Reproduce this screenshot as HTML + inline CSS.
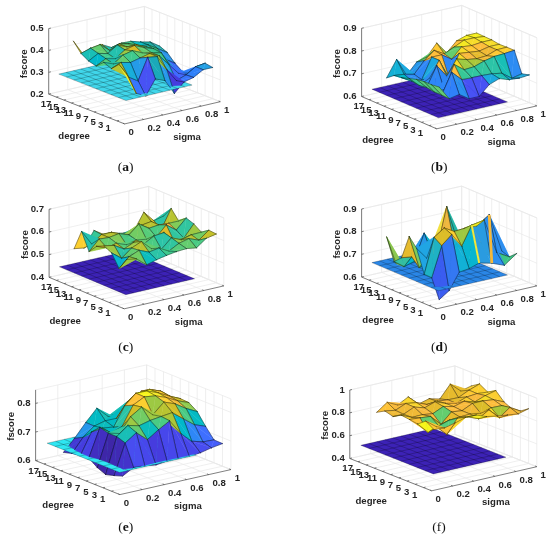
<!DOCTYPE html>
<html><head><meta charset="utf-8"><title>fscore surfaces</title>
<style>html,body{margin:0;padding:0;background:#fff}svg{display:block}</style></head>
<body><svg width="550" height="538" viewBox="0 0 550 538" shape-rendering="geometricPrecision"><rect width="550" height="538" fill="#fff"/>
<g><path d="M124.6 123.9L48.7 94.1 M48.7 94.1L48.7 28.6 M143.7 119.5L67.8 89.7 M67.8 89.7L67.8 24.2 M162.9 115.0L87.0 85.2 M87.0 85.2L87.0 19.7 M182.0 110.6L106.1 80.8 M106.1 80.8L106.1 15.3 M201.2 106.1L125.3 76.3 M125.3 76.3L125.3 10.8 M220.3 101.7L144.4 71.9 M144.4 71.9L144.4 6.4 M117.0 120.9L212.7 98.7 M212.7 98.7L212.7 33.2 M109.4 117.9L205.1 95.7 M205.1 95.7L205.1 30.2 M101.8 115.0L197.5 92.8 M197.5 92.8L197.5 27.3 M94.2 112.0L189.9 89.8 M189.9 89.8L189.9 24.3 M86.7 109.0L182.4 86.8 M182.4 86.8L182.4 21.3 M79.1 106.0L174.8 83.8 M174.8 83.8L174.8 18.3 M71.5 103.0L167.2 80.8 M167.2 80.8L167.2 15.3 M63.9 100.1L159.6 77.9 M159.6 77.9L159.6 12.4 M56.3 97.1L152.0 74.9 M152.0 74.9L152.0 9.4 M48.7 94.1L144.4 71.9 M144.4 71.9L220.3 101.7 M48.7 72.3L144.4 50.1 M144.4 50.1L220.3 79.9 M48.7 50.4L144.4 28.2 M144.4 28.2L220.3 58.0 M48.7 28.6L144.4 6.4 M144.4 6.4L220.3 36.2 M48.7 28.6L144.4 6.4 M144.4 6.4L220.3 36.2 M220.3 101.7L220.3 36.2 M144.4 71.9L144.4 6.4 M48.7 94.1L144.4 71.9 M144.4 71.9L220.3 101.7" stroke="#e8e8e8" stroke-width="0.7" fill="none"/>
<polygon points="174.8,63.1 174.8,63.1 174.8,63.1" fill="#2a94e8" stroke="#2a94e8" stroke-width="0.4"/><polygon points="174.8,63.1 174.8,63.1 174.8,63.1" fill="#2a94e8" stroke="#2a94e8" stroke-width="0.4"/><path d="M174.8 63.1L174.8 63.1 M174.8 63.1L174.8 63.1" stroke="#000" stroke-opacity="0.75" stroke-width="0.5" fill="none" stroke-linecap="round"/>
<polygon points="173.8,68.0 182.4,71.5 174.3,65.7" fill="#3568f5" stroke="#3568f5" stroke-width="0.4"/><polygon points="182.4,71.5 174.8,63.1 174.8,63.1 174.3,65.7" fill="#3568f5" stroke="#3568f5" stroke-width="0.4"/><path d="M173.8 68.0L182.4 71.5 M182.4 71.5L174.8 63.1 M174.8 63.1L174.8 63.1" stroke="#000" stroke-opacity="0.75" stroke-width="0.5" fill="none" stroke-linecap="round"/>
<polygon points="180.4,73.0 189.9,76.9 174.1,68.3 174.9,69.1" fill="#4432cc" stroke="#4432cc" stroke-width="0.4"/><polygon points="189.9,76.9 182.4,71.5 173.8,68.0 174.1,68.3" fill="#4432cc" stroke="#4432cc" stroke-width="0.4"/><path d="M180.4 73.0L189.9 76.9 M189.9 76.9L182.4 71.5 M182.4 71.5L173.8 68.0 M174.9 69.1L180.4 73.0" stroke="#000" stroke-opacity="0.75" stroke-width="0.5" fill="none" stroke-linecap="round"/>
<polygon points="194.3,70.7 189.9,76.9 188.2,73.6" fill="#4269fe" stroke="#4269fe" stroke-width="0.4"/><polygon points="188.2,73.6 189.9,76.9 180.4,73.0 185.0,73.1" fill="#4269fe" stroke="#4269fe" stroke-width="0.4"/><path d="M194.3 70.7L189.9 76.9 M189.9 76.9L180.4 73.0 M180.4 73.0L185.0 73.1" stroke="#000" stroke-opacity="0.75" stroke-width="0.5" fill="none" stroke-linecap="round"/>
<polygon points="178.6,71.7 180.4,73.0 178.2,71.2" fill="#2b91ef" stroke="#2b91ef" stroke-width="0.4"/><polygon points="180.4,73.0 174.9,69.1 178.2,71.2" fill="#2b91ef" stroke="#2b91ef" stroke-width="0.4"/><path d="M178.6 71.7L180.4 73.0 M180.4 73.0L174.9 69.1" stroke="#000" stroke-opacity="0.75" stroke-width="0.5" fill="none" stroke-linecap="round"/>
<polygon points="185.0,73.1 180.4,73.0 178.6,71.7" fill="#327cfc" stroke="#327cfc" stroke-width="0.4"/><path d="M185.0 73.1L180.4 73.0 M180.4 73.0L178.6 71.7" stroke="#000" stroke-opacity="0.75" stroke-width="0.5" fill="none" stroke-linecap="round"/>
<polygon points="174.4,93.4 181.3,85.3 172.0,85.9" fill="#463cde" stroke="#463cde" stroke-width="0.4"/><path d="M174.4 93.4L181.3 85.3 M172.0 85.9L174.4 93.4" stroke="#000" stroke-opacity="0.75" stroke-width="0.5" fill="none" stroke-linecap="round"/>
<polygon points="170.3,87.8 174.4,93.4 171.3,86.7" fill="#2797eb" stroke="#2797eb" stroke-width="0.4"/><polygon points="174.4,93.4 172.0,85.9 171.3,86.7" fill="#2797eb" stroke="#2797eb" stroke-width="0.4"/><path d="M170.3 87.8L174.4 93.4 M174.4 93.4L172.0 85.9" stroke="#000" stroke-opacity="0.75" stroke-width="0.5" fill="none" stroke-linecap="round"/>
<polygon points="145.7,95.9 147.3,93.2 145.9,93.1" fill="#4852f4" stroke="#4852f4" stroke-width="0.4"/><polygon points="145.7,95.9 145.9,93.1 144.2,92.9" fill="#4852f4" stroke="#4852f4" stroke-width="0.4"/><path d="M145.7 95.9L147.3 93.2 M144.2 92.9L145.7 95.9" stroke="#000" stroke-opacity="0.75" stroke-width="0.5" fill="none" stroke-linecap="round"/>
<polygon points="140.9,94.6 145.7,95.9 143.4,93.4" fill="#3875fe" stroke="#3875fe" stroke-width="0.4"/><polygon points="145.7,95.9 144.2,92.9 143.4,93.4" fill="#3875fe" stroke="#3875fe" stroke-width="0.4"/><path d="M140.9 94.6L145.7 95.9 M145.7 95.9L144.2 92.9" stroke="#000" stroke-opacity="0.75" stroke-width="0.5" fill="none" stroke-linecap="round"/>
<polygon points="126.0,100.5 192.1,85.1 124.9,58.8 58.8,74.1" fill="#40d6ea"/><path d="M126.0 100.5L58.8 74.1 M133.3 98.8L66.1 72.4 M140.7 97.1L73.5 70.7 M148.0 95.4L80.8 69.0 M155.4 93.7L88.2 67.3 M162.7 91.9L95.5 65.6 M170.1 90.2L102.9 63.9 M177.4 88.5L110.2 62.2 M184.8 86.8L117.6 60.5 M192.1 85.1L124.9 58.8 M126.0 100.5L192.1 85.1 M118.5 97.5L184.6 82.2 M111.0 94.6L177.2 79.3 M103.6 91.7L169.7 76.3 M96.1 88.7L162.2 73.4 M88.7 85.8L154.8 70.5 M81.2 82.9L147.3 67.5 M73.7 80.0L139.9 64.6 M66.3 77.0L132.4 61.7 M58.8 74.1L124.9 58.8" stroke="#000" stroke-opacity="0.45" stroke-width="0.5" fill="none"/>
<polygon points="157.6,48.6 167.2,52.5 150.0,41.9" fill="#20b0b0" stroke="#20b0b0" stroke-width="0.4"/><polygon points="167.2,52.5 159.6,46.0 150.0,41.9" fill="#20b0b0" stroke="#20b0b0" stroke-width="0.4"/><path d="M157.6 48.6L167.2 52.5 M167.2 52.5L159.6 46.0 M159.6 46.0L150.0 41.9 M150.0 41.9L157.6 48.6" stroke="#000" stroke-opacity="0.75" stroke-width="0.5" fill="none" stroke-linecap="round"/>
<polygon points="165.2,59.2 174.8,63.1 157.6,48.6" fill="#2a94e8" stroke="#2a94e8" stroke-width="0.4"/><polygon points="174.8,63.1 167.2,52.5 157.6,48.6" fill="#2a94e8" stroke="#2a94e8" stroke-width="0.4"/><path d="M165.2 59.2L174.8 63.1 M174.8 63.1L167.2 52.5 M167.2 52.5L157.6 48.6 M157.6 48.6L165.2 59.2" stroke="#000" stroke-opacity="0.75" stroke-width="0.5" fill="none" stroke-linecap="round"/>
<polygon points="172.8,67.6 173.8,68.0 174.3,65.7 165.2,59.2" fill="#3568f5" stroke="#3568f5" stroke-width="0.4"/><polygon points="174.8,63.1 174.8,63.1 165.2,59.2 174.3,65.7" fill="#3568f5" stroke="#3568f5" stroke-width="0.4"/><path d="M172.8 67.6L173.8 68.0 M174.8 63.1L174.8 63.1 M174.8 63.1L165.2 59.2 M165.2 59.2L172.8 67.6" stroke="#000" stroke-opacity="0.75" stroke-width="0.5" fill="none" stroke-linecap="round"/>
<polygon points="148.0,44.9 157.6,48.6 140.4,41.9" fill="#20b0a8" stroke="#20b0a8" stroke-width="0.4"/><polygon points="157.6,48.6 150.0,41.9 140.4,41.9" fill="#20b0a8" stroke="#20b0a8" stroke-width="0.4"/><path d="M148.0 44.9L157.6 48.6 M157.6 48.6L150.0 41.9 M150.0 41.9L140.4 41.9 M140.4 41.9L148.0 44.9" stroke="#000" stroke-opacity="0.75" stroke-width="0.5" fill="none" stroke-linecap="round"/>
<polygon points="174.1,68.3 172.8,67.6 174.9,69.1" fill="#4432cc" stroke="#4432cc" stroke-width="0.4"/><polygon points="173.8,68.0 172.8,67.6 174.1,68.3" fill="#4432cc" stroke="#4432cc" stroke-width="0.4"/><path d="M173.8 68.0L172.8 67.6 M172.8 67.6L174.9 69.1" stroke="#000" stroke-opacity="0.75" stroke-width="0.5" fill="none" stroke-linecap="round"/>
<polygon points="155.6,51.1 165.2,59.2 148.0,44.9" fill="#3cc080" stroke="#3cc080" stroke-width="0.4"/><polygon points="165.2,59.2 157.6,48.6 148.0,44.9" fill="#3cc080" stroke="#3cc080" stroke-width="0.4"/><path d="M155.6 51.1L165.2 59.2 M165.2 59.2L157.6 48.6 M157.6 48.6L148.0 44.9 M148.0 44.9L155.6 51.1" stroke="#000" stroke-opacity="0.75" stroke-width="0.5" fill="none" stroke-linecap="round"/>
<polygon points="138.5,46.0 148.0,44.9 130.9,41.3" fill="#02bac3" stroke="#02bac3" stroke-width="0.4"/><polygon points="148.0,44.9 140.4,41.9 130.9,41.3" fill="#02bac3" stroke="#02bac3" stroke-width="0.4"/><path d="M138.5 46.0L148.0 44.9 M148.0 44.9L140.4 41.9 M140.4 41.9L130.9 41.3 M130.9 41.3L138.5 46.0" stroke="#000" stroke-opacity="0.75" stroke-width="0.5" fill="none" stroke-linecap="round"/>
<polygon points="163.2,58.5 172.8,67.6 155.6,51.1" fill="#20a5e3" stroke="#20a5e3" stroke-width="0.4"/><polygon points="172.8,67.6 165.2,59.2 155.6,51.1" fill="#20a5e3" stroke="#20a5e3" stroke-width="0.4"/><path d="M163.2 58.5L172.8 67.6 M172.8 67.6L165.2 59.2 M165.2 59.2L155.6 51.1 M155.6 51.1L163.2 58.5" stroke="#000" stroke-opacity="0.75" stroke-width="0.5" fill="none" stroke-linecap="round"/>
<polygon points="188.0,73.1 197.5,66.1 194.3,70.7 188.2,73.6" fill="#4269fe" stroke="#4269fe" stroke-width="0.4"/><polygon points="188.0,73.1 188.2,73.6 185.0,73.1" fill="#4269fe" stroke="#4269fe" stroke-width="0.4"/><path d="M188.0 73.1L197.5 66.1 M197.5 66.1L194.3 70.7 M185.0 73.1L188.0 73.1" stroke="#000" stroke-opacity="0.75" stroke-width="0.5" fill="none" stroke-linecap="round"/>
<polygon points="170.8,65.8 178.6,71.7 178.2,71.2 163.2,58.5" fill="#2b91ef" stroke="#2b91ef" stroke-width="0.4"/><polygon points="174.9,69.1 172.8,67.6 163.2,58.5 178.2,71.2" fill="#2b91ef" stroke="#2b91ef" stroke-width="0.4"/><path d="M170.8 65.8L178.6 71.7 M174.9 69.1L172.8 67.6 M172.8 67.6L163.2 58.5 M163.2 58.5L170.8 65.8" stroke="#000" stroke-opacity="0.75" stroke-width="0.5" fill="none" stroke-linecap="round"/>
<polygon points="146.1,46.8 155.6,51.1 138.5,46.0" fill="#24c1ae" stroke="#24c1ae" stroke-width="0.4"/><polygon points="155.6,51.1 148.0,44.9 138.5,46.0" fill="#24c1ae" stroke="#24c1ae" stroke-width="0.4"/><path d="M146.1 46.8L155.6 51.1 M155.6 51.1L148.0 44.9 M148.0 44.9L138.5 46.0 M138.5 46.0L146.1 46.8" stroke="#000" stroke-opacity="0.75" stroke-width="0.5" fill="none" stroke-linecap="round"/>
<polygon points="128.9,43.9 138.5,46.0 130.9,41.3" fill="#3fca8e" stroke="#3fca8e" stroke-width="0.4"/><polygon points="128.9,43.9 130.9,41.3 121.3,43.1" fill="#3fca8e" stroke="#3fca8e" stroke-width="0.4"/><path d="M128.9 43.9L138.5 46.0 M138.5 46.0L130.9 41.3 M130.9 41.3L121.3 43.1 M121.3 43.1L128.9 43.9" stroke="#000" stroke-opacity="0.75" stroke-width="0.5" fill="none" stroke-linecap="round"/>
<polygon points="178.4,73.2 188.0,73.1 170.8,65.8" fill="#327cfc" stroke="#327cfc" stroke-width="0.4"/><polygon points="188.0,73.1 185.0,73.1 178.6,71.7 170.8,65.8" fill="#327cfc" stroke="#327cfc" stroke-width="0.4"/><path d="M178.4 73.2L188.0 73.1 M188.0 73.1L185.0 73.1 M178.6 71.7L170.8 65.8 M170.8 65.8L178.4 73.2" stroke="#000" stroke-opacity="0.75" stroke-width="0.5" fill="none" stroke-linecap="round"/>
<polygon points="153.6,48.7 163.2,58.5 146.1,46.8" fill="#31c69f" stroke="#31c69f" stroke-width="0.4"/><polygon points="163.2,58.5 155.6,51.1 146.1,46.8" fill="#31c69f" stroke="#31c69f" stroke-width="0.4"/><path d="M153.6 48.7L163.2 58.5 M163.2 58.5L155.6 51.1 M155.6 51.1L146.1 46.8 M146.1 46.8L153.6 48.7" stroke="#000" stroke-opacity="0.75" stroke-width="0.5" fill="none" stroke-linecap="round"/>
<polygon points="119.3,43.9 128.9,43.9 111.7,47.5" fill="#64cd6f" stroke="#64cd6f" stroke-width="0.4"/><polygon points="128.9,43.9 121.3,43.1 111.7,47.5" fill="#64cd6f" stroke="#64cd6f" stroke-width="0.4"/><path d="M119.3 43.9L128.9 43.9 M128.9 43.9L121.3 43.1 M121.3 43.1L111.7 47.5 M111.7 47.5L119.3 43.9" stroke="#000" stroke-opacity="0.75" stroke-width="0.5" fill="none" stroke-linecap="round"/>
<polygon points="136.5,44.7 146.1,46.8 138.5,46.0" fill="#64cd6f" stroke="#64cd6f" stroke-width="0.4"/><polygon points="136.5,44.7 138.5,46.0 128.9,43.9" fill="#64cd6f" stroke="#64cd6f" stroke-width="0.4"/><path d="M136.5 44.7L146.1 46.8 M146.1 46.8L138.5 46.0 M138.5 46.0L128.9 43.9 M128.9 43.9L136.5 44.7" stroke="#000" stroke-opacity="0.75" stroke-width="0.5" fill="none" stroke-linecap="round"/>
<polygon points="195.6,66.7 205.1,63.2 188.0,73.1" fill="#23a0e5" stroke="#23a0e5" stroke-width="0.4"/><polygon points="205.1,63.2 197.5,66.1 188.0,73.1" fill="#23a0e5" stroke="#23a0e5" stroke-width="0.4"/><path d="M195.6 66.7L205.1 63.2 M205.1 63.2L197.5 66.1 M197.5 66.1L188.0 73.1 M188.0 73.1L195.6 66.7" stroke="#000" stroke-opacity="0.75" stroke-width="0.5" fill="none" stroke-linecap="round"/>
<polygon points="109.8,50.5 119.3,43.9 111.7,47.5" fill="#24c1ae" stroke="#24c1ae" stroke-width="0.4"/><polygon points="109.8,50.5 111.7,47.5 102.2,44.7" fill="#24c1ae" stroke="#24c1ae" stroke-width="0.4"/><path d="M109.8 50.5L119.3 43.9 M119.3 43.9L111.7 47.5 M111.7 47.5L102.2 44.7 M102.2 44.7L109.8 50.5" stroke="#000" stroke-opacity="0.75" stroke-width="0.5" fill="none" stroke-linecap="round"/>
<polygon points="161.2,52.8 170.8,65.8 153.6,48.7" fill="#24c1ae" stroke="#24c1ae" stroke-width="0.4"/><polygon points="170.8,65.8 163.2,58.5 153.6,48.7" fill="#24c1ae" stroke="#24c1ae" stroke-width="0.4"/><path d="M161.2 52.8L170.8 65.8 M170.8 65.8L163.2 58.5 M163.2 58.5L153.6 48.7 M153.6 48.7L161.2 52.8" stroke="#000" stroke-opacity="0.75" stroke-width="0.5" fill="none" stroke-linecap="round"/>
<polygon points="186.0,74.9 195.6,66.7 178.4,73.2" fill="#2f81fa" stroke="#2f81fa" stroke-width="0.4"/><polygon points="195.6,66.7 188.0,73.1 178.4,73.2" fill="#2f81fa" stroke="#2f81fa" stroke-width="0.4"/><path d="M186.0 74.9L195.6 66.7 M195.6 66.7L188.0 73.1 M188.0 73.1L178.4 73.2 M178.4 73.2L186.0 74.9" stroke="#000" stroke-opacity="0.75" stroke-width="0.5" fill="none" stroke-linecap="round"/>
<polygon points="126.9,46.9 136.5,44.7 128.9,43.9" fill="#64cd6f" stroke="#64cd6f" stroke-width="0.4"/><polygon points="126.9,46.9 128.9,43.9 119.3,43.9" fill="#64cd6f" stroke="#64cd6f" stroke-width="0.4"/><path d="M126.9 46.9L136.5 44.7 M136.5 44.7L128.9 43.9 M128.9 43.9L119.3 43.9 M119.3 43.9L126.9 46.9" stroke="#000" stroke-opacity="0.75" stroke-width="0.5" fill="none" stroke-linecap="round"/>
<polygon points="144.1,47.6 153.6,48.7 146.1,46.8" fill="#64cd6f" stroke="#64cd6f" stroke-width="0.4"/><polygon points="144.1,47.6 146.1,46.8 136.5,44.7" fill="#64cd6f" stroke="#64cd6f" stroke-width="0.4"/><path d="M144.1 47.6L153.6 48.7 M153.6 48.7L146.1 46.8 M146.1 46.8L136.5 44.7 M136.5 44.7L144.1 47.6" stroke="#000" stroke-opacity="0.75" stroke-width="0.5" fill="none" stroke-linecap="round"/>
<polygon points="168.8,64.5 178.4,73.2 161.2,52.8" fill="#1ca9df" stroke="#1ca9df" stroke-width="0.4"/><polygon points="178.4,73.2 170.8,65.8 161.2,52.8" fill="#1ca9df" stroke="#1ca9df" stroke-width="0.4"/><path d="M168.8 64.5L178.4 73.2 M178.4 73.2L170.8 65.8 M170.8 65.8L161.2 52.8 M161.2 52.8L168.8 64.5" stroke="#000" stroke-opacity="0.75" stroke-width="0.5" fill="none" stroke-linecap="round"/>
<polygon points="100.2,44.6 109.8,50.5 102.2,44.7" fill="#c5c22a" stroke="#c5c22a" stroke-width="0.4"/><polygon points="100.2,44.6 102.2,44.7 92.6,49.7" fill="#c5c22a" stroke="#c5c22a" stroke-width="0.4"/><path d="M100.2 44.6L109.8 50.5 M109.8 50.5L102.2 44.7 M102.2 44.7L92.6 49.7 M92.6 49.7L100.2 44.6" stroke="#000" stroke-opacity="0.75" stroke-width="0.5" fill="none" stroke-linecap="round"/>
<polygon points="203.1,69.7 212.7,67.5 205.1,63.2" fill="#23a0e5" stroke="#23a0e5" stroke-width="0.4"/><polygon points="203.1,69.7 205.1,63.2 195.6,66.7" fill="#23a0e5" stroke="#23a0e5" stroke-width="0.4"/><path d="M203.1 69.7L212.7 67.5 M212.7 67.5L205.1 63.2 M205.1 63.2L195.6 66.7 M195.6 66.7L203.1 69.7" stroke="#000" stroke-opacity="0.75" stroke-width="0.5" fill="none" stroke-linecap="round"/>
<polygon points="176.4,80.6 186.0,74.9 168.8,64.5" fill="#4269fe" stroke="#4269fe" stroke-width="0.4"/><polygon points="186.0,74.9 178.4,73.2 168.8,64.5" fill="#4269fe" stroke="#4269fe" stroke-width="0.4"/><path d="M176.4 80.6L186.0 74.9 M186.0 74.9L178.4 73.2 M178.4 73.2L168.8 64.5 M168.8 64.5L176.4 80.6" stroke="#000" stroke-opacity="0.75" stroke-width="0.5" fill="none" stroke-linecap="round"/>
<polygon points="117.3,45.0 126.9,46.9 109.8,50.5" fill="#d1bf27" stroke="#d1bf27" stroke-width="0.4"/><polygon points="126.9,46.9 119.3,43.9 109.8,50.5" fill="#d1bf27" stroke="#d1bf27" stroke-width="0.4"/><path d="M117.3 45.0L126.9 46.9 M126.9 46.9L119.3 43.9 M119.3 43.9L109.8 50.5 M109.8 50.5L117.3 45.0" stroke="#000" stroke-opacity="0.75" stroke-width="0.5" fill="none" stroke-linecap="round"/>
<polygon points="193.6,77.4 203.1,69.7 186.0,74.9" fill="#2f81fa" stroke="#2f81fa" stroke-width="0.4"/><polygon points="203.1,69.7 195.6,66.7 186.0,74.9" fill="#2f81fa" stroke="#2f81fa" stroke-width="0.4"/><path d="M193.6 77.4L203.1 69.7 M203.1 69.7L195.6 66.7 M195.6 66.7L186.0 74.9 M186.0 74.9L193.6 77.4" stroke="#000" stroke-opacity="0.75" stroke-width="0.5" fill="none" stroke-linecap="round"/>
<polygon points="151.7,52.8 161.2,52.8 144.1,47.6" fill="#3fca8e" stroke="#3fca8e" stroke-width="0.4"/><polygon points="161.2,52.8 153.6,48.7 144.1,47.6" fill="#3fca8e" stroke="#3fca8e" stroke-width="0.4"/><path d="M151.7 52.8L161.2 52.8 M161.2 52.8L153.6 48.7 M153.6 48.7L144.1 47.6 M144.1 47.6L151.7 52.8" stroke="#000" stroke-opacity="0.75" stroke-width="0.5" fill="none" stroke-linecap="round"/>
<polygon points="134.5,45.5 144.1,47.6 136.5,44.7" fill="#dcbd29" stroke="#dcbd29" stroke-width="0.4"/><polygon points="134.5,45.5 136.5,44.7 126.9,46.9" fill="#dcbd29" stroke="#dcbd29" stroke-width="0.4"/><path d="M134.5 45.5L144.1 47.6 M144.1 47.6L136.5 44.7 M136.5 44.7L126.9 46.9 M126.9 46.9L134.5 45.5" stroke="#000" stroke-opacity="0.75" stroke-width="0.5" fill="none" stroke-linecap="round"/>
<polygon points="90.6,48.2 100.2,44.6 83.0,54.1" fill="#abc739" stroke="#abc739" stroke-width="0.4"/><polygon points="100.2,44.6 92.6,49.7 83.0,54.1" fill="#abc739" stroke="#abc739" stroke-width="0.4"/><path d="M90.6 48.2L100.2 44.6 M100.2 44.6L92.6 49.7 M92.6 49.7L83.0 54.1 M83.0 54.1L90.6 48.2" stroke="#000" stroke-opacity="0.75" stroke-width="0.5" fill="none" stroke-linecap="round"/>
<polygon points="184.0,82.0 193.6,77.4 176.4,80.6" fill="#3875fe" stroke="#3875fe" stroke-width="0.4"/><polygon points="193.6,77.4 186.0,74.9 176.4,80.6" fill="#3875fe" stroke="#3875fe" stroke-width="0.4"/><path d="M184.0 82.0L193.6 77.4 M193.6 77.4L186.0 74.9 M186.0 74.9L176.4 80.6 M176.4 80.6L184.0 82.0" stroke="#000" stroke-opacity="0.75" stroke-width="0.5" fill="none" stroke-linecap="round"/>
<polygon points="107.8,53.5 117.3,45.0 109.8,50.5" fill="#3fca8e" stroke="#3fca8e" stroke-width="0.4"/><polygon points="107.8,53.5 109.8,50.5 100.2,44.6" fill="#3fca8e" stroke="#3fca8e" stroke-width="0.4"/><path d="M107.8 53.5L117.3 45.0 M117.3 45.0L109.8 50.5 M109.8 50.5L100.2 44.6 M100.2 44.6L107.8 53.5" stroke="#000" stroke-opacity="0.75" stroke-width="0.5" fill="none" stroke-linecap="round"/>
<polygon points="159.2,55.8 168.8,64.5 151.7,52.8" fill="#3fca8e" stroke="#3fca8e" stroke-width="0.4"/><polygon points="168.8,64.5 161.2,52.8 151.7,52.8" fill="#3fca8e" stroke="#3fca8e" stroke-width="0.4"/><path d="M159.2 55.8L168.8 64.5 M168.8 64.5L161.2 52.8 M161.2 52.8L151.7 52.8 M151.7 52.8L159.2 55.8" stroke="#000" stroke-opacity="0.75" stroke-width="0.5" fill="none" stroke-linecap="round"/>
<polygon points="166.8,69.7 176.4,80.6 159.2,55.8" fill="#1ca9df" stroke="#1ca9df" stroke-width="0.4"/><polygon points="176.4,80.6 168.8,64.5 159.2,55.8" fill="#1ca9df" stroke="#1ca9df" stroke-width="0.4"/><path d="M166.8 69.7L176.4 80.6 M176.4 80.6L168.8 64.5 M168.8 64.5L159.2 55.8 M159.2 55.8L166.8 69.7" stroke="#000" stroke-opacity="0.75" stroke-width="0.5" fill="none" stroke-linecap="round"/>
<polygon points="124.9,49.9 134.5,45.5 126.9,46.9" fill="#9dc943" stroke="#9dc943" stroke-width="0.4"/><polygon points="124.9,49.9 126.9,46.9 117.3,45.0" fill="#9dc943" stroke="#9dc943" stroke-width="0.4"/><path d="M124.9 49.9L134.5 45.5 M134.5 45.5L126.9 46.9 M126.9 46.9L117.3 45.0 M117.3 45.0L124.9 49.9" stroke="#000" stroke-opacity="0.75" stroke-width="0.5" fill="none" stroke-linecap="round"/>
<polygon points="181.3,85.3 184.0,82.0 166.8,69.7 172.0,85.9" fill="#463cde" stroke="#463cde" stroke-width="0.4"/><polygon points="184.0,82.0 176.4,80.6 166.8,69.7" fill="#463cde" stroke="#463cde" stroke-width="0.4"/><path d="M181.3 85.3L184.0 82.0 M184.0 82.0L176.4 80.6 M176.4 80.6L166.8 69.7 M166.8 69.7L172.0 85.9" stroke="#000" stroke-opacity="0.75" stroke-width="0.5" fill="none" stroke-linecap="round"/>
<polygon points="142.1,52.8 151.7,52.8 134.5,45.5" fill="#64cd6f" stroke="#64cd6f" stroke-width="0.4"/><polygon points="151.7,52.8 144.1,47.6 134.5,45.5" fill="#64cd6f" stroke="#64cd6f" stroke-width="0.4"/><path d="M142.1 52.8L151.7 52.8 M151.7 52.8L144.1 47.6 M144.1 47.6L134.5 45.5 M134.5 45.5L142.1 52.8" stroke="#000" stroke-opacity="0.75" stroke-width="0.5" fill="none" stroke-linecap="round"/>
<polygon points="81.0,53.4 90.6,48.2 83.0,54.1" fill="#d8d038" stroke="#d8d038" stroke-width="0.4"/><polygon points="81.0,53.4 83.0,54.1 73.4,41.1" fill="#d8d038" stroke="#d8d038" stroke-width="0.4"/><path d="M81.0 53.4L90.6 48.2 M90.6 48.2L83.0 54.1 M83.0 54.1L73.4 41.1 M73.4 41.1L81.0 53.4" stroke="#000" stroke-opacity="0.75" stroke-width="0.5" fill="none" stroke-linecap="round"/>
<polygon points="98.2,53.5 107.8,53.5 90.6,48.2" fill="#64cd6f" stroke="#64cd6f" stroke-width="0.4"/><polygon points="107.8,53.5 100.2,44.6 90.6,48.2" fill="#64cd6f" stroke="#64cd6f" stroke-width="0.4"/><path d="M98.2 53.5L107.8 53.5 M107.8 53.5L100.2 44.6 M100.2 44.6L90.6 48.2 M90.6 48.2L98.2 53.5" stroke="#000" stroke-opacity="0.75" stroke-width="0.5" fill="none" stroke-linecap="round"/>
<polygon points="115.4,58.7 124.9,49.9 117.3,45.0" fill="#24c1ae" stroke="#24c1ae" stroke-width="0.4"/><polygon points="115.4,58.7 117.3,45.0 107.8,53.5" fill="#24c1ae" stroke="#24c1ae" stroke-width="0.4"/><path d="M115.4 58.7L124.9 49.9 M124.9 49.9L117.3 45.0 M117.3 45.0L107.8 53.5 M107.8 53.5L115.4 58.7" stroke="#000" stroke-opacity="0.75" stroke-width="0.5" fill="none" stroke-linecap="round"/>
<polygon points="149.7,53.6 159.2,55.8 151.7,52.8" fill="#9dc943" stroke="#9dc943" stroke-width="0.4"/><polygon points="149.7,53.6 151.7,52.8 142.1,52.8" fill="#9dc943" stroke="#9dc943" stroke-width="0.4"/><path d="M149.7 53.6L159.2 55.8 M159.2 55.8L151.7 52.8 M151.7 52.8L142.1 52.8 M142.1 52.8L149.7 53.6" stroke="#000" stroke-opacity="0.75" stroke-width="0.5" fill="none" stroke-linecap="round"/>
<polygon points="88.6,61.0 98.2,53.5 90.6,48.2" fill="#19bfb6" stroke="#19bfb6" stroke-width="0.4"/><polygon points="88.6,61.0 90.6,48.2 81.0,53.4" fill="#19bfb6" stroke="#19bfb6" stroke-width="0.4"/><path d="M88.6 61.0L98.2 53.5 M98.2 53.5L90.6 48.2 M90.6 48.2L81.0 53.4 M81.0 53.4L88.6 61.0" stroke="#000" stroke-opacity="0.75" stroke-width="0.5" fill="none" stroke-linecap="round"/>
<polygon points="132.5,50.7 142.1,52.8 124.9,49.9" fill="#dcbd29" stroke="#dcbd29" stroke-width="0.4"/><polygon points="142.1,52.8 134.5,45.5 124.9,49.9" fill="#dcbd29" stroke="#dcbd29" stroke-width="0.4"/><path d="M132.5 50.7L142.1 52.8 M142.1 52.8L134.5 45.5 M134.5 45.5L124.9 49.9 M124.9 49.9L132.5 50.7" stroke="#000" stroke-opacity="0.75" stroke-width="0.5" fill="none" stroke-linecap="round"/>
<polygon points="105.8,58.7 115.4,58.7 98.2,53.5" fill="#3fca8e" stroke="#3fca8e" stroke-width="0.4"/><polygon points="115.4,58.7 107.8,53.5 98.2,53.5" fill="#3fca8e" stroke="#3fca8e" stroke-width="0.4"/><path d="M105.8 58.7L115.4 58.7 M115.4 58.7L107.8 53.5 M107.8 53.5L98.2 53.5 M98.2 53.5L105.8 58.7" stroke="#000" stroke-opacity="0.75" stroke-width="0.5" fill="none" stroke-linecap="round"/>
<polygon points="164.9,80.6 170.3,87.8 171.3,86.7 157.3,56.6" fill="#2797eb" stroke="#2797eb" stroke-width="0.4"/><polygon points="172.0,85.9 166.8,69.7 157.3,56.6 171.3,86.7" fill="#2797eb" stroke="#2797eb" stroke-width="0.4"/><path d="M164.9 80.6L170.3 87.8 M172.0 85.9L166.8 69.7 M166.8 69.7L157.3 56.6 M157.3 56.6L164.9 80.6" stroke="#000" stroke-opacity="0.75" stroke-width="0.5" fill="none" stroke-linecap="round"/>
<polygon points="123.0,55.1 132.5,50.7 115.4,58.7" fill="#9dc943" stroke="#9dc943" stroke-width="0.4"/><polygon points="132.5,50.7 124.9,49.9 115.4,58.7" fill="#9dc943" stroke="#9dc943" stroke-width="0.4"/><path d="M123.0 55.1L132.5 50.7 M132.5 50.7L124.9 49.9 M124.9 49.9L115.4 58.7 M115.4 58.7L123.0 55.1" stroke="#000" stroke-opacity="0.75" stroke-width="0.5" fill="none" stroke-linecap="round"/>
<polygon points="157.3,56.6 166.8,69.7 149.7,53.6" fill="#9dc943" stroke="#9dc943" stroke-width="0.4"/><polygon points="166.8,69.7 159.2,55.8 149.7,53.6" fill="#9dc943" stroke="#9dc943" stroke-width="0.4"/><path d="M157.3 56.6L166.8 69.7 M166.8 69.7L159.2 55.8 M159.2 55.8L149.7 53.6 M149.7 53.6L157.3 56.6" stroke="#000" stroke-opacity="0.75" stroke-width="0.5" fill="none" stroke-linecap="round"/>
<polygon points="96.2,66.0 105.8,58.7 98.2,53.5" fill="#01b8ca" stroke="#01b8ca" stroke-width="0.4"/><polygon points="96.2,66.0 98.2,53.5 88.6,61.0" fill="#01b8ca" stroke="#01b8ca" stroke-width="0.4"/><path d="M96.2 66.0L105.8 58.7 M105.8 58.7L98.2 53.5 M98.2 53.5L88.6 61.0 M88.6 61.0L96.2 66.0" stroke="#000" stroke-opacity="0.75" stroke-width="0.5" fill="none" stroke-linecap="round"/>
<polygon points="140.1,58.0 149.7,53.6 132.5,50.7" fill="#64cd6f" stroke="#64cd6f" stroke-width="0.4"/><polygon points="149.7,53.6 142.1,52.8 132.5,50.7" fill="#64cd6f" stroke="#64cd6f" stroke-width="0.4"/><path d="M140.1 58.0L149.7 53.6 M149.7 53.6L142.1 52.8 M142.1 52.8L132.5 50.7 M132.5 50.7L140.1 58.0" stroke="#000" stroke-opacity="0.75" stroke-width="0.5" fill="none" stroke-linecap="round"/>
<polygon points="113.4,63.9 123.0,55.1 105.8,58.7" fill="#24c1ae" stroke="#24c1ae" stroke-width="0.4"/><polygon points="123.0,55.1 115.4,58.7 105.8,58.7" fill="#24c1ae" stroke="#24c1ae" stroke-width="0.4"/><path d="M113.4 63.9L123.0 55.1 M123.0 55.1L115.4 58.7 M115.4 58.7L105.8 58.7 M105.8 58.7L113.4 63.9" stroke="#000" stroke-opacity="0.75" stroke-width="0.5" fill="none" stroke-linecap="round"/>
<polygon points="130.5,62.5 140.1,58.0 132.5,50.7" fill="#3fca8e" stroke="#3fca8e" stroke-width="0.4"/><polygon points="130.5,62.5 132.5,50.7 123.0,55.1" fill="#3fca8e" stroke="#3fca8e" stroke-width="0.4"/><path d="M130.5 62.5L140.1 58.0 M140.1 58.0L132.5 50.7 M132.5 50.7L123.0 55.1 M123.0 55.1L130.5 62.5" stroke="#000" stroke-opacity="0.75" stroke-width="0.5" fill="none" stroke-linecap="round"/>
<polygon points="103.8,62.4 113.4,63.9 96.2,66.0" fill="#57cc7a" stroke="#57cc7a" stroke-width="0.4"/><polygon points="113.4,63.9 105.8,58.7 96.2,66.0" fill="#57cc7a" stroke="#57cc7a" stroke-width="0.4"/><path d="M103.8 62.4L113.4 63.9 M113.4 63.9L105.8 58.7 M105.8 58.7L96.2 66.0 M96.2 66.0L103.8 62.4" stroke="#000" stroke-opacity="0.75" stroke-width="0.5" fill="none" stroke-linecap="round"/>
<polygon points="147.7,57.3 157.3,56.6 140.1,58.0" fill="#c5c22a" stroke="#c5c22a" stroke-width="0.4"/><polygon points="157.3,56.6 149.7,53.6 140.1,58.0" fill="#c5c22a" stroke="#c5c22a" stroke-width="0.4"/><path d="M147.7 57.3L157.3 56.6 M157.3 56.6L149.7 53.6 M149.7 53.6L140.1 58.0 M140.1 58.0L147.7 57.3" stroke="#000" stroke-opacity="0.75" stroke-width="0.5" fill="none" stroke-linecap="round"/>
<polygon points="155.3,78.9 164.9,80.6 147.7,57.3" fill="#1aa9b9" stroke="#1aa9b9" stroke-width="0.4"/><polygon points="164.9,80.6 157.3,56.6 147.7,57.3" fill="#1aa9b9" stroke="#1aa9b9" stroke-width="0.4"/><path d="M155.3 78.9L164.9 80.6 M164.9 80.6L157.3 56.6 M157.3 56.6L147.7 57.3 M147.7 57.3L155.3 78.9" stroke="#000" stroke-opacity="0.75" stroke-width="0.5" fill="none" stroke-linecap="round"/>
<polygon points="138.1,80.9 147.7,57.3 140.1,58.0" fill="#259be8" stroke="#259be8" stroke-width="0.4"/><polygon points="138.1,80.9 140.1,58.0 130.5,62.5" fill="#259be8" stroke="#259be8" stroke-width="0.4"/><path d="M138.1 80.9L147.7 57.3 M147.7 57.3L140.1 58.0 M140.1 58.0L130.5 62.5 M130.5 62.5L138.1 80.9" stroke="#000" stroke-opacity="0.75" stroke-width="0.5" fill="none" stroke-linecap="round"/>
<polygon points="121.0,62.5 130.5,62.5 123.0,55.1" fill="#64cd6f" stroke="#64cd6f" stroke-width="0.4"/><polygon points="121.0,62.5 123.0,55.1 113.4,63.9" fill="#64cd6f" stroke="#64cd6f" stroke-width="0.4"/><path d="M121.0 62.5L130.5 62.5 M130.5 62.5L123.0 55.1 M123.0 55.1L113.4 63.9 M113.4 63.9L121.0 62.5" stroke="#000" stroke-opacity="0.75" stroke-width="0.5" fill="none" stroke-linecap="round"/>
<polygon points="147.3,93.2 155.3,78.9 147.7,57.3 145.9,93.1" fill="#4852f4" stroke="#4852f4" stroke-width="0.4"/><polygon points="145.9,93.1 147.7,57.3 138.1,80.9 144.2,92.9" fill="#4852f4" stroke="#4852f4" stroke-width="0.4"/><path d="M147.3 93.2L155.3 78.9 M155.3 78.9L147.7 57.3 M147.7 57.3L138.1 80.9 M138.1 80.9L144.2 92.9" stroke="#000" stroke-opacity="0.75" stroke-width="0.5" fill="none" stroke-linecap="round"/>
<polygon points="136.2,93.3 140.9,94.6 143.4,93.4 128.6,77.0" fill="#3875fe" stroke="#3875fe" stroke-width="0.4"/><polygon points="144.2,92.9 138.1,80.9 128.6,77.0 143.4,93.4" fill="#3875fe" stroke="#3875fe" stroke-width="0.4"/><path d="M136.2 93.3L140.9 94.6 M144.2 92.9L138.1 80.9 M138.1 80.9L128.6 77.0 M128.6 77.0L136.2 93.3" stroke="#000" stroke-opacity="0.75" stroke-width="0.5" fill="none" stroke-linecap="round"/>
<polygon points="128.6,77.0 138.1,80.9 121.0,62.5" fill="#18addb" stroke="#18addb" stroke-width="0.4"/><polygon points="138.1,80.9 130.5,62.5 121.0,62.5" fill="#18addb" stroke="#18addb" stroke-width="0.4"/><path d="M128.6 77.0L138.1 80.9 M138.1 80.9L130.5 62.5 M130.5 62.5L121.0 62.5 M121.0 62.5L128.6 77.0" stroke="#000" stroke-opacity="0.75" stroke-width="0.5" fill="none" stroke-linecap="round"/>
<polygon points="111.4,68.6 121.0,62.5 103.8,62.4" fill="#2cc4a7" stroke="#2cc4a7" stroke-width="0.4"/><polygon points="121.0,62.5 113.4,63.9 103.8,62.4" fill="#2cc4a7" stroke="#2cc4a7" stroke-width="0.4"/><path d="M111.4 68.6L121.0 62.5 M121.0 62.5L113.4 63.9 M113.4 63.9L103.8 62.4 M103.8 62.4L111.4 68.6" stroke="#000" stroke-opacity="0.75" stroke-width="0.5" fill="none" stroke-linecap="round"/>
<polygon points="119.0,64.4 128.6,77.0 111.4,68.6" fill="#b9c431" stroke="#b9c431" stroke-width="0.4"/><polygon points="128.6,77.0 121.0,62.5 111.4,68.6" fill="#b9c431" stroke="#b9c431" stroke-width="0.4"/><path d="M119.0 64.4L128.6 77.0 M128.6 77.0L121.0 62.5 M121.0 62.5L111.4 68.6 M111.4 68.6L119.0 64.4" stroke="#000" stroke-opacity="0.75" stroke-width="0.5" fill="none" stroke-linecap="round"/>
<polygon points="126.6,73.5 136.2,93.3 119.0,64.4" fill="#f2ee2e" stroke="#f2ee2e" stroke-width="0.4"/><polygon points="136.2,93.3 128.6,77.0 119.0,64.4" fill="#f2ee2e" stroke="#f2ee2e" stroke-width="0.4"/><path d="M126.6 73.5L136.2 93.3 M136.2 93.3L128.6 77.0 M128.6 77.0L119.0 64.4 M119.0 64.4L126.6 73.5" stroke="#000" stroke-opacity="0.75" stroke-width="0.5" fill="none" stroke-linecap="round"/>
<path d="M48.7 94.1L48.7 28.6 M48.7 94.1L124.6 123.9 M124.6 123.9L220.3 101.7 M48.7 94.1L50.9 93.6 M48.7 72.3L50.9 71.8 M48.7 50.4L50.9 49.9 M48.7 28.6L50.9 28.1 M117.0 120.9L119.0 120.4 M109.4 117.9L111.4 117.4 M101.8 115.0L103.8 114.5 M94.2 112.0L96.2 111.5 M86.7 109.0L88.7 108.5 M79.1 106.0L81.1 105.5 M71.5 103.0L73.5 102.5 M63.9 100.1L65.9 99.6 M56.3 97.1L58.3 96.6 M124.6 123.9L123.0 123.2 M143.7 119.5L142.1 118.8 M162.9 115.0L161.3 114.3 M182.0 110.6L180.4 109.9 M201.2 106.1L199.6 105.4 M220.3 101.7L218.7 101.0" stroke="#4a4a4a" stroke-width="0.7" fill="none"/>
<g font-family="Liberation Sans, Arial, sans-serif" font-weight="bold" font-size="9.6" fill="#262626"><text x="43.7" y="96.6" text-anchor="end">0.2</text><text x="43.7" y="74.7" text-anchor="end">0.3</text><text x="43.7" y="52.9" text-anchor="end">0.4</text><text x="43.7" y="31.1" text-anchor="end">0.5</text><text x="110.8" y="131.4" text-anchor="end">1</text><text x="103.4" y="128.3" text-anchor="end">3</text><text x="95.9" y="125.2" text-anchor="end">5</text><text x="88.5" y="122.1" text-anchor="end">7</text><text x="81.0" y="119.0" text-anchor="end">9</text><text x="73.6" y="115.9" text-anchor="end">11</text><text x="66.2" y="112.7" text-anchor="end">13</text><text x="58.7" y="109.6" text-anchor="end">15</text><text x="51.3" y="106.5" text-anchor="end">17</text><text x="128.4" y="135.1" text-anchor="start">0</text><text x="147.5" y="130.6" text-anchor="start">0.2</text><text x="166.7" y="126.2" text-anchor="start">0.4</text><text x="185.8" y="121.7" text-anchor="start">0.6</text><text x="205.0" y="117.3" text-anchor="start">0.8</text><text x="224.1" y="112.9" text-anchor="start">1</text><text x="74.1" y="138.5" text-anchor="middle">degree</text><text x="187.1" y="140.1" text-anchor="middle">sigma</text><text x="0.0" y="0.0" text-anchor="middle" transform="translate(27.3 63.8) rotate(-90)">fscore</text></g>
<text x="125.7" y="170.7" text-anchor="middle" font-family="Liberation Serif, serif" font-size="13.5" fill="#111">(<tspan font-weight="bold">a</tspan>)</text></g>
<g><path d="M436.7 128.8L361.6 96.5 M361.6 96.5L361.6 28.3 M456.7 124.2L381.6 91.9 M381.6 91.9L381.6 23.7 M476.7 119.6L401.6 87.3 M401.6 87.3L401.6 19.1 M496.8 115.1L421.7 82.8 M421.7 82.8L421.7 14.6 M516.8 110.5L441.7 78.2 M441.7 78.2L441.7 10.0 M536.8 105.9L461.7 73.6 M461.7 73.6L461.7 5.4 M429.2 125.6L529.3 102.7 M529.3 102.7L529.3 34.5 M421.7 122.3L521.8 99.4 M521.8 99.4L521.8 31.2 M414.2 119.1L514.3 96.2 M514.3 96.2L514.3 28.0 M406.7 115.9L506.8 93.0 M506.8 93.0L506.8 24.8 M399.1 112.7L499.2 89.8 M499.2 89.8L499.2 21.5 M391.6 109.4L491.7 86.5 M491.7 86.5L491.7 18.3 M384.1 106.2L484.2 83.3 M484.2 83.3L484.2 15.1 M376.6 103.0L476.7 80.1 M476.7 80.1L476.7 11.9 M369.1 99.7L469.2 76.8 M469.2 76.8L469.2 8.6 M361.6 96.5L461.7 73.6 M461.7 73.6L536.8 105.9 M361.6 73.8L461.7 50.9 M461.7 50.9L536.8 83.2 M361.6 51.0L461.7 28.1 M461.7 28.1L536.8 60.4 M361.6 28.3L461.7 5.4 M461.7 5.4L536.8 37.7 M361.6 28.3L461.7 5.4 M461.7 5.4L536.8 37.7 M536.8 105.9L536.8 37.7 M461.7 73.6L461.7 5.4 M361.6 96.5L461.7 73.6 M461.7 73.6L536.8 105.9" stroke="#e8e8e8" stroke-width="0.7" fill="none"/>
<polygon points="438.4,117.8 507.5,101.9 441.1,73.4 371.9,89.2" fill="#3c22b6"/><path d="M438.4 117.8L371.9 89.2 M446.0 116.0L379.6 87.4 M453.7 114.2L387.3 85.7 M461.4 112.5L394.9 83.9 M469.1 110.7L402.6 82.1 M476.8 109.0L410.3 80.4 M484.5 107.2L418.0 78.6 M492.1 105.5L425.7 76.9 M499.8 103.7L433.4 75.1 M507.5 101.9L441.1 73.4 M438.4 117.8L507.5 101.9 M431.0 114.6L500.1 98.8 M423.6 111.4L492.7 95.6 M416.2 108.2L485.4 92.4 M408.8 105.1L478.0 89.2 M401.4 101.9L470.6 86.1 M394.0 98.7L463.2 82.9 M386.7 95.5L455.8 79.7 M379.3 92.4L448.4 76.5 M371.9 89.2L441.1 73.4" stroke="#000" stroke-opacity="0.45" stroke-width="0.5" fill="none"/>
<polygon points="474.2,37.8 484.2,36.5 476.7,33.0" fill="#f6ef20" stroke="#f6ef20" stroke-width="0.4"/><polygon points="474.2,37.8 476.7,33.0 466.7,35.3" fill="#f6ef20" stroke="#f6ef20" stroke-width="0.4"/><path d="M474.2 37.8L484.2 36.5 M484.2 36.5L476.7 33.0 M476.7 33.0L466.7 35.3 M466.7 35.3L474.2 37.8" stroke="#000" stroke-opacity="0.75" stroke-width="0.5" fill="none" stroke-linecap="round"/>
<polygon points="464.2,40.1 474.2,37.8 456.7,40.8" fill="#f6ef20" stroke="#f6ef20" stroke-width="0.4"/><polygon points="474.2,37.8 466.7,35.3 456.7,40.8" fill="#f6ef20" stroke="#f6ef20" stroke-width="0.4"/><path d="M464.2 40.1L474.2 37.8 M474.2 37.8L466.7 35.3 M466.7 35.3L456.7 40.8 M456.7 40.8L464.2 40.1" stroke="#000" stroke-opacity="0.75" stroke-width="0.5" fill="none" stroke-linecap="round"/>
<polygon points="481.7,42.2 491.7,39.9 474.2,37.8" fill="#f5e924" stroke="#f5e924" stroke-width="0.4"/><polygon points="491.7,39.9 484.2,36.5 474.2,37.8" fill="#f5e924" stroke="#f5e924" stroke-width="0.4"/><path d="M481.7 42.2L491.7 39.9 M491.7 39.9L484.2 36.5 M484.2 36.5L474.2 37.8 M474.2 37.8L481.7 42.2" stroke="#000" stroke-opacity="0.75" stroke-width="0.5" fill="none" stroke-linecap="round"/>
<polygon points="454.2,47.0 464.2,40.1 446.7,52.8" fill="#febe3c" stroke="#febe3c" stroke-width="0.4"/><polygon points="464.2,40.1 456.7,40.8 446.7,52.8" fill="#febe3c" stroke="#febe3c" stroke-width="0.4"/><path d="M454.2 47.0L464.2 40.1 M464.2 40.1L456.7 40.8 M456.7 40.8L446.7 52.8 M446.7 52.8L454.2 47.0" stroke="#000" stroke-opacity="0.75" stroke-width="0.5" fill="none" stroke-linecap="round"/>
<polygon points="444.2,53.8 454.2,47.0 446.7,52.8" fill="#abc739" stroke="#abc739" stroke-width="0.4"/><polygon points="444.2,53.8 446.7,52.8 436.7,43.1" fill="#abc739" stroke="#abc739" stroke-width="0.4"/><path d="M444.2 53.8L454.2 47.0 M454.2 47.0L446.7 52.8 M446.7 52.8L436.7 43.1 M436.7 43.1L444.2 53.8" stroke="#000" stroke-opacity="0.75" stroke-width="0.5" fill="none" stroke-linecap="round"/>
<polygon points="471.7,45.6 481.7,42.2 474.2,37.8" fill="#f7dc2a" stroke="#f7dc2a" stroke-width="0.4"/><polygon points="471.7,45.6 474.2,37.8 464.2,40.1" fill="#f7dc2a" stroke="#f7dc2a" stroke-width="0.4"/><path d="M471.7 45.6L481.7 42.2 M481.7 42.2L474.2 37.8 M474.2 37.8L464.2 40.1 M464.2 40.1L471.7 45.6" stroke="#000" stroke-opacity="0.75" stroke-width="0.5" fill="none" stroke-linecap="round"/>
<polygon points="489.2,46.6 499.2,44.3 491.7,39.9" fill="#f7dc2a" stroke="#f7dc2a" stroke-width="0.4"/><polygon points="489.2,46.6 491.7,39.9 481.7,42.2" fill="#f7dc2a" stroke="#f7dc2a" stroke-width="0.4"/><path d="M489.2 46.6L499.2 44.3 M499.2 44.3L491.7 39.9 M491.7 39.9L481.7 42.2 M481.7 42.2L489.2 46.6" stroke="#000" stroke-opacity="0.75" stroke-width="0.5" fill="none" stroke-linecap="round"/>
<polygon points="461.7,46.8 471.7,45.6 454.2,47.0" fill="#f5e924" stroke="#f5e924" stroke-width="0.4"/><polygon points="471.7,45.6 464.2,40.1 454.2,47.0" fill="#f5e924" stroke="#f5e924" stroke-width="0.4"/><path d="M461.7 46.8L471.7 45.6 M471.7 45.6L464.2 40.1 M464.2 40.1L454.2 47.0 M454.2 47.0L461.7 46.8" stroke="#000" stroke-opacity="0.75" stroke-width="0.5" fill="none" stroke-linecap="round"/>
<polygon points="434.2,50.4 444.2,53.8 426.7,57.0" fill="#fec934" stroke="#fec934" stroke-width="0.4"/><polygon points="444.2,53.8 436.7,43.1 426.7,57.0" fill="#fec934" stroke="#fec934" stroke-width="0.4"/><path d="M434.2 50.4L444.2 53.8 M444.2 53.8L436.7 43.1 M436.7 43.1L426.7 57.0 M426.7 57.0L434.2 50.4" stroke="#000" stroke-opacity="0.75" stroke-width="0.5" fill="none" stroke-linecap="round"/>
<polygon points="479.2,51.1 489.2,46.6 481.7,42.2" fill="#febe3c" stroke="#febe3c" stroke-width="0.4"/><polygon points="479.2,51.1 481.7,42.2 471.7,45.6" fill="#febe3c" stroke="#febe3c" stroke-width="0.4"/><path d="M479.2 51.1L489.2 46.6 M489.2 46.6L481.7 42.2 M481.7 42.2L471.7 45.6 M471.7 45.6L479.2 51.1" stroke="#000" stroke-opacity="0.75" stroke-width="0.5" fill="none" stroke-linecap="round"/>
<polygon points="451.7,59.3 461.7,46.8 444.2,53.8" fill="#64cd6f" stroke="#64cd6f" stroke-width="0.4"/><polygon points="461.7,46.8 454.2,47.0 444.2,53.8" fill="#64cd6f" stroke="#64cd6f" stroke-width="0.4"/><path d="M451.7 59.3L461.7 46.8 M461.7 46.8L454.2 47.0 M454.2 47.0L444.2 53.8 M444.2 53.8L451.7 59.3" stroke="#000" stroke-opacity="0.75" stroke-width="0.5" fill="none" stroke-linecap="round"/>
<polygon points="496.8,49.8 506.8,47.2 489.2,46.6" fill="#f7dc2a" stroke="#f7dc2a" stroke-width="0.4"/><polygon points="506.8,47.2 499.2,44.3 489.2,46.6" fill="#f7dc2a" stroke="#f7dc2a" stroke-width="0.4"/><path d="M496.8 49.8L506.8 47.2 M506.8 47.2L499.2 44.3 M499.2 44.3L489.2 46.6 M489.2 46.6L496.8 49.8" stroke="#000" stroke-opacity="0.75" stroke-width="0.5" fill="none" stroke-linecap="round"/>
<polygon points="424.2,60.7 434.2,50.4 416.7,62.0" fill="#64cd6f" stroke="#64cd6f" stroke-width="0.4"/><polygon points="434.2,50.4 426.7,57.0 416.7,62.0" fill="#64cd6f" stroke="#64cd6f" stroke-width="0.4"/><path d="M424.2 60.7L434.2 50.4 M434.2 50.4L426.7 57.0 M426.7 57.0L416.7 62.0 M416.7 62.0L424.2 60.7" stroke="#000" stroke-opacity="0.75" stroke-width="0.5" fill="none" stroke-linecap="round"/>
<polygon points="414.2,74.3 424.2,60.7 406.6,75.2" fill="#2797eb" stroke="#2797eb" stroke-width="0.4"/><polygon points="424.2,60.7 416.7,62.0 406.6,75.2" fill="#2797eb" stroke="#2797eb" stroke-width="0.4"/><path d="M414.2 74.3L424.2 60.7 M424.2 60.7L416.7 62.0 M416.7 62.0L406.6 75.2 M406.6 75.2L414.2 74.3" stroke="#000" stroke-opacity="0.75" stroke-width="0.5" fill="none" stroke-linecap="round"/>
<polygon points="469.2,52.3 479.2,51.1 461.7,46.8" fill="#fec934" stroke="#fec934" stroke-width="0.4"/><polygon points="479.2,51.1 471.7,45.6 461.7,46.8" fill="#fec934" stroke="#fec934" stroke-width="0.4"/><path d="M469.2 52.3L479.2 51.1 M479.2 51.1L471.7 45.6 M471.7 45.6L461.7 46.8 M461.7 46.8L469.2 52.3" stroke="#000" stroke-opacity="0.75" stroke-width="0.5" fill="none" stroke-linecap="round"/>
<polygon points="486.7,55.7 496.8,49.8 489.2,46.6" fill="#f0ba36" stroke="#f0ba36" stroke-width="0.4"/><polygon points="486.7,55.7 489.2,46.6 479.2,51.1" fill="#f0ba36" stroke="#f0ba36" stroke-width="0.4"/><path d="M486.7 55.7L496.8 49.8 M496.8 49.8L489.2 46.6 M489.2 46.6L479.2 51.1 M479.2 51.1L486.7 55.7" stroke="#000" stroke-opacity="0.75" stroke-width="0.5" fill="none" stroke-linecap="round"/>
<polygon points="441.7,54.8 451.7,59.3 434.2,50.4" fill="#febe3c" stroke="#febe3c" stroke-width="0.4"/><polygon points="451.7,59.3 444.2,53.8 434.2,50.4" fill="#febe3c" stroke="#febe3c" stroke-width="0.4"/><path d="M441.7 54.8L451.7 59.3 M451.7 59.3L444.2 53.8 M444.2 53.8L434.2 50.4 M434.2 50.4L441.7 54.8" stroke="#000" stroke-opacity="0.75" stroke-width="0.5" fill="none" stroke-linecap="round"/>
<polygon points="404.1,74.3 414.2,74.3 396.6,59.5" fill="#1ca9df" stroke="#1ca9df" stroke-width="0.4"/><polygon points="414.2,74.3 406.6,75.2 396.6,59.5" fill="#1ca9df" stroke="#1ca9df" stroke-width="0.4"/><path d="M404.1 74.3L414.2 74.3 M414.2 74.3L406.6 75.2 M406.6 75.2L396.6 59.5 M396.6 59.5L404.1 74.3" stroke="#000" stroke-opacity="0.75" stroke-width="0.5" fill="none" stroke-linecap="round"/>
<polygon points="504.3,53.6 514.3,50.3 506.8,47.2" fill="#fccf30" stroke="#fccf30" stroke-width="0.4"/><polygon points="504.3,53.6 506.8,47.2 496.8,49.8" fill="#fccf30" stroke="#fccf30" stroke-width="0.4"/><path d="M504.3 53.6L514.3 50.3 M514.3 50.3L506.8 47.2 M506.8 47.2L496.8 49.8 M496.8 49.8L504.3 53.6" stroke="#000" stroke-opacity="0.75" stroke-width="0.5" fill="none" stroke-linecap="round"/>
<polygon points="511.8,78.3 521.8,73.8 514.3,50.3" fill="#2d8cf3" stroke="#2d8cf3" stroke-width="0.4"/><polygon points="511.8,78.3 514.3,50.3 504.3,53.6" fill="#2d8cf3" stroke="#2d8cf3" stroke-width="0.4"/><path d="M511.8 78.3L521.8 73.8 M521.8 73.8L514.3 50.3 M514.3 50.3L504.3 53.6 M504.3 53.6L511.8 78.3" stroke="#000" stroke-opacity="0.75" stroke-width="0.5" fill="none" stroke-linecap="round"/>
<polygon points="459.2,53.4 469.2,52.3 451.7,59.3" fill="#f7dc2a" stroke="#f7dc2a" stroke-width="0.4"/><polygon points="469.2,52.3 461.7,46.8 451.7,59.3" fill="#f7dc2a" stroke="#f7dc2a" stroke-width="0.4"/><path d="M459.2 53.4L469.2 52.3 M469.2 52.3L461.7 46.8 M461.7 46.8L451.7 59.3 M451.7 59.3L459.2 53.4" stroke="#000" stroke-opacity="0.75" stroke-width="0.5" fill="none" stroke-linecap="round"/>
<polygon points="476.7,58.7 486.7,55.7 469.2,52.3" fill="#e6bb2d" stroke="#e6bb2d" stroke-width="0.4"/><polygon points="486.7,55.7 479.2,51.1 469.2,52.3" fill="#e6bb2d" stroke="#e6bb2d" stroke-width="0.4"/><path d="M476.7 58.7L486.7 55.7 M486.7 55.7L479.2 51.1 M479.2 51.1L469.2 52.3 M469.2 52.3L476.7 58.7" stroke="#000" stroke-opacity="0.75" stroke-width="0.5" fill="none" stroke-linecap="round"/>
<polygon points="519.3,78.1 529.3,74.9 511.8,78.3" fill="#1ca9df" stroke="#1ca9df" stroke-width="0.4"/><polygon points="529.3,74.9 521.8,73.8 511.8,78.3" fill="#1ca9df" stroke="#1ca9df" stroke-width="0.4"/><path d="M519.3 78.1L529.3 74.9 M529.3 74.9L521.8 73.8 M521.8 73.8L511.8 78.3 M511.8 78.3L519.3 78.1" stroke="#000" stroke-opacity="0.75" stroke-width="0.5" fill="none" stroke-linecap="round"/>
<polygon points="449.2,78.5 459.2,53.4 451.7,59.3" fill="#2e87f7" stroke="#2e87f7" stroke-width="0.4"/><polygon points="449.2,78.5 451.7,59.3 441.7,54.8" fill="#2e87f7" stroke="#2e87f7" stroke-width="0.4"/><path d="M449.2 78.5L459.2 53.4 M459.2 53.4L451.7 59.3 M451.7 59.3L441.7 54.8 M441.7 54.8L449.2 78.5" stroke="#000" stroke-opacity="0.75" stroke-width="0.5" fill="none" stroke-linecap="round"/>
<polygon points="421.7,79.8 431.7,57.1 414.2,74.3" fill="#2e87f7" stroke="#2e87f7" stroke-width="0.4"/><polygon points="431.7,57.1 424.2,60.7 414.2,74.3" fill="#2e87f7" stroke="#2e87f7" stroke-width="0.4"/><path d="M421.7 79.8L431.7 57.1 M431.7 57.1L424.2 60.7 M424.2 60.7L414.2 74.3 M414.2 74.3L421.7 79.8" stroke="#000" stroke-opacity="0.75" stroke-width="0.5" fill="none" stroke-linecap="round"/>
<polygon points="431.7,57.1 441.7,54.8 424.2,60.7" fill="#febe3c" stroke="#febe3c" stroke-width="0.4"/><polygon points="441.7,54.8 434.2,50.4 424.2,60.7" fill="#febe3c" stroke="#febe3c" stroke-width="0.4"/><path d="M431.7 57.1L441.7 54.8 M441.7 54.8L434.2 50.4 M434.2 50.4L424.2 60.7 M424.2 60.7L431.7 57.1" stroke="#000" stroke-opacity="0.75" stroke-width="0.5" fill="none" stroke-linecap="round"/>
<polygon points="411.7,81.0 421.7,79.8 404.1,74.3" fill="#2d8cf3" stroke="#2d8cf3" stroke-width="0.4"/><polygon points="421.7,79.8 414.2,74.3 404.1,74.3" fill="#2d8cf3" stroke="#2d8cf3" stroke-width="0.4"/><path d="M411.7 81.0L421.7 79.8 M421.7 79.8L414.2 74.3 M414.2 74.3L404.1 74.3 M404.1 74.3L411.7 81.0" stroke="#000" stroke-opacity="0.75" stroke-width="0.5" fill="none" stroke-linecap="round"/>
<polygon points="494.2,56.5 504.3,53.6 486.7,55.7" fill="#fec934" stroke="#fec934" stroke-width="0.4"/><polygon points="504.3,53.6 496.8,49.8 486.7,55.7" fill="#fec934" stroke="#fec934" stroke-width="0.4"/><path d="M494.2 56.5L504.3 53.6 M504.3 53.6L496.8 49.8 M496.8 49.8L486.7 55.7 M486.7 55.7L494.2 56.5" stroke="#000" stroke-opacity="0.75" stroke-width="0.5" fill="none" stroke-linecap="round"/>
<polygon points="394.1,75.5 404.1,74.3 396.6,59.5" fill="#12b1d6" stroke="#12b1d6" stroke-width="0.4"/><polygon points="394.1,75.5 396.6,59.5 386.6,77.9" fill="#12b1d6" stroke="#12b1d6" stroke-width="0.4"/><path d="M394.1 75.5L404.1 74.3 M404.1 74.3L396.6 59.5 M396.6 59.5L386.6 77.9 M386.6 77.9L394.1 75.5" stroke="#000" stroke-opacity="0.75" stroke-width="0.5" fill="none" stroke-linecap="round"/>
<polygon points="501.8,73.2 511.8,78.3 494.2,56.5" fill="#19bfb6" stroke="#19bfb6" stroke-width="0.4"/><polygon points="511.8,78.3 504.3,53.6 494.2,56.5" fill="#19bfb6" stroke="#19bfb6" stroke-width="0.4"/><path d="M501.8 73.2L511.8 78.3 M511.8 78.3L504.3 53.6 M504.3 53.6L494.2 56.5 M494.2 56.5L501.8 73.2" stroke="#000" stroke-opacity="0.75" stroke-width="0.5" fill="none" stroke-linecap="round"/>
<polygon points="466.7,59.6 476.7,58.7 459.2,53.4" fill="#f8ba3d" stroke="#f8ba3d" stroke-width="0.4"/><polygon points="476.7,58.7 469.2,52.3 459.2,53.4" fill="#f8ba3d" stroke="#f8ba3d" stroke-width="0.4"/><path d="M466.7 59.6L476.7 58.7 M476.7 58.7L469.2 52.3 M469.2 52.3L459.2 53.4 M459.2 53.4L466.7 59.6" stroke="#000" stroke-opacity="0.75" stroke-width="0.5" fill="none" stroke-linecap="round"/>
<polygon points="509.3,79.7 519.3,78.1 511.8,78.3" fill="#18addb" stroke="#18addb" stroke-width="0.4"/><polygon points="509.3,79.7 511.8,78.3 501.8,73.2" fill="#18addb" stroke="#18addb" stroke-width="0.4"/><path d="M509.3 79.7L519.3 78.1 M519.3 78.1L511.8 78.3 M511.8 78.3L501.8 73.2 M501.8 73.2L509.3 79.7" stroke="#000" stroke-opacity="0.75" stroke-width="0.5" fill="none" stroke-linecap="round"/>
<polygon points="439.2,60.3 449.2,78.5 431.7,57.1" fill="#febe3c" stroke="#febe3c" stroke-width="0.4"/><polygon points="449.2,78.5 441.7,54.8 431.7,57.1" fill="#febe3c" stroke="#febe3c" stroke-width="0.4"/><path d="M439.2 60.3L449.2 78.5 M449.2 78.5L441.7 54.8 M441.7 54.8L431.7 57.1 M431.7 57.1L439.2 60.3" stroke="#000" stroke-opacity="0.75" stroke-width="0.5" fill="none" stroke-linecap="round"/>
<polygon points="484.2,61.0 494.2,56.5 476.7,58.7" fill="#f0ba36" stroke="#f0ba36" stroke-width="0.4"/><polygon points="494.2,56.5 486.7,55.7 476.7,58.7" fill="#f0ba36" stroke="#f0ba36" stroke-width="0.4"/><path d="M484.2 61.0L494.2 56.5 M494.2 56.5L486.7 55.7 M486.7 55.7L476.7 58.7 M476.7 58.7L484.2 61.0" stroke="#000" stroke-opacity="0.75" stroke-width="0.5" fill="none" stroke-linecap="round"/>
<polygon points="456.7,59.0 466.7,59.6 449.2,78.5" fill="#f7dc2a" stroke="#f7dc2a" stroke-width="0.4"/><polygon points="466.7,59.6 459.2,53.4 449.2,78.5" fill="#f7dc2a" stroke="#f7dc2a" stroke-width="0.4"/><path d="M456.7 59.0L466.7 59.6 M466.7 59.6L459.2 53.4 M459.2 53.4L449.2 78.5 M449.2 78.5L456.7 59.0" stroke="#000" stroke-opacity="0.75" stroke-width="0.5" fill="none" stroke-linecap="round"/>
<polygon points="419.2,85.3 429.2,78.5 411.7,81.0" fill="#2e87f7" stroke="#2e87f7" stroke-width="0.4"/><polygon points="429.2,78.5 421.7,79.8 411.7,81.0" fill="#2e87f7" stroke="#2e87f7" stroke-width="0.4"/><path d="M419.2 85.3L429.2 78.5 M429.2 78.5L421.7 79.8 M421.7 79.8L411.7 81.0 M411.7 81.0L419.2 85.3" stroke="#000" stroke-opacity="0.75" stroke-width="0.5" fill="none" stroke-linecap="round"/>
<polygon points="401.6,77.6 411.7,81.0 394.1,75.5" fill="#01b8ca" stroke="#01b8ca" stroke-width="0.4"/><polygon points="411.7,81.0 404.1,74.3 394.1,75.5" fill="#01b8ca" stroke="#01b8ca" stroke-width="0.4"/><path d="M401.6 77.6L411.7 81.0 M411.7 81.0L404.1 74.3 M404.1 74.3L394.1 75.5 M394.1 75.5L401.6 77.6" stroke="#000" stroke-opacity="0.75" stroke-width="0.5" fill="none" stroke-linecap="round"/>
<polygon points="429.2,78.5 439.2,60.3 421.7,79.8" fill="#1ca9df" stroke="#1ca9df" stroke-width="0.4"/><polygon points="439.2,60.3 431.7,57.1 421.7,79.8" fill="#1ca9df" stroke="#1ca9df" stroke-width="0.4"/><path d="M429.2 78.5L439.2 60.3 M439.2 60.3L431.7 57.1 M431.7 57.1L421.7 79.8 M421.7 79.8L429.2 78.5" stroke="#000" stroke-opacity="0.75" stroke-width="0.5" fill="none" stroke-linecap="round"/>
<polygon points="491.8,73.8 501.8,73.2 494.2,56.5" fill="#2cc4a7" stroke="#2cc4a7" stroke-width="0.4"/><polygon points="491.8,73.8 494.2,56.5 484.2,61.0" fill="#2cc4a7" stroke="#2cc4a7" stroke-width="0.4"/><path d="M491.8 73.8L501.8 73.2 M501.8 73.2L494.2 56.5 M494.2 56.5L484.2 61.0 M484.2 61.0L491.8 73.8" stroke="#000" stroke-opacity="0.75" stroke-width="0.5" fill="none" stroke-linecap="round"/>
<polygon points="474.2,66.7 484.2,61.0 476.7,58.7" fill="#abc739" stroke="#abc739" stroke-width="0.4"/><polygon points="474.2,66.7 476.7,58.7 466.7,59.6" fill="#abc739" stroke="#abc739" stroke-width="0.4"/><path d="M474.2 66.7L484.2 61.0 M484.2 61.0L476.7 58.7 M476.7 58.7L466.7 59.6 M466.7 59.6L474.2 66.7" stroke="#000" stroke-opacity="0.75" stroke-width="0.5" fill="none" stroke-linecap="round"/>
<polygon points="446.7,76.0 456.7,59.0 449.2,78.5" fill="#0bbdbd" stroke="#0bbdbd" stroke-width="0.4"/><polygon points="446.7,76.0 449.2,78.5 439.2,60.3" fill="#0bbdbd" stroke="#0bbdbd" stroke-width="0.4"/><path d="M446.7 76.0L456.7 59.0 M456.7 59.0L449.2 78.5 M449.2 78.5L439.2 60.3 M439.2 60.3L446.7 76.0" stroke="#000" stroke-opacity="0.75" stroke-width="0.5" fill="none" stroke-linecap="round"/>
<polygon points="499.3,78.6 509.3,79.7 491.8,73.8" fill="#19bfb6" stroke="#19bfb6" stroke-width="0.4"/><polygon points="509.3,79.7 501.8,73.2 491.8,73.8" fill="#19bfb6" stroke="#19bfb6" stroke-width="0.4"/><path d="M499.3 78.6L509.3 79.7 M509.3 79.7L501.8 73.2 M501.8 73.2L491.8 73.8 M491.8 73.8L499.3 78.6" stroke="#000" stroke-opacity="0.75" stroke-width="0.5" fill="none" stroke-linecap="round"/>
<polygon points="481.7,75.6 491.8,73.8 484.2,61.0" fill="#31c69f" stroke="#31c69f" stroke-width="0.4"/><polygon points="481.7,75.6 484.2,61.0 474.2,66.7" fill="#31c69f" stroke="#31c69f" stroke-width="0.4"/><path d="M481.7 75.6L491.8 73.8 M491.8 73.8L484.2 61.0 M484.2 61.0L474.2 66.7 M474.2 66.7L481.7 75.6" stroke="#000" stroke-opacity="0.75" stroke-width="0.5" fill="none" stroke-linecap="round"/>
<polygon points="409.2,78.5 419.2,85.3 411.7,81.0" fill="#24c1ae" stroke="#24c1ae" stroke-width="0.4"/><polygon points="409.2,78.5 411.7,81.0 401.6,77.6" fill="#24c1ae" stroke="#24c1ae" stroke-width="0.4"/><path d="M409.2 78.5L419.2 85.3 M419.2 85.3L411.7 81.0 M411.7 81.0L401.6 77.6 M401.6 77.6L409.2 78.5" stroke="#000" stroke-opacity="0.75" stroke-width="0.5" fill="none" stroke-linecap="round"/>
<polygon points="464.2,69.7 474.2,66.7 456.7,59.0" fill="#9dc943" stroke="#9dc943" stroke-width="0.4"/><polygon points="474.2,66.7 466.7,59.6 456.7,59.0" fill="#9dc943" stroke="#9dc943" stroke-width="0.4"/><path d="M464.2 69.7L474.2 66.7 M474.2 66.7L466.7 59.6 M466.7 59.6L456.7 59.0 M456.7 59.0L464.2 69.7" stroke="#000" stroke-opacity="0.75" stroke-width="0.5" fill="none" stroke-linecap="round"/>
<polygon points="436.7,65.8 446.7,76.0 429.2,78.5" fill="#febe3c" stroke="#febe3c" stroke-width="0.4"/><polygon points="446.7,76.0 439.2,60.3 429.2,78.5" fill="#febe3c" stroke="#febe3c" stroke-width="0.4"/><path d="M436.7 65.8L446.7 76.0 M446.7 76.0L439.2 60.3 M439.2 60.3L429.2 78.5 M429.2 78.5L436.7 65.8" stroke="#000" stroke-opacity="0.75" stroke-width="0.5" fill="none" stroke-linecap="round"/>
<polygon points="426.7,87.4 436.7,65.8 419.2,85.3" fill="#2d8cf3" stroke="#2d8cf3" stroke-width="0.4"/><polygon points="436.7,65.8 429.2,78.5 419.2,85.3" fill="#2d8cf3" stroke="#2d8cf3" stroke-width="0.4"/><path d="M426.7 87.4L436.7 65.8 M436.7 65.8L429.2 78.5 M429.2 78.5L419.2 85.3 M419.2 85.3L426.7 87.4" stroke="#000" stroke-opacity="0.75" stroke-width="0.5" fill="none" stroke-linecap="round"/>
<polygon points="489.2,84.6 499.3,78.6 491.8,73.8" fill="#1ca9df" stroke="#1ca9df" stroke-width="0.4"/><polygon points="489.2,84.6 491.8,73.8 481.7,75.6" fill="#1ca9df" stroke="#1ca9df" stroke-width="0.4"/><path d="M489.2 84.6L499.3 78.6 M499.3 78.6L491.8 73.8 M491.8 73.8L481.7 75.6 M481.7 75.6L489.2 84.6" stroke="#000" stroke-opacity="0.75" stroke-width="0.5" fill="none" stroke-linecap="round"/>
<polygon points="471.7,77.7 481.7,75.6 474.2,66.7" fill="#31c69f" stroke="#31c69f" stroke-width="0.4"/><polygon points="471.7,77.7 474.2,66.7 464.2,69.7" fill="#31c69f" stroke="#31c69f" stroke-width="0.4"/><path d="M471.7 77.7L481.7 75.6 M481.7 75.6L474.2 66.7 M474.2 66.7L464.2 69.7 M464.2 69.7L471.7 77.7" stroke="#000" stroke-opacity="0.75" stroke-width="0.5" fill="none" stroke-linecap="round"/>
<polygon points="454.2,64.5 464.2,69.7 446.7,76.0" fill="#f7dc2a" stroke="#f7dc2a" stroke-width="0.4"/><polygon points="464.2,69.7 456.7,59.0 446.7,76.0" fill="#f7dc2a" stroke="#f7dc2a" stroke-width="0.4"/><path d="M454.2 64.5L464.2 69.7 M464.2 69.7L456.7 59.0 M456.7 59.0L446.7 76.0 M446.7 76.0L454.2 64.5" stroke="#000" stroke-opacity="0.75" stroke-width="0.5" fill="none" stroke-linecap="round"/>
<polygon points="479.2,96.4 489.2,84.6 481.7,75.6" fill="#4852f4" stroke="#4852f4" stroke-width="0.4"/><polygon points="479.2,96.4 481.7,75.6 471.7,77.7" fill="#4852f4" stroke="#4852f4" stroke-width="0.4"/><path d="M479.2 96.4L489.2 84.6 M489.2 84.6L481.7 75.6 M481.7 75.6L471.7 77.7 M471.7 77.7L479.2 96.4" stroke="#000" stroke-opacity="0.75" stroke-width="0.5" fill="none" stroke-linecap="round"/>
<polygon points="416.7,79.5 426.7,87.4 419.2,85.3" fill="#3fca8e" stroke="#3fca8e" stroke-width="0.4"/><polygon points="416.7,79.5 419.2,85.3 409.2,78.5" fill="#3fca8e" stroke="#3fca8e" stroke-width="0.4"/><path d="M416.7 79.5L426.7 87.4 M426.7 87.4L419.2 85.3 M419.2 85.3L409.2 78.5 M409.2 78.5L416.7 79.5" stroke="#000" stroke-opacity="0.75" stroke-width="0.5" fill="none" stroke-linecap="round"/>
<polygon points="444.2,89.5 454.2,64.5 446.7,76.0" fill="#2e87f7" stroke="#2e87f7" stroke-width="0.4"/><polygon points="444.2,89.5 446.7,76.0 436.7,65.8" fill="#2e87f7" stroke="#2e87f7" stroke-width="0.4"/><path d="M444.2 89.5L454.2 64.5 M454.2 64.5L446.7 76.0 M446.7 76.0L436.7 65.8 M436.7 65.8L444.2 89.5" stroke="#000" stroke-opacity="0.75" stroke-width="0.5" fill="none" stroke-linecap="round"/>
<polygon points="434.2,91.8 444.2,89.5 436.7,65.8" fill="#2e87f7" stroke="#2e87f7" stroke-width="0.4"/><polygon points="434.2,91.8 436.7,65.8 426.7,87.4" fill="#2e87f7" stroke="#2e87f7" stroke-width="0.4"/><path d="M434.2 91.8L444.2 89.5 M444.2 89.5L436.7 65.8 M436.7 65.8L426.7 87.4 M426.7 87.4L434.2 91.8" stroke="#000" stroke-opacity="0.75" stroke-width="0.5" fill="none" stroke-linecap="round"/>
<polygon points="469.2,98.7 479.2,96.4 461.7,79.5" fill="#4852f4" stroke="#4852f4" stroke-width="0.4"/><polygon points="479.2,96.4 471.7,77.7 461.7,79.5" fill="#4852f4" stroke="#4852f4" stroke-width="0.4"/><path d="M469.2 98.7L479.2 96.4 M479.2 96.4L471.7 77.7 M471.7 77.7L461.7 79.5 M461.7 79.5L469.2 98.7" stroke="#000" stroke-opacity="0.75" stroke-width="0.5" fill="none" stroke-linecap="round"/>
<polygon points="461.7,79.5 471.7,77.7 454.2,64.5" fill="#37c897" stroke="#37c897" stroke-width="0.4"/><polygon points="471.7,77.7 464.2,69.7 454.2,64.5" fill="#37c897" stroke="#37c897" stroke-width="0.4"/><path d="M461.7 79.5L471.7 77.7 M471.7 77.7L464.2 69.7 M464.2 69.7L454.2 64.5 M454.2 64.5L461.7 79.5" stroke="#000" stroke-opacity="0.75" stroke-width="0.5" fill="none" stroke-linecap="round"/>
<polygon points="424.2,81.6 434.2,91.8 416.7,79.5" fill="#57cc7a" stroke="#57cc7a" stroke-width="0.4"/><polygon points="434.2,91.8 426.7,87.4 416.7,79.5" fill="#57cc7a" stroke="#57cc7a" stroke-width="0.4"/><path d="M424.2 81.6L434.2 91.8 M434.2 91.8L426.7 87.4 M426.7 87.4L416.7 79.5 M416.7 79.5L424.2 81.6" stroke="#000" stroke-opacity="0.75" stroke-width="0.5" fill="none" stroke-linecap="round"/>
<polygon points="451.7,72.3 461.7,79.5 444.2,89.5" fill="#febe3c" stroke="#febe3c" stroke-width="0.4"/><polygon points="461.7,79.5 454.2,64.5 444.2,89.5" fill="#febe3c" stroke="#febe3c" stroke-width="0.4"/><path d="M451.7 72.3L461.7 79.5 M461.7 79.5L454.2 64.5 M454.2 64.5L444.2 89.5 M444.2 89.5L451.7 72.3" stroke="#000" stroke-opacity="0.75" stroke-width="0.5" fill="none" stroke-linecap="round"/>
<polygon points="441.7,95.0 451.7,72.3 434.2,91.8" fill="#2e87f7" stroke="#2e87f7" stroke-width="0.4"/><polygon points="451.7,72.3 444.2,89.5 434.2,91.8" fill="#2e87f7" stroke="#2e87f7" stroke-width="0.4"/><path d="M441.7 95.0L451.7 72.3 M451.7 72.3L444.2 89.5 M444.2 89.5L434.2 91.8 M434.2 91.8L441.7 95.0" stroke="#000" stroke-opacity="0.75" stroke-width="0.5" fill="none" stroke-linecap="round"/>
<polygon points="459.2,94.4 469.2,98.7 451.7,72.3" fill="#2b91ef" stroke="#2b91ef" stroke-width="0.4"/><polygon points="469.2,98.7 461.7,79.5 451.7,72.3" fill="#2b91ef" stroke="#2b91ef" stroke-width="0.4"/><path d="M459.2 94.4L469.2 98.7 M469.2 98.7L461.7 79.5 M461.7 79.5L451.7 72.3 M451.7 72.3L459.2 94.4" stroke="#000" stroke-opacity="0.75" stroke-width="0.5" fill="none" stroke-linecap="round"/>
<polygon points="431.7,84.8 441.7,95.0 424.2,81.6" fill="#57cc7a" stroke="#57cc7a" stroke-width="0.4"/><polygon points="441.7,95.0 434.2,91.8 424.2,81.6" fill="#57cc7a" stroke="#57cc7a" stroke-width="0.4"/><path d="M431.7 84.8L441.7 95.0 M441.7 95.0L434.2 91.8 M434.2 91.8L424.2 81.6 M424.2 81.6L431.7 84.8" stroke="#000" stroke-opacity="0.75" stroke-width="0.5" fill="none" stroke-linecap="round"/>
<polygon points="449.2,98.7 459.2,94.4 451.7,72.3" fill="#2f81fa" stroke="#2f81fa" stroke-width="0.4"/><polygon points="449.2,98.7 451.7,72.3 441.7,95.0" fill="#2f81fa" stroke="#2f81fa" stroke-width="0.4"/><path d="M449.2 98.7L459.2 94.4 M459.2 94.4L451.7 72.3 M451.7 72.3L441.7 95.0 M441.7 95.0L449.2 98.7" stroke="#000" stroke-opacity="0.75" stroke-width="0.5" fill="none" stroke-linecap="round"/>
<polygon points="439.2,87.1 449.2,98.7 441.7,95.0" fill="#64cd6f" stroke="#64cd6f" stroke-width="0.4"/><polygon points="439.2,87.1 441.7,95.0 431.7,84.8" fill="#64cd6f" stroke="#64cd6f" stroke-width="0.4"/><path d="M439.2 87.1L449.2 98.7 M449.2 98.7L441.7 95.0 M441.7 95.0L431.7 84.8 M431.7 84.8L439.2 87.1" stroke="#000" stroke-opacity="0.75" stroke-width="0.5" fill="none" stroke-linecap="round"/>
<path d="M361.6 96.5L361.6 28.3 M361.6 96.5L436.7 128.8 M436.7 128.8L536.8 105.9 M361.6 96.5L363.8 96.0 M361.6 73.8L363.8 73.3 M361.6 51.0L363.8 50.5 M361.6 28.3L363.8 27.8 M429.2 125.6L431.2 125.1 M421.7 122.3L423.7 121.8 M414.2 119.1L416.2 118.6 M406.7 115.9L408.7 115.4 M399.1 112.7L401.1 112.2 M391.6 109.4L393.6 108.9 M384.1 106.2L386.1 105.7 M376.6 103.0L378.6 102.5 M369.1 99.7L371.1 99.2 M436.7 128.8L435.1 128.1 M456.7 124.2L455.1 123.5 M476.7 119.6L475.1 118.9 M496.8 115.1L495.2 114.4 M516.8 110.5L515.2 109.8 M536.8 105.9L535.2 105.2" stroke="#4a4a4a" stroke-width="0.7" fill="none"/>
<g font-family="Liberation Sans, Arial, sans-serif" font-weight="bold" font-size="9.6" fill="#262626"><text x="356.6" y="99.0" text-anchor="end">0.6</text><text x="356.6" y="76.2" text-anchor="end">0.7</text><text x="356.6" y="53.5" text-anchor="end">0.8</text><text x="356.6" y="30.8" text-anchor="end">0.9</text><text x="423.0" y="136.0" text-anchor="end">1</text><text x="415.6" y="132.7" text-anchor="end">3</text><text x="408.3" y="129.3" text-anchor="end">5</text><text x="400.9" y="126.0" text-anchor="end">7</text><text x="393.6" y="122.6" text-anchor="end">9</text><text x="386.2" y="119.3" text-anchor="end">11</text><text x="378.8" y="115.9" text-anchor="end">13</text><text x="371.5" y="112.5" text-anchor="end">15</text><text x="364.1" y="109.2" text-anchor="end">17</text><text x="440.5" y="140.0" text-anchor="start">0</text><text x="460.5" y="135.4" text-anchor="start">0.2</text><text x="480.5" y="130.8" text-anchor="start">0.4</text><text x="500.6" y="126.2" text-anchor="start">0.6</text><text x="520.6" y="121.6" text-anchor="start">0.8</text><text x="540.6" y="117.1" text-anchor="start">1</text><text x="377.9" y="143.1" text-anchor="middle">degree</text><text x="501.4" y="144.6" text-anchor="middle">sigma</text><text x="0.0" y="0.0" text-anchor="middle" transform="translate(340.2 63.6) rotate(-90)">fscore</text></g>
<text x="439.2" y="170.7" text-anchor="middle" font-family="Liberation Serif, serif" font-size="13.5" fill="#111">(<tspan font-weight="bold">b</tspan>)</text></g>
<g><path d="M124.2 308.8L49.1 277.3 M49.1 277.3L49.1 209.3 M144.1 304.2L69.0 272.7 M69.0 272.7L69.0 204.7 M164.0 299.6L88.9 268.1 M88.9 268.1L88.9 200.1 M184.0 295.1L108.9 263.6 M108.9 263.6L108.9 195.6 M203.9 290.5L128.8 259.0 M128.8 259.0L128.8 191.0 M223.8 285.9L148.7 254.4 M148.7 254.4L148.7 186.4 M116.7 305.7L216.3 282.8 M216.3 282.8L216.3 214.8 M109.2 302.5L208.8 279.6 M208.8 279.6L208.8 211.6 M101.7 299.4L201.3 276.4 M201.3 276.4L201.3 208.4 M94.2 296.2L193.8 273.3 M193.8 273.3L193.8 205.3 M86.7 293.1L186.2 270.1 M186.2 270.1L186.2 202.1 M79.1 289.9L178.7 267.0 M178.7 267.0L178.7 199.0 M71.6 286.8L171.2 263.8 M171.2 263.8L171.2 195.8 M64.1 283.6L163.7 260.7 M163.7 260.7L163.7 192.7 M56.6 280.4L156.2 257.5 M156.2 257.5L156.2 189.5 M49.1 277.3L148.7 254.4 M148.7 254.4L223.8 285.9 M49.1 254.6L148.7 231.7 M148.7 231.7L223.8 263.2 M49.1 232.0L148.7 209.1 M148.7 209.1L223.8 240.6 M49.1 209.3L148.7 186.4 M148.7 186.4L223.8 217.9 M49.1 209.3L148.7 186.4 M148.7 186.4L223.8 217.9 M223.8 285.9L223.8 217.9 M148.7 254.4L148.7 186.4 M49.1 277.3L148.7 254.4 M148.7 254.4L223.8 285.9" stroke="#e8e8e8" stroke-width="0.7" fill="none"/>
<polygon points="125.8,294.7 194.6,278.8 128.2,251.0 59.4,266.8" fill="#3c22b6"/><path d="M125.8 294.7L59.4 266.8 M133.5 292.9L67.0 265.0 M141.1 291.1L74.7 263.3 M148.8 289.4L82.3 261.5 M156.4 287.6L89.9 259.7 M164.1 285.9L97.6 258.0 M171.7 284.1L105.2 256.2 M179.4 282.3L112.9 254.5 M187.0 280.6L120.5 252.7 M194.6 278.8L128.2 251.0 M125.8 294.7L194.6 278.8 M118.4 291.6L187.3 275.7 M111.1 288.5L179.9 272.6 M103.7 285.4L172.5 269.5 M96.3 282.3L165.1 266.4 M88.9 279.2L157.7 263.3 M81.5 276.1L150.3 260.2 M74.1 273.0L143.0 257.1 M66.7 269.9L135.6 254.1 M59.4 266.8L128.2 251.0" stroke="#000" stroke-opacity="0.45" stroke-width="0.5" fill="none"/>
<polygon points="161.3,229.4 171.2,208.5 153.8,220.6" fill="#2cc4a7" stroke="#2cc4a7" stroke-width="0.4"/><polygon points="171.2,208.5 163.7,216.0 153.8,220.6" fill="#2cc4a7" stroke="#2cc4a7" stroke-width="0.4"/><path d="M161.3 229.4L171.2 208.5 M171.2 208.5L163.7 216.0 M163.7 216.0L153.8 220.6 M153.8 220.6L161.3 229.4" stroke="#000" stroke-opacity="0.75" stroke-width="0.5" fill="none" stroke-linecap="round"/>
<polygon points="151.3,221.5 161.3,229.4 143.8,212.2" fill="#d1bf27" stroke="#d1bf27" stroke-width="0.4"/><polygon points="161.3,229.4 153.8,220.6 143.8,212.2" fill="#d1bf27" stroke="#d1bf27" stroke-width="0.4"/><path d="M151.3 221.5L161.3 229.4 M161.3 229.4L153.8 220.6 M153.8 220.6L143.8 212.2 M143.8 212.2L151.3 221.5" stroke="#000" stroke-opacity="0.75" stroke-width="0.5" fill="none" stroke-linecap="round"/>
<polygon points="168.8,223.3 178.7,221.0 171.2,208.5" fill="#b9c431" stroke="#b9c431" stroke-width="0.4"/><polygon points="168.8,223.3 171.2,208.5 161.3,229.4" fill="#b9c431" stroke="#b9c431" stroke-width="0.4"/><path d="M168.8 223.3L178.7 221.0 M178.7 221.0L171.2 208.5 M171.2 208.5L161.3 229.4 M161.3 229.4L168.8 223.3" stroke="#000" stroke-opacity="0.75" stroke-width="0.5" fill="none" stroke-linecap="round"/>
<polygon points="141.4,225.2 151.3,221.5 133.8,231.1" fill="#b9c431" stroke="#b9c431" stroke-width="0.4"/><polygon points="151.3,221.5 143.8,212.2 133.8,231.1" fill="#b9c431" stroke="#b9c431" stroke-width="0.4"/><path d="M141.4 225.2L151.3 221.5 M151.3 221.5L143.8 212.2 M143.8 212.2L133.8 231.1 M133.8 231.1L141.4 225.2" stroke="#000" stroke-opacity="0.75" stroke-width="0.5" fill="none" stroke-linecap="round"/>
<polygon points="158.8,224.9 168.8,223.3 161.3,229.4" fill="#c5c22a" stroke="#c5c22a" stroke-width="0.4"/><polygon points="158.8,224.9 161.3,229.4 151.3,221.5" fill="#c5c22a" stroke="#c5c22a" stroke-width="0.4"/><path d="M158.8 224.9L168.8 223.3 M168.8 223.3L161.3 229.4 M161.3 229.4L151.3 221.5 M151.3 221.5L158.8 224.9" stroke="#000" stroke-opacity="0.75" stroke-width="0.5" fill="none" stroke-linecap="round"/>
<polygon points="131.4,236.5 141.4,225.2 123.9,233.1" fill="#2cc4a7" stroke="#2cc4a7" stroke-width="0.4"/><polygon points="141.4,225.2 133.8,231.1 123.9,233.1" fill="#2cc4a7" stroke="#2cc4a7" stroke-width="0.4"/><path d="M131.4 236.5L141.4 225.2 M141.4 225.2L133.8 231.1 M133.8 231.1L123.9 233.1 M123.9 233.1L131.4 236.5" stroke="#000" stroke-opacity="0.75" stroke-width="0.5" fill="none" stroke-linecap="round"/>
<polygon points="176.3,230.1 186.2,218.0 168.8,223.3" fill="#81cc59" stroke="#81cc59" stroke-width="0.4"/><polygon points="186.2,218.0 178.7,221.0 168.8,223.3" fill="#81cc59" stroke="#81cc59" stroke-width="0.4"/><path d="M176.3 230.1L186.2 218.0 M186.2 218.0L178.7 221.0 M178.7 221.0L168.8 223.3 M168.8 223.3L176.3 230.1" stroke="#000" stroke-opacity="0.75" stroke-width="0.5" fill="none" stroke-linecap="round"/>
<polygon points="121.4,236.3 131.4,236.5 113.9,233.2" fill="#3fca8e" stroke="#3fca8e" stroke-width="0.4"/><polygon points="131.4,236.5 123.9,233.1 113.9,233.2" fill="#3fca8e" stroke="#3fca8e" stroke-width="0.4"/><path d="M121.4 236.3L131.4 236.5 M131.4 236.5L123.9 233.1 M123.9 233.1L113.9 233.2 M113.9 233.2L121.4 236.3" stroke="#000" stroke-opacity="0.75" stroke-width="0.5" fill="none" stroke-linecap="round"/>
<polygon points="148.9,228.3 158.8,224.9 151.3,221.5" fill="#b9c431" stroke="#b9c431" stroke-width="0.4"/><polygon points="148.9,228.3 151.3,221.5 141.4,225.2" fill="#b9c431" stroke="#b9c431" stroke-width="0.4"/><path d="M148.9 228.3L158.8 224.9 M158.8 224.9L151.3 221.5 M151.3 221.5L141.4 225.2 M141.4 225.2L148.9 228.3" stroke="#000" stroke-opacity="0.75" stroke-width="0.5" fill="none" stroke-linecap="round"/>
<polygon points="166.3,224.9 176.3,230.1 158.8,224.9" fill="#f8ba3d" stroke="#f8ba3d" stroke-width="0.4"/><polygon points="176.3,230.1 168.8,223.3 158.8,224.9" fill="#f8ba3d" stroke="#f8ba3d" stroke-width="0.4"/><path d="M166.3 224.9L176.3 230.1 M176.3 230.1L168.8 223.3 M168.8 223.3L158.8 224.9 M158.8 224.9L166.3 224.9" stroke="#000" stroke-opacity="0.75" stroke-width="0.5" fill="none" stroke-linecap="round"/>
<polygon points="183.8,238.2 193.8,223.9 186.2,218.0" fill="#31c69f" stroke="#31c69f" stroke-width="0.4"/><polygon points="183.8,238.2 186.2,218.0 176.3,230.1" fill="#31c69f" stroke="#31c69f" stroke-width="0.4"/><path d="M183.8 238.2L193.8 223.9 M193.8 223.9L186.2 218.0 M186.2 218.0L176.3 230.1 M176.3 230.1L183.8 238.2" stroke="#000" stroke-opacity="0.75" stroke-width="0.5" fill="none" stroke-linecap="round"/>
<polygon points="138.9,224.0 148.9,228.3 131.4,236.5" fill="#fec934" stroke="#fec934" stroke-width="0.4"/><polygon points="148.9,228.3 141.4,225.2 131.4,236.5" fill="#fec934" stroke="#fec934" stroke-width="0.4"/><path d="M138.9 224.0L148.9 228.3 M148.9 228.3L141.4 225.2 M141.4 225.2L131.4 236.5 M131.4 236.5L138.9 224.0" stroke="#000" stroke-opacity="0.75" stroke-width="0.5" fill="none" stroke-linecap="round"/>
<polygon points="173.8,240.9 183.8,238.2 166.3,224.9" fill="#31c69f" stroke="#31c69f" stroke-width="0.4"/><polygon points="183.8,238.2 176.3,230.1 166.3,224.9" fill="#31c69f" stroke="#31c69f" stroke-width="0.4"/><path d="M173.8 240.9L183.8 238.2 M183.8 238.2L176.3 230.1 M176.3 230.1L166.3 224.9 M166.3 224.9L173.8 240.9" stroke="#000" stroke-opacity="0.75" stroke-width="0.5" fill="none" stroke-linecap="round"/>
<polygon points="111.5,232.3 121.4,236.3 113.9,233.2" fill="#b9c431" stroke="#b9c431" stroke-width="0.4"/><polygon points="111.5,232.3 113.9,233.2 104.0,234.5" fill="#b9c431" stroke="#b9c431" stroke-width="0.4"/><path d="M111.5 232.3L121.4 236.3 M121.4 236.3L113.9 233.2 M113.9 233.2L104.0 234.5 M104.0 234.5L111.5 232.3" stroke="#000" stroke-opacity="0.75" stroke-width="0.5" fill="none" stroke-linecap="round"/>
<polygon points="156.4,237.1 166.3,224.9 158.8,224.9" fill="#4acb84" stroke="#4acb84" stroke-width="0.4"/><polygon points="156.4,237.1 158.8,224.9 148.9,228.3" fill="#4acb84" stroke="#4acb84" stroke-width="0.4"/><path d="M156.4 237.1L166.3 224.9 M166.3 224.9L158.8 224.9 M158.8 224.9L148.9 228.3 M148.9 228.3L156.4 237.1" stroke="#000" stroke-opacity="0.75" stroke-width="0.5" fill="none" stroke-linecap="round"/>
<polygon points="191.3,234.8 201.3,232.2 183.8,238.2" fill="#9dc943" stroke="#9dc943" stroke-width="0.4"/><polygon points="201.3,232.2 193.8,223.9 183.8,238.2" fill="#9dc943" stroke="#9dc943" stroke-width="0.4"/><path d="M191.3 234.8L201.3 232.2 M201.3 232.2L193.8 223.9 M193.8 223.9L183.8 238.2 M183.8 238.2L191.3 234.8" stroke="#000" stroke-opacity="0.75" stroke-width="0.5" fill="none" stroke-linecap="round"/>
<polygon points="128.9,234.9 138.9,224.0 121.4,236.3" fill="#8fcb4e" stroke="#8fcb4e" stroke-width="0.4"/><polygon points="138.9,224.0 131.4,236.5 121.4,236.3" fill="#8fcb4e" stroke="#8fcb4e" stroke-width="0.4"/><path d="M128.9 234.9L138.9 224.0 M138.9 224.0L131.4 236.5 M131.4 236.5L121.4 236.3 M121.4 236.3L128.9 234.9" stroke="#000" stroke-opacity="0.75" stroke-width="0.5" fill="none" stroke-linecap="round"/>
<polygon points="146.4,239.2 156.4,237.1 138.9,224.0" fill="#57cc7a" stroke="#57cc7a" stroke-width="0.4"/><polygon points="156.4,237.1 148.9,228.3 138.9,224.0" fill="#57cc7a" stroke="#57cc7a" stroke-width="0.4"/><path d="M146.4 239.2L156.4 237.1 M156.4 237.1L148.9 228.3 M148.9 228.3L138.9 224.0 M138.9 224.0L146.4 239.2" stroke="#000" stroke-opacity="0.75" stroke-width="0.5" fill="none" stroke-linecap="round"/>
<polygon points="181.3,239.8 191.3,234.8 173.8,240.9" fill="#64cd6f" stroke="#64cd6f" stroke-width="0.4"/><polygon points="191.3,234.8 183.8,238.2 173.8,240.9" fill="#64cd6f" stroke="#64cd6f" stroke-width="0.4"/><path d="M181.3 239.8L191.3 234.8 M191.3 234.8L183.8 238.2 M183.8 238.2L173.8 240.9 M173.8 240.9L181.3 239.8" stroke="#000" stroke-opacity="0.75" stroke-width="0.5" fill="none" stroke-linecap="round"/>
<polygon points="163.9,232.6 173.8,240.9 156.4,237.1" fill="#dcbd29" stroke="#dcbd29" stroke-width="0.4"/><polygon points="173.8,240.9 166.3,224.9 156.4,237.1" fill="#dcbd29" stroke="#dcbd29" stroke-width="0.4"/><path d="M163.9 232.6L173.8 240.9 M173.8 240.9L166.3 224.9 M166.3 224.9L156.4 237.1 M156.4 237.1L163.9 232.6" stroke="#000" stroke-opacity="0.75" stroke-width="0.5" fill="none" stroke-linecap="round"/>
<polygon points="101.5,234.5 111.5,232.3 104.0,234.5" fill="#b9c431" stroke="#b9c431" stroke-width="0.4"/><polygon points="101.5,234.5 104.0,234.5 94.0,230.5" fill="#b9c431" stroke="#b9c431" stroke-width="0.4"/><path d="M101.5 234.5L111.5 232.3 M111.5 232.3L104.0 234.5 M104.0 234.5L94.0 230.5 M94.0 230.5L101.5 234.5" stroke="#000" stroke-opacity="0.75" stroke-width="0.5" fill="none" stroke-linecap="round"/>
<polygon points="119.0,233.6 128.9,234.9 121.4,236.3" fill="#d1bf27" stroke="#d1bf27" stroke-width="0.4"/><polygon points="119.0,233.6 121.4,236.3 111.5,232.3" fill="#d1bf27" stroke="#d1bf27" stroke-width="0.4"/><path d="M119.0 233.6L128.9 234.9 M128.9 234.9L121.4 236.3 M121.4 236.3L111.5 232.3 M111.5 232.3L119.0 233.6" stroke="#000" stroke-opacity="0.75" stroke-width="0.5" fill="none" stroke-linecap="round"/>
<polygon points="198.8,240.2 208.8,230.2 191.3,234.8" fill="#72cd64" stroke="#72cd64" stroke-width="0.4"/><polygon points="208.8,230.2 201.3,232.2 191.3,234.8" fill="#72cd64" stroke="#72cd64" stroke-width="0.4"/><path d="M198.8 240.2L208.8 230.2 M208.8 230.2L201.3 232.2 M201.3 232.2L191.3 234.8 M191.3 234.8L198.8 240.2" stroke="#000" stroke-opacity="0.75" stroke-width="0.5" fill="none" stroke-linecap="round"/>
<polygon points="91.6,243.9 101.5,234.5 84.0,248.0" fill="#37c897" stroke="#37c897" stroke-width="0.4"/><polygon points="101.5,234.5 94.0,230.5 84.0,248.0" fill="#37c897" stroke="#37c897" stroke-width="0.4"/><path d="M91.6 243.9L101.5 234.5 M101.5 234.5L94.0 230.5 M94.0 230.5L84.0 248.0 M84.0 248.0L91.6 243.9" stroke="#000" stroke-opacity="0.75" stroke-width="0.5" fill="none" stroke-linecap="round"/>
<polygon points="136.4,240.1 146.4,239.2 138.9,224.0" fill="#72cd64" stroke="#72cd64" stroke-width="0.4"/><polygon points="136.4,240.1 138.9,224.0 128.9,234.9" fill="#72cd64" stroke="#72cd64" stroke-width="0.4"/><path d="M136.4 240.1L146.4 239.2 M146.4 239.2L138.9 224.0 M138.9 224.0L128.9 234.9 M128.9 234.9L136.4 240.1" stroke="#000" stroke-opacity="0.75" stroke-width="0.5" fill="none" stroke-linecap="round"/>
<polygon points="153.9,236.0 163.9,232.6 146.4,239.2" fill="#c5c22a" stroke="#c5c22a" stroke-width="0.4"/><polygon points="163.9,232.6 156.4,237.1 146.4,239.2" fill="#c5c22a" stroke="#c5c22a" stroke-width="0.4"/><path d="M153.9 236.0L163.9 232.6 M163.9 232.6L156.4 237.1 M156.4 237.1L146.4 239.2 M146.4 239.2L153.9 236.0" stroke="#000" stroke-opacity="0.75" stroke-width="0.5" fill="none" stroke-linecap="round"/>
<polygon points="171.4,237.8 181.3,239.8 173.8,240.9" fill="#b9c431" stroke="#b9c431" stroke-width="0.4"/><polygon points="171.4,237.8 173.8,240.9 163.9,232.6" fill="#b9c431" stroke="#b9c431" stroke-width="0.4"/><path d="M171.4 237.8L181.3 239.8 M181.3 239.8L173.8 240.9 M173.8 240.9L163.9 232.6 M163.9 232.6L171.4 237.8" stroke="#000" stroke-opacity="0.75" stroke-width="0.5" fill="none" stroke-linecap="round"/>
<polygon points="188.9,238.6 198.8,240.2 191.3,234.8" fill="#b9c431" stroke="#b9c431" stroke-width="0.4"/><polygon points="188.9,238.6 191.3,234.8 181.3,239.8" fill="#b9c431" stroke="#b9c431" stroke-width="0.4"/><path d="M188.9 238.6L198.8 240.2 M198.8 240.2L191.3 234.8 M191.3 234.8L181.3 239.8 M181.3 239.8L188.9 238.6" stroke="#000" stroke-opacity="0.75" stroke-width="0.5" fill="none" stroke-linecap="round"/>
<polygon points="81.6,231.4 91.6,243.9 84.0,248.0" fill="#fccf30" stroke="#fccf30" stroke-width="0.4"/><polygon points="81.6,231.4 84.0,248.0 74.1,248.7" fill="#fccf30" stroke="#fccf30" stroke-width="0.4"/><path d="M81.6 231.4L91.6 243.9 M91.6 243.9L84.0 248.0 M84.0 248.0L74.1 248.7 M74.1 248.7L81.6 231.4" stroke="#000" stroke-opacity="0.75" stroke-width="0.5" fill="none" stroke-linecap="round"/>
<polygon points="126.5,244.7 136.4,240.1 119.0,233.6" fill="#4acb84" stroke="#4acb84" stroke-width="0.4"/><polygon points="136.4,240.1 128.9,234.9 119.0,233.6" fill="#4acb84" stroke="#4acb84" stroke-width="0.4"/><path d="M126.5 244.7L136.4 240.1 M136.4 240.1L128.9 234.9 M128.9 234.9L119.0 233.6 M119.0 233.6L126.5 244.7" stroke="#000" stroke-opacity="0.75" stroke-width="0.5" fill="none" stroke-linecap="round"/>
<polygon points="109.0,237.5 119.0,233.6 101.5,234.5" fill="#b9c431" stroke="#b9c431" stroke-width="0.4"/><polygon points="119.0,233.6 111.5,232.3 101.5,234.5" fill="#b9c431" stroke="#b9c431" stroke-width="0.4"/><path d="M109.0 237.5L119.0 233.6 M119.0 233.6L111.5 232.3 M111.5 232.3L101.5 234.5 M101.5 234.5L109.0 237.5" stroke="#000" stroke-opacity="0.75" stroke-width="0.5" fill="none" stroke-linecap="round"/>
<polygon points="144.0,243.9 153.9,236.0 136.4,240.1" fill="#64cd6f" stroke="#64cd6f" stroke-width="0.4"/><polygon points="153.9,236.0 146.4,239.2 136.4,240.1" fill="#64cd6f" stroke="#64cd6f" stroke-width="0.4"/><path d="M144.0 243.9L153.9 236.0 M153.9 236.0L146.4 239.2 M146.4 239.2L136.4 240.1 M136.4 240.1L144.0 243.9" stroke="#000" stroke-opacity="0.75" stroke-width="0.5" fill="none" stroke-linecap="round"/>
<polygon points="206.3,238.3 216.3,234.0 198.8,240.2" fill="#c5c22a" stroke="#c5c22a" stroke-width="0.4"/><polygon points="216.3,234.0 208.8,230.2 198.8,240.2" fill="#c5c22a" stroke="#c5c22a" stroke-width="0.4"/><path d="M206.3 238.3L216.3 234.0 M216.3 234.0L208.8 230.2 M208.8 230.2L198.8 240.2 M198.8 240.2L206.3 238.3" stroke="#000" stroke-opacity="0.75" stroke-width="0.5" fill="none" stroke-linecap="round"/>
<polygon points="161.4,249.3 171.4,237.8 163.9,232.6" fill="#2cc4a7" stroke="#2cc4a7" stroke-width="0.4"/><polygon points="161.4,249.3 163.9,232.6 153.9,236.0" fill="#2cc4a7" stroke="#2cc4a7" stroke-width="0.4"/><path d="M161.4 249.3L171.4 237.8 M171.4 237.8L163.9 232.6 M163.9 232.6L153.9 236.0 M153.9 236.0L161.4 249.3" stroke="#000" stroke-opacity="0.75" stroke-width="0.5" fill="none" stroke-linecap="round"/>
<polygon points="99.1,239.1 109.0,237.5 91.6,243.9" fill="#c5c22a" stroke="#c5c22a" stroke-width="0.4"/><polygon points="109.0,237.5 101.5,234.5 91.6,243.9" fill="#c5c22a" stroke="#c5c22a" stroke-width="0.4"/><path d="M99.1 239.1L109.0 237.5 M109.0 237.5L101.5 234.5 M101.5 234.5L91.6 243.9 M91.6 243.9L99.1 239.1" stroke="#000" stroke-opacity="0.75" stroke-width="0.5" fill="none" stroke-linecap="round"/>
<polygon points="178.9,243.4 188.9,238.6 181.3,239.8" fill="#8fcb4e" stroke="#8fcb4e" stroke-width="0.4"/><polygon points="178.9,243.4 181.3,239.8 171.4,237.8" fill="#8fcb4e" stroke="#8fcb4e" stroke-width="0.4"/><path d="M178.9 243.4L188.9 238.6 M188.9 238.6L181.3 239.8 M181.3 239.8L171.4 237.8 M171.4 237.8L178.9 243.4" stroke="#000" stroke-opacity="0.75" stroke-width="0.5" fill="none" stroke-linecap="round"/>
<polygon points="116.5,243.3 126.5,244.7 109.0,237.5" fill="#81cc59" stroke="#81cc59" stroke-width="0.4"/><polygon points="126.5,244.7 119.0,233.6 109.0,237.5" fill="#81cc59" stroke="#81cc59" stroke-width="0.4"/><path d="M116.5 243.3L126.5 244.7 M126.5 244.7L119.0 233.6 M119.0 233.6L109.0 237.5 M109.0 237.5L116.5 243.3" stroke="#000" stroke-opacity="0.75" stroke-width="0.5" fill="none" stroke-linecap="round"/>
<polygon points="134.0,242.2 144.0,243.9 136.4,240.1" fill="#abc739" stroke="#abc739" stroke-width="0.4"/><polygon points="134.0,242.2 136.4,240.1 126.5,244.7" fill="#abc739" stroke="#abc739" stroke-width="0.4"/><path d="M134.0 242.2L144.0 243.9 M144.0 243.9L136.4 240.1 M136.4 240.1L126.5 244.7 M126.5 244.7L134.0 242.2" stroke="#000" stroke-opacity="0.75" stroke-width="0.5" fill="none" stroke-linecap="round"/>
<polygon points="196.4,247.9 206.3,238.3 198.8,240.2" fill="#4acb84" stroke="#4acb84" stroke-width="0.4"/><polygon points="196.4,247.9 198.8,240.2 188.9,238.6" fill="#4acb84" stroke="#4acb84" stroke-width="0.4"/><path d="M196.4 247.9L206.3 238.3 M206.3 238.3L198.8 240.2 M198.8 240.2L188.9 238.6 M188.9 238.6L196.4 247.9" stroke="#000" stroke-opacity="0.75" stroke-width="0.5" fill="none" stroke-linecap="round"/>
<polygon points="151.5,248.7 161.4,249.3 153.9,236.0" fill="#4acb84" stroke="#4acb84" stroke-width="0.4"/><polygon points="151.5,248.7 153.9,236.0 144.0,243.9" fill="#4acb84" stroke="#4acb84" stroke-width="0.4"/><path d="M151.5 248.7L161.4 249.3 M161.4 249.3L153.9 236.0 M153.9 236.0L144.0 243.9 M144.0 243.9L151.5 248.7" stroke="#000" stroke-opacity="0.75" stroke-width="0.5" fill="none" stroke-linecap="round"/>
<polygon points="168.9,251.1 178.9,243.4 171.4,237.8" fill="#31c69f" stroke="#31c69f" stroke-width="0.4"/><polygon points="168.9,251.1 171.4,237.8 161.4,249.3" fill="#31c69f" stroke="#31c69f" stroke-width="0.4"/><path d="M168.9 251.1L178.9 243.4 M178.9 243.4L171.4 237.8 M171.4 237.8L161.4 249.3 M161.4 249.3L168.9 251.1" stroke="#000" stroke-opacity="0.75" stroke-width="0.5" fill="none" stroke-linecap="round"/>
<polygon points="89.1,251.6 99.1,239.1 81.6,231.4" fill="#24c1ae" stroke="#24c1ae" stroke-width="0.4"/><polygon points="99.1,239.1 91.6,243.9 81.6,231.4" fill="#24c1ae" stroke="#24c1ae" stroke-width="0.4"/><path d="M89.1 251.6L99.1 239.1 M99.1 239.1L91.6 243.9 M91.6 243.9L81.6 231.4 M81.6 231.4L89.1 251.6" stroke="#000" stroke-opacity="0.75" stroke-width="0.5" fill="none" stroke-linecap="round"/>
<polygon points="106.6,247.7 116.5,243.3 109.0,237.5" fill="#64cd6f" stroke="#64cd6f" stroke-width="0.4"/><polygon points="106.6,247.7 109.0,237.5 99.1,239.1" fill="#64cd6f" stroke="#64cd6f" stroke-width="0.4"/><path d="M106.6 247.7L116.5 243.3 M116.5 243.3L109.0 237.5 M109.0 237.5L99.1 239.1 M99.1 239.1L106.6 247.7" stroke="#000" stroke-opacity="0.75" stroke-width="0.5" fill="none" stroke-linecap="round"/>
<polygon points="186.4,248.6 196.4,247.9 188.9,238.6" fill="#64cd6f" stroke="#64cd6f" stroke-width="0.4"/><polygon points="186.4,248.6 188.9,238.6 178.9,243.4" fill="#64cd6f" stroke="#64cd6f" stroke-width="0.4"/><path d="M186.4 248.6L196.4 247.9 M196.4 247.9L188.9 238.6 M188.9 238.6L178.9 243.4 M178.9 243.4L186.4 248.6" stroke="#000" stroke-opacity="0.75" stroke-width="0.5" fill="none" stroke-linecap="round"/>
<polygon points="124.0,249.0 134.0,242.2 116.5,243.3" fill="#57cc7a" stroke="#57cc7a" stroke-width="0.4"/><polygon points="134.0,242.2 126.5,244.7 116.5,243.3" fill="#57cc7a" stroke="#57cc7a" stroke-width="0.4"/><path d="M124.0 249.0L134.0 242.2 M134.0 242.2L126.5 244.7 M126.5 244.7L116.5 243.3 M116.5 243.3L124.0 249.0" stroke="#000" stroke-opacity="0.75" stroke-width="0.5" fill="none" stroke-linecap="round"/>
<polygon points="159.0,248.0 168.9,251.1 161.4,249.3" fill="#8fcb4e" stroke="#8fcb4e" stroke-width="0.4"/><polygon points="159.0,248.0 161.4,249.3 151.5,248.7" fill="#8fcb4e" stroke="#8fcb4e" stroke-width="0.4"/><path d="M159.0 248.0L168.9 251.1 M168.9 251.1L161.4 249.3 M161.4 249.3L151.5 248.7 M151.5 248.7L159.0 248.0" stroke="#000" stroke-opacity="0.75" stroke-width="0.5" fill="none" stroke-linecap="round"/>
<polygon points="141.5,241.5 151.5,248.7 144.0,243.9" fill="#e6bb2d" stroke="#e6bb2d" stroke-width="0.4"/><polygon points="141.5,241.5 144.0,243.9 134.0,242.2" fill="#e6bb2d" stroke="#e6bb2d" stroke-width="0.4"/><path d="M141.5 241.5L151.5 248.7 M151.5 248.7L144.0 243.9 M144.0 243.9L134.0 242.2 M134.0 242.2L141.5 241.5" stroke="#000" stroke-opacity="0.75" stroke-width="0.5" fill="none" stroke-linecap="round"/>
<polygon points="96.6,246.3 106.6,247.7 89.1,251.6" fill="#9dc943" stroke="#9dc943" stroke-width="0.4"/><polygon points="106.6,247.7 99.1,239.1 89.1,251.6" fill="#9dc943" stroke="#9dc943" stroke-width="0.4"/><path d="M96.6 246.3L106.6 247.7 M106.6 247.7L99.1 239.1 M99.1 239.1L89.1 251.6 M89.1 251.6L96.6 246.3" stroke="#000" stroke-opacity="0.75" stroke-width="0.5" fill="none" stroke-linecap="round"/>
<polygon points="176.5,251.6 186.4,248.6 168.9,251.1" fill="#57cc7a" stroke="#57cc7a" stroke-width="0.4"/><polygon points="186.4,248.6 178.9,243.4 168.9,251.1" fill="#57cc7a" stroke="#57cc7a" stroke-width="0.4"/><path d="M176.5 251.6L186.4 248.6 M186.4 248.6L178.9 243.4 M178.9 243.4L168.9 251.1 M168.9 251.1L176.5 251.6" stroke="#000" stroke-opacity="0.75" stroke-width="0.5" fill="none" stroke-linecap="round"/>
<polygon points="114.1,245.4 124.0,249.0 116.5,243.3" fill="#c5c22a" stroke="#c5c22a" stroke-width="0.4"/><polygon points="114.1,245.4 116.5,243.3 106.6,247.7" fill="#c5c22a" stroke="#c5c22a" stroke-width="0.4"/><path d="M114.1 245.4L124.0 249.0 M124.0 249.0L116.5 243.3 M116.5 243.3L106.6 247.7 M106.6 247.7L114.1 245.4" stroke="#000" stroke-opacity="0.75" stroke-width="0.5" fill="none" stroke-linecap="round"/>
<polygon points="131.6,248.1 141.5,241.5 124.0,249.0" fill="#9dc943" stroke="#9dc943" stroke-width="0.4"/><polygon points="141.5,241.5 134.0,242.2 124.0,249.0" fill="#9dc943" stroke="#9dc943" stroke-width="0.4"/><path d="M131.6 248.1L141.5 241.5 M141.5 241.5L134.0 242.2 M134.0 242.2L124.0 249.0 M124.0 249.0L131.6 248.1" stroke="#000" stroke-opacity="0.75" stroke-width="0.5" fill="none" stroke-linecap="round"/>
<polygon points="166.5,255.4 176.5,251.6 159.0,248.0" fill="#3fca8e" stroke="#3fca8e" stroke-width="0.4"/><polygon points="176.5,251.6 168.9,251.1 159.0,248.0" fill="#3fca8e" stroke="#3fca8e" stroke-width="0.4"/><path d="M166.5 255.4L176.5 251.6 M176.5 251.6L168.9 251.1 M168.9 251.1L159.0 248.0 M159.0 248.0L166.5 255.4" stroke="#000" stroke-opacity="0.75" stroke-width="0.5" fill="none" stroke-linecap="round"/>
<polygon points="149.0,252.1 159.0,248.0 141.5,241.5" fill="#64cd6f" stroke="#64cd6f" stroke-width="0.4"/><polygon points="159.0,248.0 151.5,248.7 141.5,241.5" fill="#64cd6f" stroke="#64cd6f" stroke-width="0.4"/><path d="M149.0 252.1L159.0 248.0 M159.0 248.0L151.5 248.7 M151.5 248.7L141.5 241.5 M141.5 241.5L149.0 252.1" stroke="#000" stroke-opacity="0.75" stroke-width="0.5" fill="none" stroke-linecap="round"/>
<polygon points="121.6,258.3 131.6,248.1 124.0,249.0" fill="#2cc4a7" stroke="#2cc4a7" stroke-width="0.4"/><polygon points="121.6,258.3 124.0,249.0 114.1,245.4" fill="#2cc4a7" stroke="#2cc4a7" stroke-width="0.4"/><path d="M121.6 258.3L131.6 248.1 M131.6 248.1L124.0 249.0 M124.0 249.0L114.1 245.4 M114.1 245.4L121.6 258.3" stroke="#000" stroke-opacity="0.75" stroke-width="0.5" fill="none" stroke-linecap="round"/>
<polygon points="104.1,245.9 114.1,245.4 106.6,247.7" fill="#dcbd29" stroke="#dcbd29" stroke-width="0.4"/><polygon points="104.1,245.9 106.6,247.7 96.6,246.3" fill="#dcbd29" stroke="#dcbd29" stroke-width="0.4"/><path d="M104.1 245.9L114.1 245.4 M114.1 245.4L106.6 247.7 M106.6 247.7L96.6 246.3 M96.6 246.3L104.1 245.9" stroke="#000" stroke-opacity="0.75" stroke-width="0.5" fill="none" stroke-linecap="round"/>
<polygon points="156.5,259.8 166.5,255.4 159.0,248.0" fill="#2cc4a7" stroke="#2cc4a7" stroke-width="0.4"/><polygon points="156.5,259.8 159.0,248.0 149.0,252.1" fill="#2cc4a7" stroke="#2cc4a7" stroke-width="0.4"/><path d="M156.5 259.8L166.5 255.4 M166.5 255.4L159.0 248.0 M159.0 248.0L149.0 252.1 M149.0 252.1L156.5 259.8" stroke="#000" stroke-opacity="0.75" stroke-width="0.5" fill="none" stroke-linecap="round"/>
<polygon points="139.1,250.3 149.0,252.1 141.5,241.5" fill="#b9c431" stroke="#b9c431" stroke-width="0.4"/><polygon points="139.1,250.3 141.5,241.5 131.6,248.1" fill="#b9c431" stroke="#b9c431" stroke-width="0.4"/><path d="M139.1 250.3L149.0 252.1 M149.0 252.1L141.5 241.5 M141.5 241.5L131.6 248.1 M131.6 248.1L139.1 250.3" stroke="#000" stroke-opacity="0.75" stroke-width="0.5" fill="none" stroke-linecap="round"/>
<polygon points="111.6,252.9 121.6,258.3 104.1,245.9" fill="#9dc943" stroke="#9dc943" stroke-width="0.4"/><polygon points="121.6,258.3 114.1,245.4 104.1,245.9" fill="#9dc943" stroke="#9dc943" stroke-width="0.4"/><path d="M111.6 252.9L121.6 258.3 M121.6 258.3L114.1 245.4 M114.1 245.4L104.1 245.9 M104.1 245.9L111.6 252.9" stroke="#000" stroke-opacity="0.75" stroke-width="0.5" fill="none" stroke-linecap="round"/>
<polygon points="129.1,256.7 139.1,250.3 121.6,258.3" fill="#64cd6f" stroke="#64cd6f" stroke-width="0.4"/><polygon points="139.1,250.3 131.6,248.1 121.6,258.3" fill="#64cd6f" stroke="#64cd6f" stroke-width="0.4"/><path d="M129.1 256.7L139.1 250.3 M139.1 250.3L131.6 248.1 M131.6 248.1L121.6 258.3 M121.6 258.3L129.1 256.7" stroke="#000" stroke-opacity="0.75" stroke-width="0.5" fill="none" stroke-linecap="round"/>
<polygon points="146.6,264.8 156.5,259.8 139.1,250.3" fill="#0bbdbd" stroke="#0bbdbd" stroke-width="0.4"/><polygon points="156.5,259.8 149.0,252.1 139.1,250.3" fill="#0bbdbd" stroke="#0bbdbd" stroke-width="0.4"/><path d="M146.6 264.8L156.5 259.8 M156.5 259.8L149.0 252.1 M149.0 252.1L139.1 250.3 M139.1 250.3L146.6 264.8" stroke="#000" stroke-opacity="0.75" stroke-width="0.5" fill="none" stroke-linecap="round"/>
<polygon points="119.1,268.5 129.1,256.7 121.6,258.3" fill="#08b5d0" stroke="#08b5d0" stroke-width="0.4"/><polygon points="119.1,268.5 121.6,258.3 111.6,252.9" fill="#08b5d0" stroke="#08b5d0" stroke-width="0.4"/><path d="M119.1 268.5L129.1 256.7 M129.1 256.7L121.6 258.3 M121.6 258.3L111.6 252.9 M111.6 252.9L119.1 268.5" stroke="#000" stroke-opacity="0.75" stroke-width="0.5" fill="none" stroke-linecap="round"/>
<polygon points="136.6,258.9 146.6,264.8 129.1,256.7" fill="#72cd64" stroke="#72cd64" stroke-width="0.4"/><polygon points="146.6,264.8 139.1,250.3 129.1,256.7" fill="#72cd64" stroke="#72cd64" stroke-width="0.4"/><path d="M136.6 258.9L146.6 264.8 M146.6 264.8L139.1 250.3 M139.1 250.3L129.1 256.7 M129.1 256.7L136.6 258.9" stroke="#000" stroke-opacity="0.75" stroke-width="0.5" fill="none" stroke-linecap="round"/>
<polygon points="126.6,259.4 136.6,258.9 119.1,268.5" fill="#9dc943" stroke="#9dc943" stroke-width="0.4"/><polygon points="136.6,258.9 129.1,256.7 119.1,268.5" fill="#9dc943" stroke="#9dc943" stroke-width="0.4"/><path d="M126.6 259.4L136.6 258.9 M136.6 258.9L129.1 256.7 M129.1 256.7L119.1 268.5 M119.1 268.5L126.6 259.4" stroke="#000" stroke-opacity="0.75" stroke-width="0.5" fill="none" stroke-linecap="round"/>
<path d="M49.1 277.3L49.1 209.3 M49.1 277.3L124.2 308.8 M124.2 308.8L223.8 285.9 M49.1 277.3L51.3 276.8 M49.1 254.6L51.3 254.1 M49.1 232.0L51.3 231.5 M49.1 209.3L51.3 208.8 M116.7 305.7L118.7 305.2 M109.2 302.5L111.2 302.0 M101.7 299.4L103.7 298.9 M94.2 296.2L96.2 295.7 M86.7 293.1L88.7 292.6 M79.1 289.9L81.1 289.4 M71.6 286.8L73.6 286.2 M64.1 283.6L66.1 283.1 M56.6 280.4L58.6 279.9 M124.2 308.8L122.6 308.1 M144.1 304.2L142.5 303.5 M164.0 299.6L162.4 298.9 M184.0 295.1L182.4 294.4 M203.9 290.5L202.3 289.8 M223.8 285.9L222.2 285.2" stroke="#4a4a4a" stroke-width="0.7" fill="none"/>
<g font-family="Liberation Sans, Arial, sans-serif" font-weight="bold" font-size="9.6" fill="#262626"><text x="44.1" y="279.8" text-anchor="end">0.4</text><text x="44.1" y="257.1" text-anchor="end">0.5</text><text x="44.1" y="234.4" text-anchor="end">0.6</text><text x="44.1" y="211.8" text-anchor="end">0.7</text><text x="110.5" y="316.1" text-anchor="end">1</text><text x="103.1" y="312.8" text-anchor="end">3</text><text x="95.8" y="309.6" text-anchor="end">5</text><text x="88.4" y="306.3" text-anchor="end">7</text><text x="81.0" y="303.0" text-anchor="end">9</text><text x="73.7" y="299.7" text-anchor="end">11</text><text x="66.3" y="296.5" text-anchor="end">13</text><text x="59.0" y="293.2" text-anchor="end">15</text><text x="51.6" y="289.9" text-anchor="end">17</text><text x="128.0" y="320.0" text-anchor="start">0</text><text x="147.9" y="315.4" text-anchor="start">0.2</text><text x="167.8" y="310.8" text-anchor="start">0.4</text><text x="187.8" y="306.2" text-anchor="start">0.6</text><text x="207.7" y="301.6" text-anchor="start">0.8</text><text x="227.6" y="297.1" text-anchor="start">1</text><text x="65.2" y="323.7" text-anchor="middle">degree</text><text x="188.7" y="324.6" text-anchor="middle">sigma</text><text x="0.0" y="0.0" text-anchor="middle" transform="translate(27.7 244.5) rotate(-90)">fscore</text></g>
<text x="125.8" y="351.1" text-anchor="middle" font-family="Liberation Serif, serif" font-size="13.5" fill="#111">(<tspan font-weight="bold">c</tspan>)</text></g>
<g><path d="M436.7 308.8L361.6 277.0 M361.6 277.0L361.6 209.0 M456.7 304.2L381.6 272.4 M381.6 272.4L381.6 204.4 M476.7 299.6L401.6 267.8 M401.6 267.8L401.6 199.8 M496.8 295.1L421.7 263.3 M421.7 263.3L421.7 195.3 M516.8 290.5L441.7 258.7 M441.7 258.7L441.7 190.7 M536.8 285.9L461.7 254.1 M461.7 254.1L461.7 186.1 M429.2 305.6L529.3 282.7 M529.3 282.7L529.3 214.7 M421.7 302.4L521.8 279.5 M521.8 279.5L521.8 211.5 M414.2 299.3L514.3 276.4 M514.3 276.4L514.3 208.4 M406.7 296.1L506.8 273.2 M506.8 273.2L506.8 205.2 M399.1 292.9L499.2 270.0 M499.2 270.0L499.2 202.0 M391.6 289.7L491.7 266.8 M491.7 266.8L491.7 198.8 M384.1 286.5L484.2 263.6 M484.2 263.6L484.2 195.6 M376.6 283.4L476.7 260.5 M476.7 260.5L476.7 192.5 M369.1 280.2L469.2 257.3 M469.2 257.3L469.2 189.3 M361.6 277.0L461.7 254.1 M461.7 254.1L536.8 285.9 M361.6 254.3L461.7 231.4 M461.7 231.4L536.8 263.2 M361.6 231.7L461.7 208.8 M461.7 208.8L536.8 240.6 M361.6 209.0L461.7 186.1 M461.7 186.1L536.8 217.9 M361.6 209.0L461.7 186.1 M461.7 186.1L536.8 217.9 M536.8 285.9L536.8 217.9 M461.7 254.1L461.7 186.1 M361.6 277.0L461.7 254.1 M461.7 254.1L536.8 285.9" stroke="#e8e8e8" stroke-width="0.7" fill="none"/>
<polygon points="443.6,252.9 439.2,255.4 439.4,254.0" fill="#25b5a5" stroke="#25b5a5" stroke-width="0.4"/><path d="M443.6 252.9L439.2 255.4 M439.2 255.4L439.4 254.0" stroke="#000" stroke-opacity="0.75" stroke-width="0.5" fill="none" stroke-linecap="round"/>
<polygon points="434.2,261.5 434.6,259.8 427.3,256.7 426.7,258.3" fill="#f2e040" stroke="#f2e040" stroke-width="0.4"/><polygon points="439.4,254.0 439.2,255.4 426.7,258.3 427.3,256.7" fill="#f2e040" stroke="#f2e040" stroke-width="0.4"/><path d="M434.2 261.5L434.6 259.8 M439.4 254.0L439.2 255.4 M439.2 255.4L426.7 258.3 M426.7 258.3L434.2 261.5" stroke="#000" stroke-opacity="0.75" stroke-width="0.5" fill="none" stroke-linecap="round"/>
<polygon points="433.7,260.0 434.2,261.5 426.7,258.3 426.5,257.0" fill="#72cd64" stroke="#72cd64" stroke-width="0.4"/><polygon points="426.5,257.0 426.7,258.3 423.2,257.5" fill="#72cd64" stroke="#72cd64" stroke-width="0.4"/><path d="M433.7 260.0L434.2 261.5 M434.2 261.5L426.7 258.3 M426.7 258.3L423.2 257.5" stroke="#000" stroke-opacity="0.75" stroke-width="0.5" fill="none" stroke-linecap="round"/>
<polygon points="402.8,263.9 396.6,265.2 403.2,266.4" fill="#2d8cf3" stroke="#2d8cf3" stroke-width="0.4"/><polygon points="403.6,262.0 396.6,265.2 402.8,263.9" fill="#2d8cf3" stroke="#2d8cf3" stroke-width="0.4"/><path d="M403.6 262.0L396.6 265.2 M396.6 265.2L403.2 266.4" stroke="#000" stroke-opacity="0.75" stroke-width="0.5" fill="none" stroke-linecap="round"/>
<polygon points="434.6,259.8 434.2,261.5 435.5,260.5" fill="#f0b840" stroke="#f0b840" stroke-width="0.4"/><path d="M434.6 259.8L434.2 261.5 M434.2 261.5L435.5 260.5" stroke="#000" stroke-opacity="0.75" stroke-width="0.5" fill="none" stroke-linecap="round"/>
<polygon points="435.5,260.5 434.2,261.5 433.7,260.0" fill="#08b5d0" stroke="#08b5d0" stroke-width="0.4"/><path d="M435.5 260.5L434.2 261.5 M434.2 261.5L433.7 260.0" stroke="#000" stroke-opacity="0.75" stroke-width="0.5" fill="none" stroke-linecap="round"/>
<polygon points="403.2,266.4 396.6,265.2 396.1,263.7" fill="#8cc850" stroke="#8cc850" stroke-width="0.4"/><path d="M403.2 266.4L396.6 265.2 M396.6 265.2L396.1 263.7" stroke="#000" stroke-opacity="0.75" stroke-width="0.5" fill="none" stroke-linecap="round"/>
<polygon points="439.2,299.7 449.2,290.6 448.4,285.5 439.8,286.8" fill="#3a5cf0" stroke="#3a5cf0" stroke-width="0.4"/><polygon points="439.2,299.7 439.8,286.8 434.6,286.2" fill="#3a5cf0" stroke="#3a5cf0" stroke-width="0.4"/><path d="M439.2 299.7L449.2 290.6 M449.2 290.6L448.4 285.5 M434.6 286.2L439.2 299.7" stroke="#000" stroke-opacity="0.75" stroke-width="0.5" fill="none" stroke-linecap="round"/>
<polygon points="449.2,290.6 452.2,285.2 449.4,285.3" fill="#3478f2" stroke="#3478f2" stroke-width="0.4"/><polygon points="449.2,290.6 449.4,285.3 448.4,285.5" fill="#3478f2" stroke="#3478f2" stroke-width="0.4"/><path d="M449.2 290.6L452.2 285.2 M448.4 285.5L449.2 290.6" stroke="#000" stroke-opacity="0.75" stroke-width="0.5" fill="none" stroke-linecap="round"/>
<polygon points="438.4,290.8 507.5,275.0 441.1,246.8 371.9,262.6" fill="#2a86e6"/><path d="M438.4 290.8L371.9 262.6 M446.0 289.0L379.6 260.9 M453.7 287.3L387.3 259.1 M461.4 285.5L394.9 257.4 M469.1 283.8L402.6 255.6 M476.8 282.0L410.3 253.9 M484.5 280.2L418.0 252.1 M492.1 278.5L425.7 250.3 M499.8 276.7L433.4 248.6 M507.5 275.0L441.1 246.8 M438.4 290.8L507.5 275.0 M431.0 287.7L500.1 271.8 M423.6 284.5L492.7 268.7 M416.2 281.4L485.4 265.6 M408.8 278.3L478.0 262.5 M401.4 275.2L470.6 259.3 M394.0 272.0L463.2 256.2 M386.7 268.9L455.8 253.1 M379.3 265.8L448.4 249.9 M371.9 262.6L441.1 246.8" stroke="#000" stroke-opacity="0.45" stroke-width="0.5" fill="none"/>
<polygon points="459.2,246.7 471.7,248.4 464.2,245.2" fill="#20a5e3" stroke="#20a5e3" stroke-width="0.4"/><polygon points="459.2,246.7 464.2,245.2 451.7,248.1" fill="#20a5e3" stroke="#20a5e3" stroke-width="0.4"/><path d="M459.2 246.7L471.7 248.4 M471.7 248.4L464.2 245.2 M464.2 245.2L451.7 248.1 M451.7 248.1L459.2 246.7" stroke="#000" stroke-opacity="0.75" stroke-width="0.5" fill="none" stroke-linecap="round"/>
<polygon points="466.7,249.9 479.2,251.5 471.7,248.4" fill="#20a5e3" stroke="#20a5e3" stroke-width="0.4"/><polygon points="466.7,249.9 471.7,248.4 459.2,246.7" fill="#20a5e3" stroke="#20a5e3" stroke-width="0.4"/><path d="M466.7 249.9L479.2 251.5 M479.2 251.5L471.7 248.4 M471.7 248.4L459.2 246.7 M459.2 246.7L466.7 249.9" stroke="#000" stroke-opacity="0.75" stroke-width="0.5" fill="none" stroke-linecap="round"/>
<polygon points="446.7,206.7 459.2,246.7 451.7,248.1" fill="#25b5a5" stroke="#25b5a5" stroke-width="0.4"/><polygon points="446.7,206.7 451.7,248.1 443.6,252.9 439.4,254.0" fill="#25b5a5" stroke="#25b5a5" stroke-width="0.4"/><path d="M446.7 206.7L459.2 246.7 M459.2 246.7L451.7 248.1 M451.7 248.1L443.6 252.9 M439.4 254.0L446.7 206.7" stroke="#000" stroke-opacity="0.75" stroke-width="0.5" fill="none" stroke-linecap="round"/>
<polygon points="474.2,248.5 486.7,254.7 479.2,251.5" fill="#08b5d0" stroke="#08b5d0" stroke-width="0.4"/><polygon points="474.2,248.5 479.2,251.5 466.7,249.9" fill="#08b5d0" stroke="#08b5d0" stroke-width="0.4"/><path d="M474.2 248.5L486.7 254.7 M486.7 254.7L479.2 251.5 M479.2 251.5L466.7 249.9 M466.7 249.9L474.2 248.5" stroke="#000" stroke-opacity="0.75" stroke-width="0.5" fill="none" stroke-linecap="round"/>
<polygon points="434.6,259.8 446.7,206.7 427.3,256.7" fill="#f2e040" stroke="#f2e040" stroke-width="0.4"/><polygon points="446.7,206.7 439.4,254.0 427.3,256.7" fill="#f2e040" stroke="#f2e040" stroke-width="0.4"/><path d="M434.6 259.8L446.7 206.7 M446.7 206.7L439.4 254.0" stroke="#000" stroke-opacity="0.75" stroke-width="0.5" fill="none" stroke-linecap="round"/>
<polygon points="424.2,233.2 433.7,260.0 426.5,257.0" fill="#72cd64" stroke="#72cd64" stroke-width="0.4"/><polygon points="424.2,233.2 426.5,257.0 423.2,257.5 416.7,256.1" fill="#72cd64" stroke="#72cd64" stroke-width="0.4"/><path d="M424.2 233.2L433.7 260.0 M423.2 257.5L416.7 256.1 M416.7 256.1L424.2 233.2" stroke="#000" stroke-opacity="0.75" stroke-width="0.5" fill="none" stroke-linecap="round"/>
<polygon points="454.2,243.7 466.7,249.9 446.7,206.7" fill="#25b5a5" stroke="#25b5a5" stroke-width="0.4"/><polygon points="466.7,249.9 459.2,246.7 446.7,206.7" fill="#25b5a5" stroke="#25b5a5" stroke-width="0.4"/><path d="M454.2 243.7L466.7 249.9 M466.7 249.9L459.2 246.7 M459.2 246.7L446.7 206.7 M446.7 206.7L454.2 243.7" stroke="#000" stroke-opacity="0.75" stroke-width="0.5" fill="none" stroke-linecap="round"/>
<polygon points="481.7,242.6 494.2,255.6 486.7,254.7" fill="#31c69f" stroke="#31c69f" stroke-width="0.4"/><polygon points="481.7,242.6 486.7,254.7 474.2,248.5" fill="#31c69f" stroke="#31c69f" stroke-width="0.4"/><path d="M481.7 242.6L494.2 255.6 M494.2 255.6L486.7 254.7 M486.7 254.7L474.2 248.5 M474.2 248.5L481.7 242.6" stroke="#000" stroke-opacity="0.75" stroke-width="0.5" fill="none" stroke-linecap="round"/>
<polygon points="461.7,242.3 474.2,248.5 466.7,249.9" fill="#31c69f" stroke="#31c69f" stroke-width="0.4"/><polygon points="461.7,242.3 466.7,249.9 454.2,243.7" fill="#31c69f" stroke="#31c69f" stroke-width="0.4"/><path d="M461.7 242.3L474.2 248.5 M474.2 248.5L466.7 249.9 M466.7 249.9L454.2 243.7 M454.2 243.7L461.7 242.3" stroke="#000" stroke-opacity="0.75" stroke-width="0.5" fill="none" stroke-linecap="round"/>
<polygon points="414.2,261.5 424.2,233.2 406.6,260.6" fill="#2797eb" stroke="#2797eb" stroke-width="0.4"/><polygon points="424.2,233.2 416.7,256.1 406.6,260.6" fill="#2797eb" stroke="#2797eb" stroke-width="0.4"/><path d="M414.2 261.5L424.2 233.2 M424.2 233.2L416.7 256.1 M416.7 256.1L406.6 260.6 M406.6 260.6L414.2 261.5" stroke="#000" stroke-opacity="0.75" stroke-width="0.5" fill="none" stroke-linecap="round"/>
<polygon points="404.1,266.5 414.2,261.5 402.8,263.9 403.2,266.4" fill="#2d8cf3" stroke="#2d8cf3" stroke-width="0.4"/><polygon points="414.2,261.5 406.6,260.6 403.6,262.0 402.8,263.9" fill="#2d8cf3" stroke="#2d8cf3" stroke-width="0.4"/><path d="M404.1 266.5L414.2 261.5 M414.2 261.5L406.6 260.6 M406.6 260.6L403.6 262.0 M403.2 266.4L404.1 266.5" stroke="#000" stroke-opacity="0.75" stroke-width="0.5" fill="none" stroke-linecap="round"/>
<polygon points="441.7,255.6 454.2,243.7 446.7,206.7" fill="#f0b840" stroke="#f0b840" stroke-width="0.4"/><polygon points="441.7,255.6 446.7,206.7 434.6,259.8 435.5,260.5" fill="#f0b840" stroke="#f0b840" stroke-width="0.4"/><path d="M441.7 255.6L454.2 243.7 M454.2 243.7L446.7 206.7 M446.7 206.7L434.6 259.8 M435.5 260.5L441.7 255.6" stroke="#000" stroke-opacity="0.75" stroke-width="0.5" fill="none" stroke-linecap="round"/>
<polygon points="431.7,253.4 441.7,255.6 424.2,233.2" fill="#08b5d0" stroke="#08b5d0" stroke-width="0.4"/><polygon points="441.7,255.6 435.5,260.5 433.7,260.0 424.2,233.2" fill="#08b5d0" stroke="#08b5d0" stroke-width="0.4"/><path d="M431.7 253.4L441.7 255.6 M441.7 255.6L435.5 260.5 M433.7 260.0L424.2 233.2 M424.2 233.2L431.7 253.4" stroke="#000" stroke-opacity="0.75" stroke-width="0.5" fill="none" stroke-linecap="round"/>
<polygon points="449.2,245.2 461.7,242.3 441.7,255.6" fill="#31c69f" stroke="#31c69f" stroke-width="0.4"/><polygon points="461.7,242.3 454.2,243.7 441.7,255.6" fill="#31c69f" stroke="#31c69f" stroke-width="0.4"/><path d="M449.2 245.2L461.7 242.3 M461.7 242.3L454.2 243.7 M454.2 243.7L441.7 255.6 M441.7 255.6L449.2 245.2" stroke="#000" stroke-opacity="0.75" stroke-width="0.5" fill="none" stroke-linecap="round"/>
<polygon points="421.7,264.7 431.7,253.4 424.2,233.2" fill="#2797eb" stroke="#2797eb" stroke-width="0.4"/><polygon points="421.7,264.7 424.2,233.2 414.2,261.5" fill="#2797eb" stroke="#2797eb" stroke-width="0.4"/><path d="M421.7 264.7L431.7 253.4 M431.7 253.4L424.2 233.2 M424.2 233.2L414.2 261.5 M414.2 261.5L421.7 264.7" stroke="#000" stroke-opacity="0.75" stroke-width="0.5" fill="none" stroke-linecap="round"/>
<polygon points="411.7,256.8 421.7,264.7 414.2,261.5" fill="#01b8ca" stroke="#01b8ca" stroke-width="0.4"/><polygon points="411.7,256.8 414.2,261.5 404.1,266.5" fill="#01b8ca" stroke="#01b8ca" stroke-width="0.4"/><path d="M411.7 256.8L421.7 264.7 M421.7 264.7L414.2 261.5 M414.2 261.5L404.1 266.5 M404.1 266.5L411.7 256.8" stroke="#000" stroke-opacity="0.75" stroke-width="0.5" fill="none" stroke-linecap="round"/>
<polygon points="469.2,236.4 481.7,242.6 474.2,248.5" fill="#81cc59" stroke="#81cc59" stroke-width="0.4"/><polygon points="469.2,236.4 474.2,248.5 461.7,242.3" fill="#81cc59" stroke="#81cc59" stroke-width="0.4"/><path d="M469.2 236.4L481.7 242.6 M481.7 242.6L474.2 248.5 M474.2 248.5L461.7 242.3 M461.7 242.3L469.2 236.4" stroke="#000" stroke-opacity="0.75" stroke-width="0.5" fill="none" stroke-linecap="round"/>
<polygon points="394.1,261.6 404.1,266.5 386.6,236.8" fill="#8cc850" stroke="#8cc850" stroke-width="0.4"/><polygon points="404.1,266.5 403.2,266.4 396.1,263.7 386.6,236.8" fill="#8cc850" stroke="#8cc850" stroke-width="0.4"/><path d="M394.1 261.6L404.1 266.5 M404.1 266.5L403.2 266.4 M396.1 263.7L386.6 236.8 M386.6 236.8L394.1 261.6" stroke="#000" stroke-opacity="0.75" stroke-width="0.5" fill="none" stroke-linecap="round"/>
<polygon points="489.2,214.8 501.8,250.9 494.2,255.6" fill="#2e8ff0" stroke="#2e8ff0" stroke-width="0.4"/><polygon points="489.2,214.8 494.2,255.6 481.7,242.6" fill="#2e8ff0" stroke="#2e8ff0" stroke-width="0.4"/><path d="M489.2 214.8L501.8 250.9 M501.8 250.9L494.2 255.6 M494.2 255.6L481.7 242.6 M481.7 242.6L489.2 214.8" stroke="#000" stroke-opacity="0.75" stroke-width="0.5" fill="none" stroke-linecap="round"/>
<polygon points="439.2,247.5 449.2,245.2 441.7,255.6" fill="#31c69f" stroke="#31c69f" stroke-width="0.4"/><polygon points="439.2,247.5 441.7,255.6 431.7,253.4" fill="#31c69f" stroke="#31c69f" stroke-width="0.4"/><path d="M439.2 247.5L449.2 245.2 M449.2 245.2L441.7 255.6 M441.7 255.6L431.7 253.4 M431.7 253.4L439.2 247.5" stroke="#000" stroke-opacity="0.75" stroke-width="0.5" fill="none" stroke-linecap="round"/>
<polygon points="429.2,263.4 439.2,247.5 421.7,264.7" fill="#20a5e3" stroke="#20a5e3" stroke-width="0.4"/><polygon points="439.2,247.5 431.7,253.4 421.7,264.7" fill="#20a5e3" stroke="#20a5e3" stroke-width="0.4"/><path d="M429.2 263.4L439.2 247.5 M439.2 247.5L431.7 253.4 M431.7 253.4L421.7 264.7 M421.7 264.7L429.2 263.4" stroke="#000" stroke-opacity="0.75" stroke-width="0.5" fill="none" stroke-linecap="round"/>
<polygon points="401.6,257.7 411.7,256.8 404.1,266.5" fill="#35c0a0" stroke="#35c0a0" stroke-width="0.4"/><polygon points="401.6,257.7 404.1,266.5 394.1,261.6" fill="#35c0a0" stroke="#35c0a0" stroke-width="0.4"/><path d="M401.6 257.7L411.7 256.8 M411.7 256.8L404.1 266.5 M404.1 266.5L394.1 261.6 M394.1 261.6L401.6 257.7" stroke="#000" stroke-opacity="0.75" stroke-width="0.5" fill="none" stroke-linecap="round"/>
<polygon points="419.2,267.5 429.2,263.4 411.7,256.8" fill="#23a0e5" stroke="#23a0e5" stroke-width="0.4"/><polygon points="429.2,263.4 421.7,264.7 411.7,256.8" fill="#23a0e5" stroke="#23a0e5" stroke-width="0.4"/><path d="M419.2 267.5L429.2 263.4 M429.2 263.4L421.7 264.7 M421.7 264.7L411.7 256.8 M411.7 256.8L419.2 267.5" stroke="#000" stroke-opacity="0.75" stroke-width="0.5" fill="none" stroke-linecap="round"/>
<polygon points="496.8,252.6 509.3,256.8 489.2,214.8" fill="#2e8ff0" stroke="#2e8ff0" stroke-width="0.4"/><polygon points="509.3,256.8 501.8,250.9 489.2,214.8" fill="#2e8ff0" stroke="#2e8ff0" stroke-width="0.4"/><path d="M496.8 252.6L509.3 256.8 M509.3 256.8L501.8 250.9 M501.8 250.9L489.2 214.8 M489.2 214.8L496.8 252.6" stroke="#000" stroke-opacity="0.75" stroke-width="0.5" fill="none" stroke-linecap="round"/>
<polygon points="456.7,243.8 469.2,236.4 449.2,245.2" fill="#4acb84" stroke="#4acb84" stroke-width="0.4"/><polygon points="469.2,236.4 461.7,242.3 449.2,245.2" fill="#4acb84" stroke="#4acb84" stroke-width="0.4"/><path d="M456.7 243.8L469.2 236.4 M469.2 236.4L461.7 242.3 M461.7 242.3L449.2 245.2 M449.2 245.2L456.7 243.8" stroke="#000" stroke-opacity="0.75" stroke-width="0.5" fill="none" stroke-linecap="round"/>
<polygon points="504.3,265.3 516.8,253.4 509.3,256.8" fill="#3cc487" stroke="#3cc487" stroke-width="0.4"/><polygon points="504.3,265.3 509.3,256.8 496.8,252.6" fill="#3cc487" stroke="#3cc487" stroke-width="0.4"/><path d="M504.3 265.3L516.8 253.4 M516.8 253.4L509.3 256.8 M509.3 256.8L496.8 252.6 M496.8 252.6L504.3 265.3" stroke="#000" stroke-opacity="0.75" stroke-width="0.5" fill="none" stroke-linecap="round"/>
<polygon points="446.7,241.6 456.7,243.8 449.2,245.2" fill="#81cc59" stroke="#81cc59" stroke-width="0.4"/><polygon points="446.7,241.6 449.2,245.2 439.2,247.5" fill="#81cc59" stroke="#81cc59" stroke-width="0.4"/><path d="M446.7 241.6L456.7 243.8 M456.7 243.8L449.2 245.2 M449.2 245.2L439.2 247.5 M439.2 247.5L446.7 241.6" stroke="#000" stroke-opacity="0.75" stroke-width="0.5" fill="none" stroke-linecap="round"/>
<polygon points="476.7,226.0 489.2,214.8 481.7,242.6" fill="#fec338" stroke="#fec338" stroke-width="0.4"/><polygon points="476.7,226.0 481.7,242.6 469.2,236.4" fill="#fec338" stroke="#fec338" stroke-width="0.4"/><path d="M476.7 226.0L489.2 214.8 M489.2 214.8L481.7 242.6 M481.7 242.6L469.2 236.4 M469.2 236.4L476.7 226.0" stroke="#000" stroke-opacity="0.75" stroke-width="0.5" fill="none" stroke-linecap="round"/>
<polygon points="436.7,252.9 446.7,241.6 429.2,263.4" fill="#31c69f" stroke="#31c69f" stroke-width="0.4"/><polygon points="446.7,241.6 439.2,247.5 429.2,263.4" fill="#31c69f" stroke="#31c69f" stroke-width="0.4"/><path d="M436.7 252.9L446.7 241.6 M446.7 241.6L439.2 247.5 M439.2 247.5L429.2 263.4 M429.2 263.4L436.7 252.9" stroke="#000" stroke-opacity="0.75" stroke-width="0.5" fill="none" stroke-linecap="round"/>
<polygon points="426.7,258.2 436.7,252.9 419.2,267.5" fill="#24c1ae" stroke="#24c1ae" stroke-width="0.4"/><polygon points="436.7,252.9 429.2,263.4 419.2,267.5" fill="#24c1ae" stroke="#24c1ae" stroke-width="0.4"/><path d="M426.7 258.2L436.7 252.9 M436.7 252.9L429.2 263.4 M429.2 263.4L419.2 267.5 M419.2 267.5L426.7 258.2" stroke="#000" stroke-opacity="0.75" stroke-width="0.5" fill="none" stroke-linecap="round"/>
<polygon points="409.2,236.4 419.2,267.5 411.7,256.8" fill="#e6bb2d" stroke="#e6bb2d" stroke-width="0.4"/><polygon points="409.2,236.4 411.7,256.8 401.6,257.7" fill="#e6bb2d" stroke="#e6bb2d" stroke-width="0.4"/><path d="M409.2 236.4L419.2 267.5 M419.2 267.5L411.7 256.8 M411.7 256.8L401.6 257.7 M401.6 257.7L409.2 236.4" stroke="#000" stroke-opacity="0.75" stroke-width="0.5" fill="none" stroke-linecap="round"/>
<polygon points="491.8,263.2 504.3,265.3 484.2,220.1" fill="#2e8ff0" stroke="#2e8ff0" stroke-width="0.4"/><polygon points="504.3,265.3 496.8,252.6 484.2,220.1" fill="#2e8ff0" stroke="#2e8ff0" stroke-width="0.4"/><path d="M491.8 263.2L504.3 265.3 M504.3 265.3L496.8 252.6 M496.8 252.6L484.2 220.1 M484.2 220.1L491.8 263.2" stroke="#000" stroke-opacity="0.75" stroke-width="0.5" fill="none" stroke-linecap="round"/>
<polygon points="464.2,228.4 476.7,226.0 456.7,243.8" fill="#fec338" stroke="#fec338" stroke-width="0.4"/><polygon points="476.7,226.0 469.2,236.4 456.7,243.8" fill="#fec338" stroke="#fec338" stroke-width="0.4"/><path d="M464.2 228.4L476.7 226.0 M476.7 226.0L469.2 236.4 M469.2 236.4L456.7 243.8 M456.7 243.8L464.2 228.4" stroke="#000" stroke-opacity="0.75" stroke-width="0.5" fill="none" stroke-linecap="round"/>
<polygon points="484.2,220.1 496.8,252.6 476.7,226.0" fill="#2e8ff0" stroke="#2e8ff0" stroke-width="0.4"/><polygon points="496.8,252.6 489.2,214.8 476.7,226.0" fill="#2e8ff0" stroke="#2e8ff0" stroke-width="0.4"/><path d="M484.2 220.1L496.8 252.6 M496.8 252.6L489.2 214.8 M489.2 214.8L476.7 226.0 M476.7 226.0L484.2 220.1" stroke="#000" stroke-opacity="0.75" stroke-width="0.5" fill="none" stroke-linecap="round"/>
<polygon points="454.2,231.4 464.2,228.4 456.7,243.8" fill="#fec338" stroke="#fec338" stroke-width="0.4"/><polygon points="454.2,231.4 456.7,243.8 446.7,241.6" fill="#fec338" stroke="#fec338" stroke-width="0.4"/><path d="M454.2 231.4L464.2 228.4 M464.2 228.4L456.7 243.8 M456.7 243.8L446.7 241.6 M446.7 241.6L454.2 231.4" stroke="#000" stroke-opacity="0.75" stroke-width="0.5" fill="none" stroke-linecap="round"/>
<polygon points="416.7,248.5 426.7,258.2 419.2,267.5" fill="#81cc59" stroke="#81cc59" stroke-width="0.4"/><polygon points="416.7,248.5 419.2,267.5 409.2,236.4" fill="#81cc59" stroke="#81cc59" stroke-width="0.4"/><path d="M416.7 248.5L426.7 258.2 M426.7 258.2L419.2 267.5 M419.2 267.5L409.2 236.4 M409.2 236.4L416.7 248.5" stroke="#000" stroke-opacity="0.75" stroke-width="0.5" fill="none" stroke-linecap="round"/>
<polygon points="444.2,228.0 454.2,231.4 436.7,252.9" fill="#f5e327" stroke="#f5e327" stroke-width="0.4"/><polygon points="454.2,231.4 446.7,241.6 436.7,252.9" fill="#f5e327" stroke="#f5e327" stroke-width="0.4"/><path d="M444.2 228.0L454.2 231.4 M454.2 231.4L446.7 241.6 M446.7 241.6L436.7 252.9 M436.7 252.9L444.2 228.0" stroke="#000" stroke-opacity="0.75" stroke-width="0.5" fill="none" stroke-linecap="round"/>
<polygon points="479.2,263.0 491.8,263.2 471.7,225.1" fill="#2a9be0" stroke="#2a9be0" stroke-width="0.4"/><polygon points="491.8,263.2 484.2,220.1 471.7,225.1" fill="#2a9be0" stroke="#2a9be0" stroke-width="0.4"/><path d="M479.2 263.0L491.8 263.2 M491.8 263.2L484.2 220.1 M484.2 220.1L471.7 225.1 M471.7 225.1L479.2 263.0" stroke="#000" stroke-opacity="0.75" stroke-width="0.5" fill="none" stroke-linecap="round"/>
<polygon points="471.7,225.1 484.2,220.1 464.2,228.4" fill="#f6ef20" stroke="#f6ef20" stroke-width="0.4"/><polygon points="484.2,220.1 476.7,226.0 464.2,228.4" fill="#f6ef20" stroke="#f6ef20" stroke-width="0.4"/><path d="M471.7 225.1L484.2 220.1 M484.2 220.1L476.7 226.0 M476.7 226.0L464.2 228.4 M464.2 228.4L471.7 225.1" stroke="#000" stroke-opacity="0.75" stroke-width="0.5" fill="none" stroke-linecap="round"/>
<polygon points="434.2,237.2 444.2,228.0 426.7,258.2" fill="#febe3c" stroke="#febe3c" stroke-width="0.4"/><polygon points="444.2,228.0 436.7,252.9 426.7,258.2" fill="#febe3c" stroke="#febe3c" stroke-width="0.4"/><path d="M434.2 237.2L444.2 228.0 M444.2 228.0L436.7 252.9 M436.7 252.9L426.7 258.2 M426.7 258.2L434.2 237.2" stroke="#000" stroke-opacity="0.75" stroke-width="0.5" fill="none" stroke-linecap="round"/>
<polygon points="469.2,268.6 479.2,263.0 471.7,225.1" fill="#08b5d0" stroke="#08b5d0" stroke-width="0.4"/><polygon points="469.2,268.6 471.7,225.1 461.7,246.1" fill="#08b5d0" stroke="#08b5d0" stroke-width="0.4"/><path d="M469.2 268.6L479.2 263.0 M479.2 263.0L471.7 225.1 M471.7 225.1L461.7 246.1 M461.7 246.1L469.2 268.6" stroke="#000" stroke-opacity="0.75" stroke-width="0.5" fill="none" stroke-linecap="round"/>
<polygon points="424.2,274.3 434.2,237.2 416.7,248.5" fill="#20a5e3" stroke="#20a5e3" stroke-width="0.4"/><polygon points="434.2,237.2 426.7,258.2 416.7,248.5" fill="#20a5e3" stroke="#20a5e3" stroke-width="0.4"/><path d="M424.2 274.3L434.2 237.2 M434.2 237.2L426.7 258.2 M426.7 258.2L416.7 248.5 M416.7 248.5L424.2 274.3" stroke="#000" stroke-opacity="0.75" stroke-width="0.5" fill="none" stroke-linecap="round"/>
<polygon points="461.7,246.1 471.7,225.1 464.2,228.4" fill="#9dc943" stroke="#9dc943" stroke-width="0.4"/><polygon points="461.7,246.1 464.2,228.4 454.2,231.4" fill="#9dc943" stroke="#9dc943" stroke-width="0.4"/><path d="M461.7 246.1L471.7 225.1 M471.7 225.1L464.2 228.4 M464.2 228.4L454.2 231.4 M454.2 231.4L461.7 246.1" stroke="#000" stroke-opacity="0.75" stroke-width="0.5" fill="none" stroke-linecap="round"/>
<polygon points="448.4,285.5 441.7,245.5 439.8,286.8" fill="#3a5cf0" stroke="#3a5cf0" stroke-width="0.4"/><polygon points="439.8,286.8 441.7,245.5 431.7,277.7 434.6,286.2" fill="#3a5cf0" stroke="#3a5cf0" stroke-width="0.4"/><path d="M448.4 285.5L441.7 245.5 M441.7 245.5L431.7 277.7 M431.7 277.7L434.6 286.2" stroke="#000" stroke-opacity="0.75" stroke-width="0.5" fill="none" stroke-linecap="round"/>
<polygon points="459.2,272.2 469.2,268.6 451.7,234.4" fill="#12b1d6" stroke="#12b1d6" stroke-width="0.4"/><polygon points="469.2,268.6 461.7,246.1 451.7,234.4" fill="#12b1d6" stroke="#12b1d6" stroke-width="0.4"/><path d="M459.2 272.2L469.2 268.6 M469.2 268.6L461.7 246.1 M461.7 246.1L451.7 234.4 M451.7 234.4L459.2 272.2" stroke="#000" stroke-opacity="0.75" stroke-width="0.5" fill="none" stroke-linecap="round"/>
<polygon points="431.7,277.7 441.7,245.5 434.2,237.2" fill="#1fb2c4" stroke="#1fb2c4" stroke-width="0.4"/><polygon points="431.7,277.7 434.2,237.2 424.2,274.3" fill="#1fb2c4" stroke="#1fb2c4" stroke-width="0.4"/><path d="M431.7 277.7L441.7 245.5 M441.7 245.5L434.2 237.2 M434.2 237.2L424.2 274.3 M424.2 274.3L431.7 277.7" stroke="#000" stroke-opacity="0.75" stroke-width="0.5" fill="none" stroke-linecap="round"/>
<polygon points="451.7,234.4 461.7,246.1 444.2,228.0" fill="#fccf30" stroke="#fccf30" stroke-width="0.4"/><polygon points="461.7,246.1 454.2,231.4 444.2,228.0" fill="#fccf30" stroke="#fccf30" stroke-width="0.4"/><path d="M451.7 234.4L461.7 246.1 M461.7 246.1L454.2 231.4 M454.2 231.4L444.2 228.0 M444.2 228.0L451.7 234.4" stroke="#000" stroke-opacity="0.75" stroke-width="0.5" fill="none" stroke-linecap="round"/>
<polygon points="452.2,285.2 459.2,272.2 451.7,234.4 449.4,285.3" fill="#3478f2" stroke="#3478f2" stroke-width="0.4"/><polygon points="449.4,285.3 451.7,234.4 441.7,245.5 448.4,285.5" fill="#3478f2" stroke="#3478f2" stroke-width="0.4"/><path d="M452.2 285.2L459.2 272.2 M459.2 272.2L451.7 234.4 M451.7 234.4L441.7 245.5 M441.7 245.5L448.4 285.5" stroke="#000" stroke-opacity="0.75" stroke-width="0.5" fill="none" stroke-linecap="round"/>
<polygon points="441.7,245.5 451.7,234.4 444.2,228.0" fill="#dcbd29" stroke="#dcbd29" stroke-width="0.4"/><polygon points="441.7,245.5 444.2,228.0 434.2,237.2" fill="#dcbd29" stroke="#dcbd29" stroke-width="0.4"/><path d="M441.7 245.5L451.7 234.4 M451.7 234.4L444.2 228.0 M444.2 228.0L434.2 237.2 M434.2 237.2L441.7 245.5" stroke="#000" stroke-opacity="0.75" stroke-width="0.5" fill="none" stroke-linecap="round"/>
<path d="M479.2 263.0L471.7 225.1" stroke="#f2e83a" stroke-width="2.0" fill="none"/>
<path d="M491.8 263.2L489.2 214.8" stroke="#f7b83a" stroke-width="2.8" fill="none"/>
<path d="M361.6 277.0L361.6 209.0 M361.6 277.0L436.7 308.8 M436.7 308.8L536.8 285.9 M361.6 277.0L363.8 276.5 M361.6 254.3L363.8 253.8 M361.6 231.7L363.8 231.2 M361.6 209.0L363.8 208.5 M429.2 305.6L431.2 305.1 M421.7 302.4L423.7 301.9 M414.2 299.3L416.2 298.8 M406.7 296.1L408.7 295.6 M399.1 292.9L401.1 292.4 M391.6 289.7L393.6 289.2 M384.1 286.5L386.1 286.0 M376.6 283.4L378.6 282.9 M369.1 280.2L371.1 279.7 M436.7 308.8L435.1 308.1 M456.7 304.2L455.1 303.5 M476.7 299.6L475.1 298.9 M496.8 295.1L495.2 294.4 M516.8 290.5L515.2 289.8 M536.8 285.9L535.2 285.2" stroke="#4a4a4a" stroke-width="0.7" fill="none"/>
<g font-family="Liberation Sans, Arial, sans-serif" font-weight="bold" font-size="9.6" fill="#262626"><text x="356.6" y="279.5" text-anchor="end">0.6</text><text x="356.6" y="256.8" text-anchor="end">0.7</text><text x="356.6" y="234.1" text-anchor="end">0.8</text><text x="356.6" y="211.5" text-anchor="end">0.9</text><text x="423.0" y="316.1" text-anchor="end">1</text><text x="415.6" y="312.8" text-anchor="end">3</text><text x="408.3" y="309.5" text-anchor="end">5</text><text x="400.9" y="306.2" text-anchor="end">7</text><text x="393.6" y="302.9" text-anchor="end">9</text><text x="386.2" y="299.6" text-anchor="end">11</text><text x="378.8" y="296.2" text-anchor="end">13</text><text x="371.5" y="292.9" text-anchor="end">15</text><text x="364.1" y="289.6" text-anchor="end">17</text><text x="440.5" y="320.0" text-anchor="start">0</text><text x="460.5" y="315.4" text-anchor="start">0.2</text><text x="480.5" y="310.8" text-anchor="start">0.4</text><text x="500.6" y="306.2" text-anchor="start">0.6</text><text x="520.6" y="301.6" text-anchor="start">0.8</text><text x="540.6" y="297.1" text-anchor="start">1</text><text x="378.1" y="323.2" text-anchor="middle">degree</text><text x="501.4" y="324.6" text-anchor="middle">sigma</text><text x="0.0" y="0.0" text-anchor="middle" transform="translate(340.2 244.2) rotate(-90)">fscore</text></g>
<text x="439.3" y="351.1" text-anchor="middle" font-family="Liberation Serif, serif" font-size="13.5" fill="#111">(<tspan font-weight="bold">d</tspan>)</text></g>
<g><path d="M119.9 494.6L35.6 460.6 M35.6 460.6L35.6 389.9 M142.1 489.6L57.8 455.6 M57.8 455.6L57.8 384.9 M164.3 484.6L80.0 450.6 M80.0 450.6L80.0 379.9 M186.5 479.6L102.2 445.6 M102.2 445.6L102.2 374.9 M208.7 474.6L124.4 440.6 M124.4 440.6L124.4 369.9 M230.9 469.6L146.6 435.6 M146.6 435.6L146.6 364.9 M111.5 491.2L222.5 466.2 M222.5 466.2L222.5 395.5 M103.0 487.8L214.0 462.8 M214.0 462.8L214.0 392.1 M94.6 484.4L205.6 459.4 M205.6 459.4L205.6 388.7 M86.2 481.0L197.2 456.0 M197.2 456.0L197.2 385.3 M77.8 477.6L188.8 452.6 M188.8 452.6L188.8 381.9 M69.3 474.2L180.3 449.2 M180.3 449.2L180.3 378.5 M60.9 470.8L171.9 445.8 M171.9 445.8L171.9 375.1 M52.5 467.4L163.5 442.4 M163.5 442.4L163.5 371.7 M44.0 464.0L155.0 439.0 M155.0 439.0L155.0 368.3 M35.6 460.6L146.6 435.6 M146.6 435.6L230.9 469.6 M35.6 432.0L146.6 407.0 M146.6 407.0L230.9 441.0 M35.6 403.4L146.6 378.4 M146.6 378.4L230.9 412.4 M35.6 389.9L146.6 364.9 M146.6 364.9L230.9 398.9 M230.9 469.6L230.9 398.9 M146.6 435.6L146.6 364.9 M35.6 460.6L146.6 435.6 M146.6 435.6L230.9 469.6" stroke="#e8e8e8" stroke-width="0.7" fill="none"/>
<polygon points="72.0,453.4 74.8,449.4 70.5,446.9 63.6,452.3" fill="#4537d5" stroke="#4537d5" stroke-width="0.4"/><polygon points="69.0,445.4 63.6,452.3 70.5,446.9" fill="#4537d5" stroke="#4537d5" stroke-width="0.4"/><path d="M72.0 453.4L74.8 449.4 M69.0 445.4L63.6 452.3 M63.6 452.3L72.0 453.4" stroke="#000" stroke-opacity="0.75" stroke-width="0.5" fill="none" stroke-linecap="round"/>
<polygon points="80.4,455.4 81.5,453.2 75.0,450.1 72.0,453.4" fill="#463cde" stroke="#463cde" stroke-width="0.4"/><polygon points="74.8,449.4 72.0,453.4 75.0,450.1" fill="#463cde" stroke="#463cde" stroke-width="0.4"/><path d="M80.4 455.4L81.5 453.2 M74.8 449.4L72.0 453.4 M72.0 453.4L80.4 455.4" stroke="#000" stroke-opacity="0.75" stroke-width="0.5" fill="none" stroke-linecap="round"/>
<polygon points="189.2,456.0 198.1,453.4 188.9,455.3" fill="#4747eb" stroke="#4747eb" stroke-width="0.4"/><path d="M189.2 456.0L198.1 453.4 M188.9 455.3L189.2 456.0" stroke="#000" stroke-opacity="0.75" stroke-width="0.5" fill="none" stroke-linecap="round"/>
<polygon points="88.8,458.0 89.3,456.7 81.8,453.5 80.4,455.4" fill="#4741e5" stroke="#4741e5" stroke-width="0.4"/><polygon points="81.5,453.2 80.4,455.4 81.8,453.5" fill="#4741e5" stroke="#4741e5" stroke-width="0.4"/><path d="M88.8 458.0L89.3 456.7 M81.5 453.2L80.4 455.4 M80.4 455.4L88.8 458.0" stroke="#000" stroke-opacity="0.75" stroke-width="0.5" fill="none" stroke-linecap="round"/>
<polygon points="178.1,458.5 189.2,456.0 188.8,455.4 177.9,457.9" fill="#4747eb" stroke="#4747eb" stroke-width="0.4"/><polygon points="189.2,456.0 188.9,455.3 188.8,455.4" fill="#4747eb" stroke="#4747eb" stroke-width="0.4"/><path d="M178.1 458.5L189.2 456.0 M189.2 456.0L188.9 455.3 M177.9 457.9L178.1 458.5" stroke="#000" stroke-opacity="0.75" stroke-width="0.5" fill="none" stroke-linecap="round"/>
<polygon points="97.3,467.6 99.9,459.6 97.9,458.9" fill="#422ec0" stroke="#422ec0" stroke-width="0.4"/><polygon points="97.3,467.6 97.9,458.9 89.3,456.7 88.8,458.0" fill="#422ec0" stroke="#422ec0" stroke-width="0.4"/><path d="M97.3 467.6L99.9 459.6 M89.3 456.7L88.8 458.0 M88.8 458.0L97.3 467.6" stroke="#000" stroke-opacity="0.75" stroke-width="0.5" fill="none" stroke-linecap="round"/>
<polygon points="167.0,461.0 178.1,458.5 177.9,457.9 167.0,460.3" fill="#4747eb" stroke="#4747eb" stroke-width="0.4"/><polygon points="167.0,461.0 167.0,460.3 166.8,460.3" fill="#4747eb" stroke="#4747eb" stroke-width="0.4"/><path d="M167.0 461.0L178.1 458.5 M178.1 458.5L177.9 457.9 M166.8 460.3L167.0 461.0" stroke="#000" stroke-opacity="0.75" stroke-width="0.5" fill="none" stroke-linecap="round"/>
<polygon points="155.9,464.9 167.0,461.0 166.8,460.3 156.1,462.5" fill="#463cde" stroke="#463cde" stroke-width="0.4"/><polygon points="155.9,464.9 156.1,462.5 155.1,462.6" fill="#463cde" stroke="#463cde" stroke-width="0.4"/><path d="M155.9 464.9L167.0 461.0 M167.0 461.0L166.8 460.3 M155.1 462.6L155.9 464.9" stroke="#000" stroke-opacity="0.75" stroke-width="0.5" fill="none" stroke-linecap="round"/>
<polygon points="105.7,474.5 109.1,462.8 106.5,461.8" fill="#3e26a8" stroke="#3e26a8" stroke-width="0.4"/><polygon points="105.7,474.5 106.5,461.8 99.9,459.6 97.3,467.6" fill="#3e26a8" stroke="#3e26a8" stroke-width="0.4"/><path d="M105.7 474.5L109.1 462.8 M99.9 459.6L97.3 467.6 M97.3 467.6L105.7 474.5" stroke="#000" stroke-opacity="0.75" stroke-width="0.5" fill="none" stroke-linecap="round"/>
<polygon points="144.8,465.7 155.9,464.9 154.6,462.9 144.7,465.4" fill="#4747eb" stroke="#4747eb" stroke-width="0.4"/><polygon points="155.9,464.9 155.1,462.6 154.6,462.9" fill="#4747eb" stroke="#4747eb" stroke-width="0.4"/><path d="M144.8 465.7L155.9 464.9 M155.9 464.9L155.1 462.6 M144.7 465.4L144.8 465.7" stroke="#000" stroke-opacity="0.75" stroke-width="0.5" fill="none" stroke-linecap="round"/>
<polygon points="114.1,475.6 117.3,466.3 114.8,465.5" fill="#402ab4" stroke="#402ab4" stroke-width="0.4"/><polygon points="114.1,475.6 114.8,465.5 109.1,462.8 105.7,474.5" fill="#402ab4" stroke="#402ab4" stroke-width="0.4"/><path d="M114.1 475.6L117.3 466.3 M109.1 462.8L105.7 474.5 M105.7 474.5L114.1 475.6" stroke="#000" stroke-opacity="0.75" stroke-width="0.5" fill="none" stroke-linecap="round"/>
<polygon points="122.6,476.1 132.7,468.1 123.1,469.2" fill="#4332cb" stroke="#4332cb" stroke-width="0.4"/><polygon points="122.6,476.1 123.1,469.2 117.3,466.3 114.1,475.6" fill="#4332cb" stroke="#4332cb" stroke-width="0.4"/><path d="M122.6 476.1L132.7 468.1 M117.3 466.3L114.1 475.6 M114.1 475.6L122.6 476.1" stroke="#000" stroke-opacity="0.75" stroke-width="0.5" fill="none" stroke-linecap="round"/>
<polygon points="141.1,466.2 144.8,465.7 144.7,465.4" fill="#484df0" stroke="#484df0" stroke-width="0.4"/><path d="M141.1 466.2L144.8 465.7 M144.8 465.7L144.7 465.4" stroke="#000" stroke-opacity="0.75" stroke-width="0.5" fill="none" stroke-linecap="round"/>
<polygon points="119.6,472.4 196.3,455.1 123.8,425.9 47.1,443.2" fill="#2fe6f2"/><path d="M119.6 472.4L47.1 443.2 M128.1 470.5L55.6 441.3 M136.6 468.6L64.1 439.3 M145.1 466.7L72.6 437.4 M153.7 464.7L81.2 435.5 M162.2 462.8L89.7 433.6 M170.7 460.9L98.2 431.7 M179.2 459.0L106.7 429.7 M187.8 457.1L115.3 427.8 M196.3 455.1L123.8 425.9 M119.6 472.4L196.3 455.1 M111.5 469.2L188.2 451.9 M103.5 465.9L180.2 448.6 M95.4 462.7L172.1 445.4 M87.4 459.4L164.1 442.1 M79.3 456.2L156.0 438.9 M71.2 452.9L147.9 435.6 M63.2 449.7L139.9 432.4 M55.1 446.4L131.8 429.1 M47.1 443.2L123.8 425.9" stroke="#000" stroke-opacity="0.45" stroke-width="0.5" fill="none"/>
<polygon points="160.8,391.1 171.9,397.2 163.5,396.4" fill="#f0ba36" stroke="#f0ba36" stroke-width="0.4"/><polygon points="160.8,391.1 163.5,396.4 152.4,390.0" fill="#f0ba36" stroke="#f0ba36" stroke-width="0.4"/><path d="M160.8 391.1L171.9 397.2 M171.9 397.2L163.5 396.4 M163.5 396.4L152.4 390.0 M152.4 390.0L160.8 391.1" stroke="#000" stroke-opacity="0.75" stroke-width="0.5" fill="none" stroke-linecap="round"/>
<polygon points="169.2,396.0 180.3,398.6 171.9,397.2" fill="#dcbd29" stroke="#dcbd29" stroke-width="0.4"/><polygon points="169.2,396.0 171.9,397.2 160.8,391.1" fill="#dcbd29" stroke="#dcbd29" stroke-width="0.4"/><path d="M169.2 396.0L180.3 398.6 M180.3 398.6L171.9 397.2 M171.9 397.2L160.8 391.1 M160.8 391.1L169.2 396.0" stroke="#000" stroke-opacity="0.75" stroke-width="0.5" fill="none" stroke-linecap="round"/>
<polygon points="149.7,389.4 160.8,391.1 152.4,390.0" fill="#fccf30" stroke="#fccf30" stroke-width="0.4"/><polygon points="149.7,389.4 152.4,390.0 141.3,391.1" fill="#fccf30" stroke="#fccf30" stroke-width="0.4"/><path d="M149.7 389.4L160.8 391.1 M160.8 391.1L152.4 390.0 M152.4 390.0L141.3 391.1 M141.3 391.1L149.7 389.4" stroke="#000" stroke-opacity="0.75" stroke-width="0.5" fill="none" stroke-linecap="round"/>
<polygon points="138.6,393.0 149.7,389.4 130.2,399.6" fill="#fec338" stroke="#fec338" stroke-width="0.4"/><polygon points="149.7,389.4 141.3,391.1 130.2,399.6" fill="#fec338" stroke="#fec338" stroke-width="0.4"/><path d="M138.6 393.0L149.7 389.4 M149.7 389.4L141.3 391.1 M141.3 391.1L130.2 399.6 M130.2 399.6L138.6 393.0" stroke="#000" stroke-opacity="0.75" stroke-width="0.5" fill="none" stroke-linecap="round"/>
<polygon points="177.7,400.8 188.8,402.6 169.2,396.0" fill="#d1bf27" stroke="#d1bf27" stroke-width="0.4"/><polygon points="188.8,402.6 180.3,398.6 169.2,396.0" fill="#d1bf27" stroke="#d1bf27" stroke-width="0.4"/><path d="M177.7 400.8L188.8 402.6 M188.8 402.6L180.3 398.6 M180.3 398.6L169.2 396.0 M169.2 396.0L177.7 400.8" stroke="#000" stroke-opacity="0.75" stroke-width="0.5" fill="none" stroke-linecap="round"/>
<polygon points="127.5,401.5 138.6,393.0 119.1,413.2" fill="#d1bf27" stroke="#d1bf27" stroke-width="0.4"/><polygon points="138.6,393.0 130.2,399.6 119.1,413.2" fill="#d1bf27" stroke="#d1bf27" stroke-width="0.4"/><path d="M127.5 401.5L138.6 393.0 M138.6 393.0L130.2 399.6 M130.2 399.6L119.1 413.2 M119.1 413.2L127.5 401.5" stroke="#000" stroke-opacity="0.75" stroke-width="0.5" fill="none" stroke-linecap="round"/>
<polygon points="116.4,418.3 127.5,401.5 108.0,416.3" fill="#19bfb6" stroke="#19bfb6" stroke-width="0.4"/><polygon points="127.5,401.5 119.1,413.2 108.0,416.3" fill="#19bfb6" stroke="#19bfb6" stroke-width="0.4"/><path d="M116.4 418.3L127.5 401.5 M127.5 401.5L119.1 413.2 M119.1 413.2L108.0 416.3 M108.0 416.3L116.4 418.3" stroke="#000" stroke-opacity="0.75" stroke-width="0.5" fill="none" stroke-linecap="round"/>
<polygon points="158.1,392.8 169.2,396.0 149.7,389.4" fill="#fccf30" stroke="#fccf30" stroke-width="0.4"/><polygon points="169.2,396.0 160.8,391.1 149.7,389.4" fill="#fccf30" stroke="#fccf30" stroke-width="0.4"/><path d="M158.1 392.8L169.2 396.0 M169.2 396.0L160.8 391.1 M160.8 391.1L149.7 389.4 M149.7 389.4L158.1 392.8" stroke="#000" stroke-opacity="0.75" stroke-width="0.5" fill="none" stroke-linecap="round"/>
<polygon points="186.1,408.5 197.2,411.6 177.7,400.8" fill="#8fcb4e" stroke="#8fcb4e" stroke-width="0.4"/><polygon points="197.2,411.6 188.8,402.6 177.7,400.8" fill="#8fcb4e" stroke="#8fcb4e" stroke-width="0.4"/><path d="M186.1 408.5L197.2 411.6 M197.2 411.6L188.8 402.6 M188.8 402.6L177.7 400.8 M177.7 400.8L186.1 408.5" stroke="#000" stroke-opacity="0.75" stroke-width="0.5" fill="none" stroke-linecap="round"/>
<polygon points="105.3,420.8 116.4,418.3 96.9,408.2" fill="#19bfb6" stroke="#19bfb6" stroke-width="0.4"/><polygon points="116.4,418.3 108.0,416.3 96.9,408.2" fill="#19bfb6" stroke="#19bfb6" stroke-width="0.4"/><path d="M105.3 420.8L116.4 418.3 M116.4 418.3L108.0 416.3 M108.0 416.3L96.9 408.2 M96.9 408.2L105.3 420.8" stroke="#000" stroke-opacity="0.75" stroke-width="0.5" fill="none" stroke-linecap="round"/>
<polygon points="194.5,424.7 205.6,426.4 186.1,408.5" fill="#02bac3" stroke="#02bac3" stroke-width="0.4"/><polygon points="205.6,426.4 197.2,411.6 186.1,408.5" fill="#02bac3" stroke="#02bac3" stroke-width="0.4"/><path d="M194.5 424.7L205.6 426.4 M205.6 426.4L197.2 411.6 M197.2 411.6L186.1 408.5 M186.1 408.5L194.5 424.7" stroke="#000" stroke-opacity="0.75" stroke-width="0.5" fill="none" stroke-linecap="round"/>
<polygon points="202.9,441.9 214.0,439.9 194.5,424.7" fill="#3e6fff" stroke="#3e6fff" stroke-width="0.4"/><polygon points="214.0,439.9 205.6,426.4 194.5,424.7" fill="#3e6fff" stroke="#3e6fff" stroke-width="0.4"/><path d="M202.9 441.9L214.0 439.9 M214.0 439.9L205.6 426.4 M205.6 426.4L194.5 424.7 M194.5 424.7L202.9 441.9" stroke="#000" stroke-opacity="0.75" stroke-width="0.5" fill="none" stroke-linecap="round"/>
<polygon points="166.6,397.6 177.7,400.8 158.1,392.8" fill="#fec338" stroke="#fec338" stroke-width="0.4"/><polygon points="177.7,400.8 169.2,396.0 158.1,392.8" fill="#fec338" stroke="#fec338" stroke-width="0.4"/><path d="M166.6 397.6L177.7 400.8 M177.7 400.8L169.2 396.0 M169.2 396.0L158.1 392.8 M158.1 392.8L166.6 397.6" stroke="#000" stroke-opacity="0.75" stroke-width="0.5" fill="none" stroke-linecap="round"/>
<polygon points="147.0,391.0 158.1,392.8 149.7,389.4" fill="#f7f51b" stroke="#f7f51b" stroke-width="0.4"/><polygon points="147.0,391.0 149.7,389.4 138.6,393.0" fill="#f7f51b" stroke="#f7f51b" stroke-width="0.4"/><path d="M147.0 391.0L158.1 392.8 M158.1 392.8L149.7 389.4 M149.7 389.4L138.6 393.0 M138.6 393.0L147.0 391.0" stroke="#000" stroke-opacity="0.75" stroke-width="0.5" fill="none" stroke-linecap="round"/>
<polygon points="74.8,449.4 83.1,437.2 70.5,446.9" fill="#4537d5" stroke="#4537d5" stroke-width="0.4"/><polygon points="83.1,437.2 74.7,438.1 69.0,445.4 70.5,446.9" fill="#4537d5" stroke="#4537d5" stroke-width="0.4"/><path d="M74.8 449.4L83.1 437.2 M83.1 437.2L74.7 438.1 M74.7 438.1L69.0 445.4" stroke="#000" stroke-opacity="0.75" stroke-width="0.5" fill="none" stroke-linecap="round"/>
<polygon points="211.4,447.8 222.5,443.6 214.0,439.9" fill="#465efb" stroke="#465efb" stroke-width="0.4"/><polygon points="211.4,447.8 214.0,439.9 202.9,441.9" fill="#465efb" stroke="#465efb" stroke-width="0.4"/><path d="M211.4 447.8L222.5 443.6 M222.5 443.6L214.0 439.9 M214.0 439.9L202.9 441.9 M202.9 441.9L211.4 447.8" stroke="#000" stroke-opacity="0.75" stroke-width="0.5" fill="none" stroke-linecap="round"/>
<polygon points="94.2,426.1 105.3,420.8 96.9,408.2" fill="#02bac3" stroke="#02bac3" stroke-width="0.4"/><polygon points="94.2,426.1 96.9,408.2 85.8,422.5" fill="#02bac3" stroke="#02bac3" stroke-width="0.4"/><path d="M94.2 426.1L105.3 420.8 M105.3 420.8L96.9 408.2 M96.9 408.2L85.8 422.5 M85.8 422.5L94.2 426.1" stroke="#000" stroke-opacity="0.75" stroke-width="0.5" fill="none" stroke-linecap="round"/>
<polygon points="83.1,437.2 94.2,426.1 74.7,438.1" fill="#2797eb" stroke="#2797eb" stroke-width="0.4"/><polygon points="94.2,426.1 85.8,422.5 74.7,438.1" fill="#2797eb" stroke="#2797eb" stroke-width="0.4"/><path d="M83.1 437.2L94.2 426.1 M94.2 426.1L85.8 422.5 M85.8 422.5L74.7 438.1 M74.7 438.1L83.1 437.2" stroke="#000" stroke-opacity="0.75" stroke-width="0.5" fill="none" stroke-linecap="round"/>
<polygon points="175.0,403.8 186.1,408.5 166.6,397.6" fill="#f0ba36" stroke="#f0ba36" stroke-width="0.4"/><polygon points="186.1,408.5 177.7,400.8 166.6,397.6" fill="#f0ba36" stroke="#f0ba36" stroke-width="0.4"/><path d="M175.0 403.8L186.1 408.5 M186.1 408.5L177.7 400.8 M177.7 400.8L166.6 397.6 M166.6 397.6L175.0 403.8" stroke="#000" stroke-opacity="0.75" stroke-width="0.5" fill="none" stroke-linecap="round"/>
<polygon points="135.9,393.2 147.0,391.0 127.5,401.5" fill="#f7f51b" stroke="#f7f51b" stroke-width="0.4"/><polygon points="147.0,391.0 138.6,393.0 127.5,401.5" fill="#f7f51b" stroke="#f7f51b" stroke-width="0.4"/><path d="M135.9 393.2L147.0 391.0 M147.0 391.0L138.6 393.0 M138.6 393.0L127.5 401.5 M127.5 401.5L135.9 393.2" stroke="#000" stroke-opacity="0.75" stroke-width="0.5" fill="none" stroke-linecap="round"/>
<polygon points="113.7,427.0 124.8,405.7 105.3,420.8" fill="#02bac3" stroke="#02bac3" stroke-width="0.4"/><polygon points="124.8,405.7 116.4,418.3 105.3,420.8" fill="#02bac3" stroke="#02bac3" stroke-width="0.4"/><path d="M113.7 427.0L124.8 405.7 M124.8 405.7L116.4 418.3 M116.4 418.3L105.3 420.8 M105.3 420.8L113.7 427.0" stroke="#000" stroke-opacity="0.75" stroke-width="0.5" fill="none" stroke-linecap="round"/>
<polygon points="191.8,441.2 202.9,441.9 183.4,418.7" fill="#2e87f7" stroke="#2e87f7" stroke-width="0.4"/><polygon points="202.9,441.9 194.5,424.7 183.4,418.7" fill="#2e87f7" stroke="#2e87f7" stroke-width="0.4"/><path d="M191.8 441.2L202.9 441.9 M202.9 441.9L194.5 424.7 M194.5 424.7L183.4 418.7 M183.4 418.7L191.8 441.2" stroke="#000" stroke-opacity="0.75" stroke-width="0.5" fill="none" stroke-linecap="round"/>
<polygon points="124.8,405.7 135.9,393.2 116.4,418.3" fill="#dcbd29" stroke="#dcbd29" stroke-width="0.4"/><polygon points="135.9,393.2 127.5,401.5 116.4,418.3" fill="#dcbd29" stroke="#dcbd29" stroke-width="0.4"/><path d="M124.8 405.7L135.9 393.2 M135.9 393.2L127.5 401.5 M127.5 401.5L116.4 418.3 M116.4 418.3L124.8 405.7" stroke="#000" stroke-opacity="0.75" stroke-width="0.5" fill="none" stroke-linecap="round"/>
<polygon points="200.3,452.8 211.4,447.8 191.8,441.2" fill="#484df0" stroke="#484df0" stroke-width="0.4"/><polygon points="211.4,447.8 202.9,441.9 191.8,441.2" fill="#484df0" stroke="#484df0" stroke-width="0.4"/><path d="M200.3 452.8L211.4 447.8 M211.4 447.8L202.9 441.9 M202.9 441.9L191.8 441.2 M191.8 441.2L200.3 452.8" stroke="#000" stroke-opacity="0.75" stroke-width="0.5" fill="none" stroke-linecap="round"/>
<polygon points="183.4,418.7 194.5,424.7 175.0,403.8" fill="#4acb84" stroke="#4acb84" stroke-width="0.4"/><polygon points="194.5,424.7 186.1,408.5 175.0,403.8" fill="#4acb84" stroke="#4acb84" stroke-width="0.4"/><path d="M183.4 418.7L194.5 424.7 M194.5 424.7L186.1 408.5 M186.1 408.5L175.0 403.8 M175.0 403.8L183.4 418.7" stroke="#000" stroke-opacity="0.75" stroke-width="0.5" fill="none" stroke-linecap="round"/>
<polygon points="155.5,395.8 166.6,397.6 147.0,391.0" fill="#f5e924" stroke="#f5e924" stroke-width="0.4"/><polygon points="166.6,397.6 158.1,392.8 147.0,391.0" fill="#f5e924" stroke="#f5e924" stroke-width="0.4"/><path d="M155.5 395.8L166.6 397.6 M166.6 397.6L158.1 392.8 M158.1 392.8L147.0 391.0 M147.0 391.0L155.5 395.8" stroke="#000" stroke-opacity="0.75" stroke-width="0.5" fill="none" stroke-linecap="round"/>
<polygon points="102.6,428.1 113.7,427.0 105.3,420.8" fill="#0bbdbd" stroke="#0bbdbd" stroke-width="0.4"/><polygon points="102.6,428.1 105.3,420.8 94.2,426.1" fill="#0bbdbd" stroke="#0bbdbd" stroke-width="0.4"/><path d="M102.6 428.1L113.7 427.0 M113.7 427.0L105.3 420.8 M105.3 420.8L94.2 426.1 M94.2 426.1L102.6 428.1" stroke="#000" stroke-opacity="0.75" stroke-width="0.5" fill="none" stroke-linecap="round"/>
<polygon points="81.5,453.2 91.5,432.0 75.0,450.1" fill="#463cde" stroke="#463cde" stroke-width="0.4"/><polygon points="91.5,432.0 83.1,437.2 74.8,449.4 75.0,450.1" fill="#463cde" stroke="#463cde" stroke-width="0.4"/><path d="M81.5 453.2L91.5 432.0 M91.5 432.0L83.1 437.2 M83.1 437.2L74.8 449.4" stroke="#000" stroke-opacity="0.75" stroke-width="0.5" fill="none" stroke-linecap="round"/>
<polygon points="91.5,432.0 102.6,428.1 83.1,437.2" fill="#02bac3" stroke="#02bac3" stroke-width="0.4"/><polygon points="102.6,428.1 94.2,426.1 83.1,437.2" fill="#02bac3" stroke="#02bac3" stroke-width="0.4"/><path d="M91.5 432.0L102.6 428.1 M102.6 428.1L94.2 426.1 M94.2 426.1L83.1 437.2 M83.1 437.2L91.5 432.0" stroke="#000" stroke-opacity="0.75" stroke-width="0.5" fill="none" stroke-linecap="round"/>
<polygon points="163.9,402.1 175.0,403.8 155.5,395.8" fill="#fccf30" stroke="#fccf30" stroke-width="0.4"/><polygon points="175.0,403.8 166.6,397.6 155.5,395.8" fill="#fccf30" stroke="#fccf30" stroke-width="0.4"/><path d="M163.9 402.1L175.0 403.8 M175.0 403.8L166.6 397.6 M166.6 397.6L155.5 395.8 M155.5 395.8L163.9 402.1" stroke="#000" stroke-opacity="0.75" stroke-width="0.5" fill="none" stroke-linecap="round"/>
<polygon points="198.1,453.4 200.3,452.8 180.7,433.4 188.9,455.3" fill="#4747eb" stroke="#4747eb" stroke-width="0.4"/><polygon points="200.3,452.8 191.8,441.2 180.7,433.4" fill="#4747eb" stroke="#4747eb" stroke-width="0.4"/><path d="M198.1 453.4L200.3 452.8 M200.3 452.8L191.8 441.2 M191.8 441.2L180.7 433.4 M180.7 433.4L188.9 455.3" stroke="#000" stroke-opacity="0.75" stroke-width="0.5" fill="none" stroke-linecap="round"/>
<polygon points="144.3,396.9 155.5,395.8 135.9,393.2" fill="#f7f51b" stroke="#f7f51b" stroke-width="0.4"/><polygon points="155.5,395.8 147.0,391.0 135.9,393.2" fill="#f7f51b" stroke="#f7f51b" stroke-width="0.4"/><path d="M144.3 396.9L155.5 395.8 M155.5 395.8L147.0 391.0 M147.0 391.0L135.9 393.2 M135.9 393.2L144.3 396.9" stroke="#000" stroke-opacity="0.75" stroke-width="0.5" fill="none" stroke-linecap="round"/>
<polygon points="111.1,432.9 122.2,426.2 102.6,428.1" fill="#02bac3" stroke="#02bac3" stroke-width="0.4"/><polygon points="122.2,426.2 113.7,427.0 102.6,428.1" fill="#02bac3" stroke="#02bac3" stroke-width="0.4"/><path d="M111.1 432.9L122.2 426.2 M122.2 426.2L113.7 427.0 M113.7 427.0L102.6 428.1 M102.6 428.1L111.1 432.9" stroke="#000" stroke-opacity="0.75" stroke-width="0.5" fill="none" stroke-linecap="round"/>
<polygon points="122.2,426.2 133.2,405.1 113.7,427.0" fill="#2cc4a7" stroke="#2cc4a7" stroke-width="0.4"/><polygon points="133.2,405.1 124.8,405.7 113.7,427.0" fill="#2cc4a7" stroke="#2cc4a7" stroke-width="0.4"/><path d="M122.2 426.2L133.2 405.1 M133.2 405.1L124.8 405.7 M124.8 405.7L113.7 427.0 M113.7 427.0L122.2 426.2" stroke="#000" stroke-opacity="0.75" stroke-width="0.5" fill="none" stroke-linecap="round"/>
<polygon points="180.7,433.4 191.8,441.2 172.3,412.6" fill="#01b8ca" stroke="#01b8ca" stroke-width="0.4"/><polygon points="191.8,441.2 183.4,418.7 172.3,412.6" fill="#01b8ca" stroke="#01b8ca" stroke-width="0.4"/><path d="M180.7 433.4L191.8 441.2 M191.8 441.2L183.4 418.7 M183.4 418.7L172.3 412.6 M172.3 412.6L180.7 433.4" stroke="#000" stroke-opacity="0.75" stroke-width="0.5" fill="none" stroke-linecap="round"/>
<polygon points="172.3,412.6 183.4,418.7 163.9,402.1" fill="#d1bf27" stroke="#d1bf27" stroke-width="0.4"/><polygon points="183.4,418.7 175.0,403.8 163.9,402.1" fill="#d1bf27" stroke="#d1bf27" stroke-width="0.4"/><path d="M172.3 412.6L183.4 418.7 M183.4 418.7L175.0 403.8 M175.0 403.8L163.9 402.1 M163.9 402.1L172.3 412.6" stroke="#000" stroke-opacity="0.75" stroke-width="0.5" fill="none" stroke-linecap="round"/>
<polygon points="133.2,405.1 144.3,396.9 124.8,405.7" fill="#fec338" stroke="#fec338" stroke-width="0.4"/><polygon points="144.3,396.9 135.9,393.2 124.8,405.7" fill="#fec338" stroke="#fec338" stroke-width="0.4"/><path d="M133.2 405.1L144.3 396.9 M144.3 396.9L135.9 393.2 M135.9 393.2L124.8 405.7 M124.8 405.7L133.2 405.1" stroke="#000" stroke-opacity="0.75" stroke-width="0.5" fill="none" stroke-linecap="round"/>
<polygon points="152.8,414.8 163.9,402.1 155.5,395.8" fill="#9dc943" stroke="#9dc943" stroke-width="0.4"/><polygon points="152.8,414.8 155.5,395.8 144.3,396.9" fill="#9dc943" stroke="#9dc943" stroke-width="0.4"/><path d="M152.8 414.8L163.9 402.1 M163.9 402.1L155.5 395.8 M155.5 395.8L144.3 396.9 M144.3 396.9L152.8 414.8" stroke="#000" stroke-opacity="0.75" stroke-width="0.5" fill="none" stroke-linecap="round"/>
<polygon points="89.3,456.7 100.0,427.4 81.8,453.5" fill="#4741e5" stroke="#4741e5" stroke-width="0.4"/><polygon points="100.0,427.4 91.5,432.0 81.5,453.2 81.8,453.5" fill="#4741e5" stroke="#4741e5" stroke-width="0.4"/><path d="M89.3 456.7L100.0 427.4 M100.0 427.4L91.5 432.0 M91.5 432.0L81.5 453.2" stroke="#000" stroke-opacity="0.75" stroke-width="0.5" fill="none" stroke-linecap="round"/>
<polygon points="100.0,427.4 111.1,432.9 102.6,428.1" fill="#3fca8e" stroke="#3fca8e" stroke-width="0.4"/><polygon points="100.0,427.4 102.6,428.1 91.5,432.0" fill="#3fca8e" stroke="#3fca8e" stroke-width="0.4"/><path d="M100.0 427.4L111.1 432.9 M111.1 432.9L102.6 428.1 M102.6 428.1L91.5 432.0 M91.5 432.0L100.0 427.4" stroke="#000" stroke-opacity="0.75" stroke-width="0.5" fill="none" stroke-linecap="round"/>
<polygon points="161.2,416.5 172.3,412.6 163.9,402.1" fill="#b9c431" stroke="#b9c431" stroke-width="0.4"/><polygon points="161.2,416.5 163.9,402.1 152.8,414.8" fill="#b9c431" stroke="#b9c431" stroke-width="0.4"/><path d="M161.2 416.5L172.3 412.6 M172.3 412.6L163.9 402.1 M163.9 402.1L152.8 414.8 M152.8 414.8L161.2 416.5" stroke="#000" stroke-opacity="0.75" stroke-width="0.5" fill="none" stroke-linecap="round"/>
<polygon points="188.8,455.4 169.6,420.8 177.9,457.9" fill="#4747eb" stroke="#4747eb" stroke-width="0.4"/><polygon points="188.9,455.3 180.7,433.4 169.6,420.8 188.8,455.4" fill="#4747eb" stroke="#4747eb" stroke-width="0.4"/><path d="M188.9 455.3L180.7 433.4 M180.7 433.4L169.6 420.8 M169.6 420.8L177.9 457.9" stroke="#000" stroke-opacity="0.75" stroke-width="0.5" fill="none" stroke-linecap="round"/>
<polygon points="141.7,407.1 152.8,414.8 133.2,405.1" fill="#fccf30" stroke="#fccf30" stroke-width="0.4"/><polygon points="152.8,414.8 144.3,396.9 133.2,405.1" fill="#fccf30" stroke="#fccf30" stroke-width="0.4"/><path d="M141.7 407.1L152.8 414.8 M152.8 414.8L144.3 396.9 M144.3 396.9L133.2 405.1 M133.2 405.1L141.7 407.1" stroke="#000" stroke-opacity="0.75" stroke-width="0.5" fill="none" stroke-linecap="round"/>
<polygon points="119.5,433.5 130.6,416.7 111.1,432.9" fill="#19bfb6" stroke="#19bfb6" stroke-width="0.4"/><polygon points="130.6,416.7 122.2,426.2 111.1,432.9" fill="#19bfb6" stroke="#19bfb6" stroke-width="0.4"/><path d="M119.5 433.5L130.6 416.7 M130.6 416.7L122.2 426.2 M122.2 426.2L111.1 432.9 M111.1 432.9L119.5 433.5" stroke="#000" stroke-opacity="0.75" stroke-width="0.5" fill="none" stroke-linecap="round"/>
<polygon points="130.6,416.7 141.7,407.1 122.2,426.2" fill="#d1bf27" stroke="#d1bf27" stroke-width="0.4"/><polygon points="141.7,407.1 133.2,405.1 122.2,426.2" fill="#d1bf27" stroke="#d1bf27" stroke-width="0.4"/><path d="M130.6 416.7L141.7 407.1 M141.7 407.1L133.2 405.1 M133.2 405.1L122.2 426.2 M122.2 426.2L130.6 416.7" stroke="#000" stroke-opacity="0.75" stroke-width="0.5" fill="none" stroke-linecap="round"/>
<polygon points="169.6,420.8 180.7,433.4 161.2,416.5" fill="#abc739" stroke="#abc739" stroke-width="0.4"/><polygon points="180.7,433.4 172.3,412.6 161.2,416.5" fill="#abc739" stroke="#abc739" stroke-width="0.4"/><path d="M169.6 420.8L180.7 433.4 M180.7 433.4L172.3 412.6 M172.3 412.6L161.2 416.5 M161.2 416.5L169.6 420.8" stroke="#000" stroke-opacity="0.75" stroke-width="0.5" fill="none" stroke-linecap="round"/>
<polygon points="150.1,420.5 161.2,416.5 141.7,407.1" fill="#9dc943" stroke="#9dc943" stroke-width="0.4"/><polygon points="161.2,416.5 152.8,414.8 141.7,407.1" fill="#9dc943" stroke="#9dc943" stroke-width="0.4"/><path d="M150.1 420.5L161.2 416.5 M161.2 416.5L152.8 414.8 M152.8 414.8L141.7 407.1 M141.7 407.1L150.1 420.5" stroke="#000" stroke-opacity="0.75" stroke-width="0.5" fill="none" stroke-linecap="round"/>
<polygon points="99.9,459.6 108.4,433.1 100.0,427.4 97.9,458.9" fill="#422ec0" stroke="#422ec0" stroke-width="0.4"/><polygon points="97.9,458.9 100.0,427.4 89.3,456.7" fill="#422ec0" stroke="#422ec0" stroke-width="0.4"/><path d="M99.9 459.6L108.4 433.1 M108.4 433.1L100.0 427.4 M100.0 427.4L89.3 456.7" stroke="#000" stroke-opacity="0.75" stroke-width="0.5" fill="none" stroke-linecap="round"/>
<polygon points="108.4,433.1 119.5,433.5 111.1,432.9" fill="#31c69f" stroke="#31c69f" stroke-width="0.4"/><polygon points="108.4,433.1 111.1,432.9 100.0,427.4" fill="#31c69f" stroke="#31c69f" stroke-width="0.4"/><path d="M108.4 433.1L119.5 433.5 M119.5 433.5L111.1 432.9 M111.1 432.9L100.0 427.4 M100.0 427.4L108.4 433.1" stroke="#000" stroke-opacity="0.75" stroke-width="0.5" fill="none" stroke-linecap="round"/>
<polygon points="177.9,457.9 169.6,420.8 167.0,460.3" fill="#4747eb" stroke="#4747eb" stroke-width="0.4"/><polygon points="167.0,460.3 169.6,420.8 158.5,429.6 166.8,460.3" fill="#4747eb" stroke="#4747eb" stroke-width="0.4"/><path d="M177.9 457.9L169.6 420.8 M169.6 420.8L158.5 429.6 M158.5 429.6L166.8 460.3" stroke="#000" stroke-opacity="0.75" stroke-width="0.5" fill="none" stroke-linecap="round"/>
<polygon points="158.5,429.6 169.6,420.8 161.2,416.5" fill="#4acb84" stroke="#4acb84" stroke-width="0.4"/><polygon points="158.5,429.6 161.2,416.5 150.1,420.5" fill="#4acb84" stroke="#4acb84" stroke-width="0.4"/><path d="M158.5 429.6L169.6 420.8 M169.6 420.8L161.2 416.5 M161.2 416.5L150.1 420.5 M150.1 420.5L158.5 429.6" stroke="#000" stroke-opacity="0.75" stroke-width="0.5" fill="none" stroke-linecap="round"/>
<polygon points="166.8,460.3 158.5,429.6 156.1,462.5" fill="#463cde" stroke="#463cde" stroke-width="0.4"/><polygon points="156.1,462.5 158.5,429.6 147.4,439.5 155.1,462.6" fill="#463cde" stroke="#463cde" stroke-width="0.4"/><path d="M166.8 460.3L158.5 429.6 M158.5 429.6L147.4 439.5 M147.4 439.5L155.1 462.6" stroke="#000" stroke-opacity="0.75" stroke-width="0.5" fill="none" stroke-linecap="round"/>
<polygon points="139.0,425.8 150.1,420.5 141.7,407.1" fill="#72cd64" stroke="#72cd64" stroke-width="0.4"/><polygon points="139.0,425.8 141.7,407.1 130.6,416.7" fill="#72cd64" stroke="#72cd64" stroke-width="0.4"/><path d="M139.0 425.8L150.1 420.5 M150.1 420.5L141.7 407.1 M141.7 407.1L130.6 416.7 M130.6 416.7L139.0 425.8" stroke="#000" stroke-opacity="0.75" stroke-width="0.5" fill="none" stroke-linecap="round"/>
<polygon points="109.1,462.8 116.8,436.5 108.4,433.1 106.5,461.8" fill="#3e26a8" stroke="#3e26a8" stroke-width="0.4"/><polygon points="106.5,461.8 108.4,433.1 99.9,459.6" fill="#3e26a8" stroke="#3e26a8" stroke-width="0.4"/><path d="M109.1 462.8L116.8 436.5 M116.8 436.5L108.4 433.1 M108.4 433.1L99.9 459.6" stroke="#000" stroke-opacity="0.75" stroke-width="0.5" fill="none" stroke-linecap="round"/>
<polygon points="127.9,425.5 139.0,425.8 119.5,433.5" fill="#9dc943" stroke="#9dc943" stroke-width="0.4"/><polygon points="139.0,425.8 130.6,416.7 119.5,433.5" fill="#9dc943" stroke="#9dc943" stroke-width="0.4"/><path d="M127.9 425.5L139.0 425.8 M139.0 425.8L130.6 416.7 M130.6 416.7L119.5 433.5 M119.5 433.5L127.9 425.5" stroke="#000" stroke-opacity="0.75" stroke-width="0.5" fill="none" stroke-linecap="round"/>
<polygon points="147.4,439.5 158.5,429.6 150.1,420.5" fill="#0bbdbd" stroke="#0bbdbd" stroke-width="0.4"/><polygon points="147.4,439.5 150.1,420.5 139.0,425.8" fill="#0bbdbd" stroke="#0bbdbd" stroke-width="0.4"/><path d="M147.4 439.5L158.5 429.6 M158.5 429.6L150.1 420.5 M150.1 420.5L139.0 425.8 M139.0 425.8L147.4 439.5" stroke="#000" stroke-opacity="0.75" stroke-width="0.5" fill="none" stroke-linecap="round"/>
<polygon points="116.8,436.5 127.9,425.5 108.4,433.1" fill="#31c69f" stroke="#31c69f" stroke-width="0.4"/><polygon points="127.9,425.5 119.5,433.5 108.4,433.1" fill="#31c69f" stroke="#31c69f" stroke-width="0.4"/><path d="M116.8 436.5L127.9 425.5 M127.9 425.5L119.5 433.5 M119.5 433.5L108.4 433.1 M108.4 433.1L116.8 436.5" stroke="#000" stroke-opacity="0.75" stroke-width="0.5" fill="none" stroke-linecap="round"/>
<polygon points="154.6,462.9 136.3,432.6 144.7,465.4" fill="#4747eb" stroke="#4747eb" stroke-width="0.4"/><polygon points="155.1,462.6 147.4,439.5 136.3,432.6 154.6,462.9" fill="#4747eb" stroke="#4747eb" stroke-width="0.4"/><path d="M155.1 462.6L147.4 439.5 M147.4 439.5L136.3 432.6 M136.3 432.6L144.7 465.4" stroke="#000" stroke-opacity="0.75" stroke-width="0.5" fill="none" stroke-linecap="round"/>
<polygon points="117.3,466.3 125.2,442.8 116.8,436.5 114.8,465.5" fill="#402ab4" stroke="#402ab4" stroke-width="0.4"/><polygon points="114.8,465.5 116.8,436.5 109.1,462.8" fill="#402ab4" stroke="#402ab4" stroke-width="0.4"/><path d="M117.3 466.3L125.2 442.8 M125.2 442.8L116.8 436.5 M116.8 436.5L109.1 462.8" stroke="#000" stroke-opacity="0.75" stroke-width="0.5" fill="none" stroke-linecap="round"/>
<polygon points="136.3,432.6 147.4,439.5 127.9,425.5" fill="#64cd6f" stroke="#64cd6f" stroke-width="0.4"/><polygon points="147.4,439.5 139.0,425.8 127.9,425.5" fill="#64cd6f" stroke="#64cd6f" stroke-width="0.4"/><path d="M136.3 432.6L147.4 439.5 M147.4 439.5L139.0 425.8 M139.0 425.8L127.9 425.5 M127.9 425.5L136.3 432.6" stroke="#000" stroke-opacity="0.75" stroke-width="0.5" fill="none" stroke-linecap="round"/>
<polygon points="132.7,468.1 133.7,467.3 125.2,442.8 123.1,469.2" fill="#4332cb" stroke="#4332cb" stroke-width="0.4"/><polygon points="123.1,469.2 125.2,442.8 117.3,466.3" fill="#4332cb" stroke="#4332cb" stroke-width="0.4"/><path d="M132.7 468.1L133.7 467.3 M133.7 467.3L125.2 442.8 M125.2 442.8L117.3 466.3" stroke="#000" stroke-opacity="0.75" stroke-width="0.5" fill="none" stroke-linecap="round"/>
<polygon points="133.7,467.3 141.1,466.2 144.7,465.4 136.3,432.6" fill="#484df0" stroke="#484df0" stroke-width="0.4"/><polygon points="133.7,467.3 136.3,432.6 125.2,442.8" fill="#484df0" stroke="#484df0" stroke-width="0.4"/><path d="M133.7 467.3L141.1 466.2 M144.7 465.4L136.3 432.6 M136.3 432.6L125.2 442.8 M125.2 442.8L133.7 467.3" stroke="#000" stroke-opacity="0.75" stroke-width="0.5" fill="none" stroke-linecap="round"/>
<polygon points="125.2,442.8 136.3,432.6 127.9,425.5" fill="#19bfb6" stroke="#19bfb6" stroke-width="0.4"/><polygon points="125.2,442.8 127.9,425.5 116.8,436.5" fill="#19bfb6" stroke="#19bfb6" stroke-width="0.4"/><path d="M125.2 442.8L136.3 432.6 M136.3 432.6L127.9 425.5 M127.9 425.5L116.8 436.5 M116.8 436.5L125.2 442.8" stroke="#000" stroke-opacity="0.75" stroke-width="0.5" fill="none" stroke-linecap="round"/>
<path d="M35.6 460.6L35.6 389.9 M35.6 460.6L119.9 494.6 M119.9 494.6L230.9 469.6 M35.6 460.6L37.8 460.1 M35.6 432.0L37.8 431.5 M35.6 403.4L37.8 402.9 M111.5 491.2L113.5 490.7 M103.0 487.8L105.0 487.3 M94.6 484.4L96.6 483.9 M86.2 481.0L88.2 480.5 M77.8 477.6L79.8 477.1 M69.3 474.2L71.3 473.7 M60.9 470.8L62.9 470.3 M52.5 467.4L54.5 466.9 M44.0 464.0L46.0 463.5 M119.9 494.6L118.3 493.9 M142.1 489.6L140.5 488.9 M164.3 484.6L162.7 483.9 M186.5 479.6L184.9 478.9 M208.7 474.6L207.1 473.9 M230.9 469.6L229.3 468.9" stroke="#4a4a4a" stroke-width="0.7" fill="none"/>
<g font-family="Liberation Sans, Arial, sans-serif" font-weight="bold" font-size="9.6" fill="#262626"><text x="30.6" y="463.1" text-anchor="end">0.6</text><text x="30.6" y="434.5" text-anchor="end">0.7</text><text x="30.6" y="405.9" text-anchor="end">0.8</text><text x="105.3" y="501.7" text-anchor="end">1</text><text x="97.0" y="498.1" text-anchor="end">3</text><text x="88.7" y="494.6" text-anchor="end">5</text><text x="80.4" y="491.1" text-anchor="end">7</text><text x="72.1" y="487.6" text-anchor="end">9</text><text x="63.9" y="484.0" text-anchor="end">11</text><text x="55.6" y="480.5" text-anchor="end">13</text><text x="47.3" y="477.0" text-anchor="end">15</text><text x="39.0" y="473.5" text-anchor="end">17</text><text x="123.7" y="505.8" text-anchor="start">0</text><text x="145.9" y="500.8" text-anchor="start">0.2</text><text x="168.1" y="495.8" text-anchor="start">0.4</text><text x="190.3" y="490.8" text-anchor="start">0.6</text><text x="212.5" y="485.8" text-anchor="start">0.8</text><text x="234.7" y="480.8" text-anchor="start">1</text><text x="58.1" y="508.1" text-anchor="middle">degree</text><text x="187.9" y="509.3" text-anchor="middle">sigma</text><text x="0.0" y="0.0" text-anchor="middle" transform="translate(14.2 426.4) rotate(-90)">fscore</text></g>
<text x="125.8" y="531.3" text-anchor="middle" font-family="Liberation Serif, serif" font-size="13.5" fill="#111">(<tspan font-weight="bold">e</tspan>)</text></g>
<g><path d="M431.7 490.8L349.8 458.5 M349.8 458.5L349.8 390.0 M452.7 486.0L370.8 453.7 M370.8 453.7L370.8 385.2 M473.7 481.2L391.8 448.9 M391.8 448.9L391.8 380.4 M494.8 476.3L412.9 444.0 M412.9 444.0L412.9 375.5 M515.8 471.5L433.9 439.2 M433.9 439.2L433.9 370.7 M536.8 466.7L454.9 434.4 M454.9 434.4L454.9 365.9 M423.5 487.6L528.6 463.5 M528.6 463.5L528.6 395.0 M415.3 484.3L520.4 460.2 M520.4 460.2L520.4 391.7 M407.1 481.1L512.2 457.0 M512.2 457.0L512.2 388.5 M398.9 477.9L504.0 453.8 M504.0 453.8L504.0 385.3 M390.8 474.6L495.8 450.5 M495.8 450.5L495.8 382.0 M382.6 471.4L487.7 447.3 M487.7 447.3L487.7 378.8 M374.4 468.2L479.5 444.1 M479.5 444.1L479.5 375.6 M366.2 465.0L471.3 440.9 M471.3 440.9L471.3 372.4 M358.0 461.7L463.1 437.6 M463.1 437.6L463.1 369.1 M349.8 458.5L454.9 434.4 M454.9 434.4L536.8 466.7 M349.8 435.7L454.9 411.6 M454.9 411.6L536.8 443.9 M349.8 412.8L454.9 388.7 M454.9 388.7L536.8 421.0 M349.8 390.0L454.9 365.9 M454.9 365.9L536.8 398.2 M349.8 390.0L454.9 365.9 M454.9 365.9L536.8 398.2 M536.8 466.7L536.8 398.2 M454.9 434.4L454.9 365.9 M349.8 458.5L454.9 434.4 M454.9 434.4L536.8 466.7" stroke="#e8e8e8" stroke-width="0.7" fill="none"/>
<polygon points="433.3,473.9 505.9,457.2 433.4,428.6 360.8,445.3" fill="#3c22b6"/><path d="M433.3 473.9L360.8 445.3 M441.3 472.0L368.9 443.5 M449.4 470.2L376.9 441.6 M457.5 468.3L385.0 439.8 M465.6 466.5L393.1 437.9 M473.6 464.6L401.1 436.0 M481.7 462.8L409.2 434.2 M489.8 460.9L417.3 432.3 M497.8 459.1L425.4 430.5 M505.9 457.2L433.4 428.6 M433.3 473.9L505.9 457.2 M425.2 470.7L497.9 454.1 M417.2 467.5L489.8 450.9 M409.1 464.4L481.7 447.7 M401.1 461.2L473.7 444.5 M393.0 458.0L465.6 441.4 M385.0 454.8L457.6 438.2 M376.9 451.7L449.5 435.0 M368.9 448.5L441.5 431.8 M360.8 445.3L433.4 428.6" stroke="#000" stroke-opacity="0.45" stroke-width="0.5" fill="none"/>
<polygon points="469.0,390.2 479.5,384.0 460.8,391.0" fill="#fccf30" stroke="#fccf30" stroke-width="0.4"/><polygon points="479.5,384.0 471.3,385.9 460.8,391.0" fill="#fccf30" stroke="#fccf30" stroke-width="0.4"/><path d="M469.0 390.2L479.5 384.0 M479.5 384.0L471.3 385.9 M471.3 385.9L460.8 391.0 M460.8 391.0L469.0 390.2" stroke="#000" stroke-opacity="0.75" stroke-width="0.5" fill="none" stroke-linecap="round"/>
<polygon points="458.4,397.6 469.0,390.2 450.3,384.1" fill="#e6bb2d" stroke="#e6bb2d" stroke-width="0.4"/><polygon points="469.0,390.2 460.8,391.0 450.3,384.1" fill="#e6bb2d" stroke="#e6bb2d" stroke-width="0.4"/><path d="M458.4 397.6L469.0 390.2 M469.0 390.2L460.8 391.0 M460.8 391.0L450.3 384.1 M450.3 384.1L458.4 397.6" stroke="#000" stroke-opacity="0.75" stroke-width="0.5" fill="none" stroke-linecap="round"/>
<polygon points="477.1,393.6 487.7,392.1 479.5,384.0" fill="#fccf30" stroke="#fccf30" stroke-width="0.4"/><polygon points="477.1,393.6 479.5,384.0 469.0,390.2" fill="#fccf30" stroke="#fccf30" stroke-width="0.4"/><path d="M477.1 393.6L487.7 392.1 M487.7 392.1L479.5 384.0 M479.5 384.0L469.0 390.2 M469.0 390.2L477.1 393.6" stroke="#000" stroke-opacity="0.75" stroke-width="0.5" fill="none" stroke-linecap="round"/>
<polygon points="447.9,399.8 458.4,397.6 450.3,384.1" fill="#e6bb2d" stroke="#e6bb2d" stroke-width="0.4"/><polygon points="447.9,399.8 450.3,384.1 439.8,399.0" fill="#e6bb2d" stroke="#e6bb2d" stroke-width="0.4"/><path d="M447.9 399.8L458.4 397.6 M458.4 397.6L450.3 384.1 M450.3 384.1L439.8 399.0 M439.8 399.0L447.9 399.8" stroke="#000" stroke-opacity="0.75" stroke-width="0.5" fill="none" stroke-linecap="round"/>
<polygon points="466.6,397.0 477.1,393.6 458.4,397.6" fill="#fec934" stroke="#fec934" stroke-width="0.4"/><polygon points="477.1,393.6 469.0,390.2 458.4,397.6" fill="#fec934" stroke="#fec934" stroke-width="0.4"/><path d="M466.6 397.0L477.1 393.6 M477.1 393.6L469.0 390.2 M469.0 390.2L458.4 397.6 M458.4 397.6L466.6 397.0" stroke="#000" stroke-opacity="0.75" stroke-width="0.5" fill="none" stroke-linecap="round"/>
<polygon points="437.4,401.2 447.9,399.8 439.8,399.0" fill="#f0ba36" stroke="#f0ba36" stroke-width="0.4"/><polygon points="437.4,401.2 439.8,399.0 429.2,398.7" fill="#f0ba36" stroke="#f0ba36" stroke-width="0.4"/><path d="M437.4 401.2L447.9 399.8 M447.9 399.8L439.8 399.0 M439.8 399.0L429.2 398.7 M429.2 398.7L437.4 401.2" stroke="#000" stroke-opacity="0.75" stroke-width="0.5" fill="none" stroke-linecap="round"/>
<polygon points="485.3,395.6 495.8,390.6 477.1,393.6" fill="#fad62d" stroke="#fad62d" stroke-width="0.4"/><polygon points="495.8,390.6 487.7,392.1 477.1,393.6" fill="#fad62d" stroke="#fad62d" stroke-width="0.4"/><path d="M485.3 395.6L495.8 390.6 M495.8 390.6L487.7 392.1 M487.7 392.1L477.1 393.6 M477.1 393.6L485.3 395.6" stroke="#000" stroke-opacity="0.75" stroke-width="0.5" fill="none" stroke-linecap="round"/>
<polygon points="456.1,403.3 466.6,397.0 447.9,399.8" fill="#e6bb2d" stroke="#e6bb2d" stroke-width="0.4"/><polygon points="466.6,397.0 458.4,397.6 447.9,399.8" fill="#e6bb2d" stroke="#e6bb2d" stroke-width="0.4"/><path d="M456.1 403.3L466.6 397.0 M466.6 397.0L458.4 397.6 M458.4 397.6L447.9 399.8 M447.9 399.8L456.1 403.3" stroke="#000" stroke-opacity="0.75" stroke-width="0.5" fill="none" stroke-linecap="round"/>
<polygon points="426.9,404.5 437.4,401.2 418.7,403.9" fill="#e6bb2d" stroke="#e6bb2d" stroke-width="0.4"/><polygon points="437.4,401.2 429.2,398.7 418.7,403.9" fill="#e6bb2d" stroke="#e6bb2d" stroke-width="0.4"/><path d="M426.9 404.5L437.4 401.2 M437.4 401.2L429.2 398.7 M429.2 398.7L418.7 403.9 M418.7 403.9L426.9 404.5" stroke="#000" stroke-opacity="0.75" stroke-width="0.5" fill="none" stroke-linecap="round"/>
<polygon points="474.8,401.9 485.3,395.6 477.1,393.6" fill="#f8ba3d" stroke="#f8ba3d" stroke-width="0.4"/><polygon points="474.8,401.9 477.1,393.6 466.6,397.0" fill="#f8ba3d" stroke="#f8ba3d" stroke-width="0.4"/><path d="M474.8 401.9L485.3 395.6 M485.3 395.6L477.1 393.6 M477.1 393.6L466.6 397.0 M466.6 397.0L474.8 401.9" stroke="#000" stroke-opacity="0.75" stroke-width="0.5" fill="none" stroke-linecap="round"/>
<polygon points="445.6,403.4 456.1,403.3 447.9,399.8" fill="#febe3c" stroke="#febe3c" stroke-width="0.4"/><polygon points="445.6,403.4 447.9,399.8 437.4,401.2" fill="#febe3c" stroke="#febe3c" stroke-width="0.4"/><path d="M445.6 403.4L456.1 403.3 M456.1 403.3L447.9 399.8 M447.9 399.8L437.4 401.2 M437.4 401.2L445.6 403.4" stroke="#000" stroke-opacity="0.75" stroke-width="0.5" fill="none" stroke-linecap="round"/>
<polygon points="493.5,399.7 504.0,401.9 485.3,395.6" fill="#fccf30" stroke="#fccf30" stroke-width="0.4"/><polygon points="504.0,401.9 495.8,390.6 485.3,395.6" fill="#fccf30" stroke="#fccf30" stroke-width="0.4"/><path d="M493.5 399.7L504.0 401.9 M504.0 401.9L495.8 390.6 M495.8 390.6L485.3 395.6 M485.3 395.6L493.5 399.7" stroke="#000" stroke-opacity="0.75" stroke-width="0.5" fill="none" stroke-linecap="round"/>
<polygon points="464.3,401.2 474.8,401.9 456.1,403.3" fill="#fccf30" stroke="#fccf30" stroke-width="0.4"/><polygon points="474.8,401.9 466.6,397.0 456.1,403.3" fill="#fccf30" stroke="#fccf30" stroke-width="0.4"/><path d="M464.3 401.2L474.8 401.9 M474.8 401.9L466.6 397.0 M466.6 397.0L456.1 403.3 M456.1 403.3L464.3 401.2" stroke="#000" stroke-opacity="0.75" stroke-width="0.5" fill="none" stroke-linecap="round"/>
<polygon points="416.4,402.6 426.9,404.5 418.7,403.9" fill="#fccf30" stroke="#fccf30" stroke-width="0.4"/><polygon points="416.4,402.6 418.7,403.9 408.2,396.9" fill="#fccf30" stroke="#fccf30" stroke-width="0.4"/><path d="M416.4 402.6L426.9 404.5 M426.9 404.5L418.7 403.9 M418.7 403.9L408.2 396.9 M408.2 396.9L416.4 402.6" stroke="#000" stroke-opacity="0.75" stroke-width="0.5" fill="none" stroke-linecap="round"/>
<polygon points="501.7,405.6 512.2,409.1 493.5,399.7" fill="#febe3c" stroke="#febe3c" stroke-width="0.4"/><polygon points="512.2,409.1 504.0,401.9 493.5,399.7" fill="#febe3c" stroke="#febe3c" stroke-width="0.4"/><path d="M501.7 405.6L512.2 409.1 M512.2 409.1L504.0 401.9 M504.0 401.9L493.5 399.7 M493.5 399.7L501.7 405.6" stroke="#000" stroke-opacity="0.75" stroke-width="0.5" fill="none" stroke-linecap="round"/>
<polygon points="483.0,400.9 493.5,399.7 474.8,401.9" fill="#f7dc2a" stroke="#f7dc2a" stroke-width="0.4"/><polygon points="493.5,399.7 485.3,395.6 474.8,401.9" fill="#f7dc2a" stroke="#f7dc2a" stroke-width="0.4"/><path d="M483.0 400.9L493.5 399.7 M493.5 399.7L485.3 395.6 M485.3 395.6L474.8 401.9 M474.8 401.9L483.0 400.9" stroke="#000" stroke-opacity="0.75" stroke-width="0.5" fill="none" stroke-linecap="round"/>
<polygon points="435.1,401.8 445.6,403.4 437.4,401.2" fill="#f7dc2a" stroke="#f7dc2a" stroke-width="0.4"/><polygon points="435.1,401.8 437.4,401.2 426.9,404.5" fill="#f7dc2a" stroke="#f7dc2a" stroke-width="0.4"/><path d="M435.1 401.8L445.6 403.4 M445.6 403.4L437.4 401.2 M437.4 401.2L426.9 404.5 M426.9 404.5L435.1 401.8" stroke="#000" stroke-opacity="0.75" stroke-width="0.5" fill="none" stroke-linecap="round"/>
<polygon points="453.8,406.6 464.3,401.2 445.6,403.4" fill="#febe3c" stroke="#febe3c" stroke-width="0.4"/><polygon points="464.3,401.2 456.1,403.3 445.6,403.4" fill="#febe3c" stroke="#febe3c" stroke-width="0.4"/><path d="M453.8 406.6L464.3 401.2 M464.3 401.2L456.1 403.3 M456.1 403.3L445.6 403.4 M445.6 403.4L453.8 406.6" stroke="#000" stroke-opacity="0.75" stroke-width="0.5" fill="none" stroke-linecap="round"/>
<polygon points="472.5,403.4 483.0,400.9 474.8,401.9" fill="#f7dc2a" stroke="#f7dc2a" stroke-width="0.4"/><polygon points="472.5,403.4 474.8,401.9 464.3,401.2" fill="#f7dc2a" stroke="#f7dc2a" stroke-width="0.4"/><path d="M472.5 403.4L483.0 400.9 M483.0 400.9L474.8 401.9 M474.8 401.9L464.3 401.2 M464.3 401.2L472.5 403.4" stroke="#000" stroke-opacity="0.75" stroke-width="0.5" fill="none" stroke-linecap="round"/>
<polygon points="509.9,407.4 520.4,411.0 512.2,409.1" fill="#fec934" stroke="#fec934" stroke-width="0.4"/><polygon points="509.9,407.4 512.2,409.1 501.7,405.6" fill="#fec934" stroke="#fec934" stroke-width="0.4"/><path d="M509.9 407.4L520.4 411.0 M520.4 411.0L512.2 409.1 M512.2 409.1L501.7 405.6 M501.7 405.6L509.9 407.4" stroke="#000" stroke-opacity="0.75" stroke-width="0.5" fill="none" stroke-linecap="round"/>
<polygon points="405.9,403.5 416.4,402.6 397.7,405.0" fill="#fad62d" stroke="#fad62d" stroke-width="0.4"/><polygon points="416.4,402.6 408.2,396.9 397.7,405.0" fill="#fad62d" stroke="#fad62d" stroke-width="0.4"/><path d="M405.9 403.5L416.4 402.6 M416.4 402.6L408.2 396.9 M408.2 396.9L397.7 405.0 M397.7 405.0L405.9 403.5" stroke="#000" stroke-opacity="0.75" stroke-width="0.5" fill="none" stroke-linecap="round"/>
<polygon points="491.2,407.8 501.7,405.6 483.0,400.9" fill="#febe3c" stroke="#febe3c" stroke-width="0.4"/><polygon points="501.7,405.6 493.5,399.7 483.0,400.9" fill="#febe3c" stroke="#febe3c" stroke-width="0.4"/><path d="M491.2 407.8L501.7 405.6 M501.7 405.6L493.5 399.7 M493.5 399.7L483.0 400.9 M483.0 400.9L491.2 407.8" stroke="#000" stroke-opacity="0.75" stroke-width="0.5" fill="none" stroke-linecap="round"/>
<polygon points="424.6,407.8 435.1,401.8 426.9,404.5" fill="#febe3c" stroke="#febe3c" stroke-width="0.4"/><polygon points="424.6,407.8 426.9,404.5 416.4,402.6" fill="#febe3c" stroke="#febe3c" stroke-width="0.4"/><path d="M424.6 407.8L435.1 401.8 M435.1 401.8L426.9 404.5 M426.9 404.5L416.4 402.6 M416.4 402.6L424.6 407.8" stroke="#000" stroke-opacity="0.75" stroke-width="0.5" fill="none" stroke-linecap="round"/>
<polygon points="443.3,406.5 453.8,406.6 435.1,401.8" fill="#fccf30" stroke="#fccf30" stroke-width="0.4"/><polygon points="453.8,406.6 445.6,403.4 435.1,401.8" fill="#fccf30" stroke="#fccf30" stroke-width="0.4"/><path d="M443.3 406.5L453.8 406.6 M453.8 406.6L445.6 403.4 M445.6 403.4L435.1 401.8 M435.1 401.8L443.3 406.5" stroke="#000" stroke-opacity="0.75" stroke-width="0.5" fill="none" stroke-linecap="round"/>
<polygon points="462.0,410.7 472.5,403.4 453.8,406.6" fill="#f8ba3d" stroke="#f8ba3d" stroke-width="0.4"/><polygon points="472.5,403.4 464.3,401.2 453.8,406.6" fill="#f8ba3d" stroke="#f8ba3d" stroke-width="0.4"/><path d="M462.0 410.7L472.5 403.4 M472.5 403.4L464.3 401.2 M464.3 401.2L453.8 406.6 M453.8 406.6L462.0 410.7" stroke="#000" stroke-opacity="0.75" stroke-width="0.5" fill="none" stroke-linecap="round"/>
<polygon points="395.4,410.3 405.9,403.5 387.2,402.3" fill="#f8ba3d" stroke="#f8ba3d" stroke-width="0.4"/><polygon points="405.9,403.5 397.7,405.0 387.2,402.3" fill="#f8ba3d" stroke="#f8ba3d" stroke-width="0.4"/><path d="M395.4 410.3L405.9 403.5 M405.9 403.5L397.7 405.0 M397.7 405.0L387.2 402.3 M387.2 402.3L395.4 410.3" stroke="#000" stroke-opacity="0.75" stroke-width="0.5" fill="none" stroke-linecap="round"/>
<polygon points="480.7,413.2 491.2,407.8 483.0,400.9" fill="#dcbd29" stroke="#dcbd29" stroke-width="0.4"/><polygon points="480.7,413.2 483.0,400.9 472.5,403.4" fill="#dcbd29" stroke="#dcbd29" stroke-width="0.4"/><path d="M480.7 413.2L491.2 407.8 M491.2 407.8L483.0 400.9 M483.0 400.9L472.5 403.4 M472.5 403.4L480.7 413.2" stroke="#000" stroke-opacity="0.75" stroke-width="0.5" fill="none" stroke-linecap="round"/>
<polygon points="499.4,417.7 509.9,407.4 501.7,405.6" fill="#abc739" stroke="#abc739" stroke-width="0.4"/><polygon points="499.4,417.7 501.7,405.6 491.2,407.8" fill="#abc739" stroke="#abc739" stroke-width="0.4"/><path d="M499.4 417.7L509.9 407.4 M509.9 407.4L501.7 405.6 M501.7 405.6L491.2 407.8 M491.2 407.8L499.4 417.7" stroke="#000" stroke-opacity="0.75" stroke-width="0.5" fill="none" stroke-linecap="round"/>
<polygon points="414.1,407.1 424.6,407.8 405.9,403.5" fill="#fad62d" stroke="#fad62d" stroke-width="0.4"/><polygon points="424.6,407.8 416.4,402.6 405.9,403.5" fill="#fad62d" stroke="#fad62d" stroke-width="0.4"/><path d="M414.1 407.1L424.6 407.8 M424.6 407.8L416.4 402.6 M416.4 402.6L405.9 403.5 M405.9 403.5L414.1 407.1" stroke="#000" stroke-opacity="0.75" stroke-width="0.5" fill="none" stroke-linecap="round"/>
<polygon points="518.1,413.9 528.6,408.7 520.4,411.0" fill="#f0ba36" stroke="#f0ba36" stroke-width="0.4"/><polygon points="518.1,413.9 520.4,411.0 509.9,407.4" fill="#f0ba36" stroke="#f0ba36" stroke-width="0.4"/><path d="M518.1 413.9L528.6 408.7 M528.6 408.7L520.4 411.0 M520.4 411.0L509.9 407.4 M509.9 407.4L518.1 413.9" stroke="#000" stroke-opacity="0.75" stroke-width="0.5" fill="none" stroke-linecap="round"/>
<polygon points="432.8,413.7 443.3,406.5 435.1,401.8" fill="#e6bb2d" stroke="#e6bb2d" stroke-width="0.4"/><polygon points="432.8,413.7 435.1,401.8 424.6,407.8" fill="#e6bb2d" stroke="#e6bb2d" stroke-width="0.4"/><path d="M432.8 413.7L443.3 406.5 M443.3 406.5L435.1 401.8 M435.1 401.8L424.6 407.8 M424.6 407.8L432.8 413.7" stroke="#000" stroke-opacity="0.75" stroke-width="0.5" fill="none" stroke-linecap="round"/>
<polygon points="451.5,411.9 462.0,410.7 443.3,406.5" fill="#febe3c" stroke="#febe3c" stroke-width="0.4"/><polygon points="462.0,410.7 453.8,406.6 443.3,406.5" fill="#febe3c" stroke="#febe3c" stroke-width="0.4"/><path d="M451.5 411.9L462.0 410.7 M462.0 410.7L453.8 406.6 M453.8 406.6L443.3 406.5 M443.3 406.5L451.5 411.9" stroke="#000" stroke-opacity="0.75" stroke-width="0.5" fill="none" stroke-linecap="round"/>
<polygon points="384.9,411.0 395.4,410.3 387.2,402.3" fill="#fec338" stroke="#fec338" stroke-width="0.4"/><polygon points="384.9,411.0 387.2,402.3 376.7,412.3" fill="#fec338" stroke="#fec338" stroke-width="0.4"/><path d="M384.9 411.0L395.4 410.3 M395.4 410.3L387.2 402.3 M387.2 402.3L376.7 412.3 M376.7 412.3L384.9 411.0" stroke="#000" stroke-opacity="0.75" stroke-width="0.5" fill="none" stroke-linecap="round"/>
<polygon points="470.2,414.1 480.7,413.2 472.5,403.4" fill="#f0ba36" stroke="#f0ba36" stroke-width="0.4"/><polygon points="470.2,414.1 472.5,403.4 462.0,410.7" fill="#f0ba36" stroke="#f0ba36" stroke-width="0.4"/><path d="M470.2 414.1L480.7 413.2 M480.7 413.2L472.5 403.4 M472.5 403.4L462.0 410.7 M462.0 410.7L470.2 414.1" stroke="#000" stroke-opacity="0.75" stroke-width="0.5" fill="none" stroke-linecap="round"/>
<polygon points="488.9,409.9 499.4,417.7 480.7,413.2" fill="#f7dc2a" stroke="#f7dc2a" stroke-width="0.4"/><polygon points="499.4,417.7 491.2,407.8 480.7,413.2" fill="#f7dc2a" stroke="#f7dc2a" stroke-width="0.4"/><path d="M488.9 409.9L499.4 417.7 M499.4 417.7L491.2 407.8 M491.2 407.8L480.7 413.2 M480.7 413.2L488.9 409.9" stroke="#000" stroke-opacity="0.75" stroke-width="0.5" fill="none" stroke-linecap="round"/>
<polygon points="403.6,414.3 414.1,407.1 405.9,403.5" fill="#f0ba36" stroke="#f0ba36" stroke-width="0.4"/><polygon points="403.6,414.3 405.9,403.5 395.4,410.3" fill="#f0ba36" stroke="#f0ba36" stroke-width="0.4"/><path d="M403.6 414.3L414.1 407.1 M414.1 407.1L405.9 403.5 M405.9 403.5L395.4 410.3 M395.4 410.3L403.6 414.3" stroke="#000" stroke-opacity="0.75" stroke-width="0.5" fill="none" stroke-linecap="round"/>
<polygon points="507.6,415.0 518.1,413.9 499.4,417.7" fill="#f8ba3d" stroke="#f8ba3d" stroke-width="0.4"/><polygon points="518.1,413.9 509.9,407.4 499.4,417.7" fill="#f8ba3d" stroke="#f8ba3d" stroke-width="0.4"/><path d="M507.6 415.0L518.1 413.9 M518.1 413.9L509.9 407.4 M509.9 407.4L499.4 417.7 M499.4 417.7L507.6 415.0" stroke="#000" stroke-opacity="0.75" stroke-width="0.5" fill="none" stroke-linecap="round"/>
<polygon points="422.3,414.7 432.8,413.7 414.1,407.1" fill="#f8ba3d" stroke="#f8ba3d" stroke-width="0.4"/><polygon points="432.8,413.7 424.6,407.8 414.1,407.1" fill="#f8ba3d" stroke="#f8ba3d" stroke-width="0.4"/><path d="M422.3 414.7L432.8 413.7 M432.8 413.7L424.6 407.8 M424.6 407.8L414.1 407.1 M414.1 407.1L422.3 414.7" stroke="#000" stroke-opacity="0.75" stroke-width="0.5" fill="none" stroke-linecap="round"/>
<polygon points="441.0,424.3 451.5,411.9 443.3,406.5" fill="#64cd6f" stroke="#64cd6f" stroke-width="0.4"/><polygon points="441.0,424.3 443.3,406.5 432.8,413.7" fill="#64cd6f" stroke="#64cd6f" stroke-width="0.4"/><path d="M441.0 424.3L451.5 411.9 M451.5 411.9L443.3 406.5 M443.3 406.5L432.8 413.7 M432.8 413.7L441.0 424.3" stroke="#000" stroke-opacity="0.75" stroke-width="0.5" fill="none" stroke-linecap="round"/>
<polygon points="459.7,417.0 470.2,414.1 451.5,411.9" fill="#f0ba36" stroke="#f0ba36" stroke-width="0.4"/><polygon points="470.2,414.1 462.0,410.7 451.5,411.9" fill="#f0ba36" stroke="#f0ba36" stroke-width="0.4"/><path d="M459.7 417.0L470.2 414.1 M470.2 414.1L462.0 410.7 M462.0 410.7L451.5 411.9 M451.5 411.9L459.7 417.0" stroke="#000" stroke-opacity="0.75" stroke-width="0.5" fill="none" stroke-linecap="round"/>
<polygon points="393.1,416.5 403.6,414.3 384.9,411.0" fill="#f0ba36" stroke="#f0ba36" stroke-width="0.4"/><polygon points="403.6,414.3 395.4,410.3 384.9,411.0" fill="#f0ba36" stroke="#f0ba36" stroke-width="0.4"/><path d="M393.1 416.5L403.6 414.3 M403.6 414.3L395.4 410.3 M395.4 410.3L384.9 411.0 M384.9 411.0L393.1 416.5" stroke="#000" stroke-opacity="0.75" stroke-width="0.5" fill="none" stroke-linecap="round"/>
<polygon points="478.4,418.7 488.9,409.9 470.2,414.1" fill="#e6bb2d" stroke="#e6bb2d" stroke-width="0.4"/><polygon points="488.9,409.9 480.7,413.2 470.2,414.1" fill="#e6bb2d" stroke="#e6bb2d" stroke-width="0.4"/><path d="M478.4 418.7L488.9 409.9 M488.9 409.9L480.7 413.2 M480.7 413.2L470.2 414.1 M470.2 414.1L478.4 418.7" stroke="#000" stroke-opacity="0.75" stroke-width="0.5" fill="none" stroke-linecap="round"/>
<polygon points="430.5,416.4 441.0,424.3 422.3,414.7" fill="#febe3c" stroke="#febe3c" stroke-width="0.4"/><polygon points="441.0,424.3 432.8,413.7 422.3,414.7" fill="#febe3c" stroke="#febe3c" stroke-width="0.4"/><path d="M430.5 416.4L441.0 424.3 M441.0 424.3L432.8 413.7 M432.8 413.7L422.3 414.7 M422.3 414.7L430.5 416.4" stroke="#000" stroke-opacity="0.75" stroke-width="0.5" fill="none" stroke-linecap="round"/>
<polygon points="411.8,417.4 422.3,414.7 414.1,407.1" fill="#f0ba36" stroke="#f0ba36" stroke-width="0.4"/><polygon points="411.8,417.4 414.1,407.1 403.6,414.3" fill="#f0ba36" stroke="#f0ba36" stroke-width="0.4"/><path d="M411.8 417.4L422.3 414.7 M422.3 414.7L414.1 407.1 M414.1 407.1L403.6 414.3 M403.6 414.3L411.8 417.4" stroke="#000" stroke-opacity="0.75" stroke-width="0.5" fill="none" stroke-linecap="round"/>
<polygon points="497.1,416.0 507.6,415.0 499.4,417.7" fill="#fec338" stroke="#fec338" stroke-width="0.4"/><polygon points="497.1,416.0 499.4,417.7 488.9,409.9" fill="#fec338" stroke="#fec338" stroke-width="0.4"/><path d="M497.1 416.0L507.6 415.0 M507.6 415.0L499.4 417.7 M499.4 417.7L488.9 409.9 M488.9 409.9L497.1 416.0" stroke="#000" stroke-opacity="0.75" stroke-width="0.5" fill="none" stroke-linecap="round"/>
<polygon points="449.2,420.2 459.7,417.0 441.0,424.3" fill="#e6bb2d" stroke="#e6bb2d" stroke-width="0.4"/><polygon points="459.7,417.0 451.5,411.9 441.0,424.3" fill="#e6bb2d" stroke="#e6bb2d" stroke-width="0.4"/><path d="M449.2 420.2L459.7 417.0 M459.7 417.0L451.5 411.9 M451.5 411.9L441.0 424.3 M441.0 424.3L449.2 420.2" stroke="#000" stroke-opacity="0.75" stroke-width="0.5" fill="none" stroke-linecap="round"/>
<polygon points="467.9,416.7 478.4,418.7 470.2,414.1" fill="#fec934" stroke="#fec934" stroke-width="0.4"/><polygon points="467.9,416.7 470.2,414.1 459.7,417.0" fill="#fec934" stroke="#fec934" stroke-width="0.4"/><path d="M467.9 416.7L478.4 418.7 M478.4 418.7L470.2 414.1 M470.2 414.1L459.7 417.0 M459.7 417.0L467.9 416.7" stroke="#000" stroke-opacity="0.75" stroke-width="0.5" fill="none" stroke-linecap="round"/>
<polygon points="401.3,415.2 411.8,417.4 403.6,414.3" fill="#fad62d" stroke="#fad62d" stroke-width="0.4"/><polygon points="401.3,415.2 403.6,414.3 393.1,416.5" fill="#fad62d" stroke="#fad62d" stroke-width="0.4"/><path d="M401.3 415.2L411.8 417.4 M411.8 417.4L403.6 414.3 M403.6 414.3L393.1 416.5 M393.1 416.5L401.3 415.2" stroke="#000" stroke-opacity="0.75" stroke-width="0.5" fill="none" stroke-linecap="round"/>
<polygon points="438.7,425.9 449.2,420.2 441.0,424.3" fill="#b9c431" stroke="#b9c431" stroke-width="0.4"/><polygon points="438.7,425.9 441.0,424.3 430.5,416.4" fill="#b9c431" stroke="#b9c431" stroke-width="0.4"/><path d="M438.7 425.9L449.2 420.2 M449.2 420.2L441.0 424.3 M441.0 424.3L430.5 416.4 M430.5 416.4L438.7 425.9" stroke="#000" stroke-opacity="0.75" stroke-width="0.5" fill="none" stroke-linecap="round"/>
<polygon points="420.0,417.9 430.5,416.4 422.3,414.7" fill="#fec934" stroke="#fec934" stroke-width="0.4"/><polygon points="420.0,417.9 422.3,414.7 411.8,417.4" fill="#fec934" stroke="#fec934" stroke-width="0.4"/><path d="M420.0 417.9L430.5 416.4 M430.5 416.4L422.3 414.7 M422.3 414.7L411.8 417.4 M411.8 417.4L420.0 417.9" stroke="#000" stroke-opacity="0.75" stroke-width="0.5" fill="none" stroke-linecap="round"/>
<polygon points="486.6,416.6 497.1,416.0 478.4,418.7" fill="#fccf30" stroke="#fccf30" stroke-width="0.4"/><polygon points="497.1,416.0 488.9,409.9 478.4,418.7" fill="#fccf30" stroke="#fccf30" stroke-width="0.4"/><path d="M486.6 416.6L497.1 416.0 M497.1 416.0L488.9 409.9 M488.9 409.9L478.4 418.7 M478.4 418.7L486.6 416.6" stroke="#000" stroke-opacity="0.75" stroke-width="0.5" fill="none" stroke-linecap="round"/>
<polygon points="457.4,418.3 467.9,416.7 459.7,417.0" fill="#fccf30" stroke="#fccf30" stroke-width="0.4"/><polygon points="457.4,418.3 459.7,417.0 449.2,420.2" fill="#fccf30" stroke="#fccf30" stroke-width="0.4"/><path d="M457.4 418.3L467.9 416.7 M467.9 416.7L459.7 417.0 M459.7 417.0L449.2 420.2 M449.2 420.2L457.4 418.3" stroke="#000" stroke-opacity="0.75" stroke-width="0.5" fill="none" stroke-linecap="round"/>
<polygon points="428.1,432.3 438.7,425.9 430.5,416.4" fill="#64cd6f" stroke="#64cd6f" stroke-width="0.4"/><polygon points="428.1,432.3 430.5,416.4 420.0,417.9" fill="#64cd6f" stroke="#64cd6f" stroke-width="0.4"/><path d="M428.1 432.3L438.7 425.9 M438.7 425.9L430.5 416.4 M430.5 416.4L420.0 417.9 M420.0 417.9L428.1 432.3" stroke="#000" stroke-opacity="0.75" stroke-width="0.5" fill="none" stroke-linecap="round"/>
<polygon points="476.1,415.0 486.6,416.6 478.4,418.7" fill="#f6ef20" stroke="#f6ef20" stroke-width="0.4"/><polygon points="476.1,415.0 478.4,418.7 467.9,416.7" fill="#f6ef20" stroke="#f6ef20" stroke-width="0.4"/><path d="M476.1 415.0L486.6 416.6 M486.6 416.6L478.4 418.7 M478.4 418.7L467.9 416.7 M467.9 416.7L476.1 415.0" stroke="#000" stroke-opacity="0.75" stroke-width="0.5" fill="none" stroke-linecap="round"/>
<polygon points="446.8,434.3 457.4,418.3 449.2,420.2" fill="#57cc7a" stroke="#57cc7a" stroke-width="0.4"/><polygon points="446.8,434.3 449.2,420.2 438.7,425.9" fill="#57cc7a" stroke="#57cc7a" stroke-width="0.4"/><path d="M446.8 434.3L457.4 418.3 M457.4 418.3L449.2 420.2 M449.2 420.2L438.7 425.9 M438.7 425.9L446.8 434.3" stroke="#000" stroke-opacity="0.75" stroke-width="0.5" fill="none" stroke-linecap="round"/>
<polygon points="409.4,419.5 420.0,417.9 411.8,417.4" fill="#fccf30" stroke="#fccf30" stroke-width="0.4"/><polygon points="409.4,419.5 411.8,417.4 401.3,415.2" fill="#fccf30" stroke="#fccf30" stroke-width="0.4"/><path d="M409.4 419.5L420.0 417.9 M420.0 417.9L411.8 417.4 M411.8 417.4L401.3 415.2 M401.3 415.2L409.4 419.5" stroke="#000" stroke-opacity="0.75" stroke-width="0.5" fill="none" stroke-linecap="round"/>
<polygon points="436.3,426.7 446.8,434.3 438.7,425.9" fill="#f8ba3d" stroke="#f8ba3d" stroke-width="0.4"/><polygon points="436.3,426.7 438.7,425.9 428.1,432.3" fill="#f8ba3d" stroke="#f8ba3d" stroke-width="0.4"/><path d="M436.3 426.7L446.8 434.3 M446.8 434.3L438.7 425.9 M438.7 425.9L428.1 432.3 M428.1 432.3L436.3 426.7" stroke="#000" stroke-opacity="0.75" stroke-width="0.5" fill="none" stroke-linecap="round"/>
<polygon points="417.6,424.0 428.1,432.3 409.4,419.5" fill="#fec338" stroke="#fec338" stroke-width="0.4"/><polygon points="428.1,432.3 420.0,417.9 409.4,419.5" fill="#fec338" stroke="#fec338" stroke-width="0.4"/><path d="M417.6 424.0L428.1 432.3 M428.1 432.3L420.0 417.9 M420.0 417.9L409.4 419.5 M409.4 419.5L417.6 424.0" stroke="#000" stroke-opacity="0.75" stroke-width="0.5" fill="none" stroke-linecap="round"/>
<polygon points="465.6,417.5 476.1,415.0 467.9,416.7" fill="#f6ef20" stroke="#f6ef20" stroke-width="0.4"/><polygon points="465.6,417.5 467.9,416.7 457.4,418.3" fill="#f6ef20" stroke="#f6ef20" stroke-width="0.4"/><path d="M465.6 417.5L476.1 415.0 M476.1 415.0L467.9 416.7 M467.9 416.7L457.4 418.3 M457.4 418.3L465.6 417.5" stroke="#000" stroke-opacity="0.75" stroke-width="0.5" fill="none" stroke-linecap="round"/>
<polygon points="455.0,423.0 465.6,417.5 446.8,434.3" fill="#fad62d" stroke="#fad62d" stroke-width="0.4"/><polygon points="465.6,417.5 457.4,418.3 446.8,434.3" fill="#fad62d" stroke="#fad62d" stroke-width="0.4"/><path d="M455.0 423.0L465.6 417.5 M465.6 417.5L457.4 418.3 M457.4 418.3L446.8 434.3 M446.8 434.3L455.0 423.0" stroke="#000" stroke-opacity="0.75" stroke-width="0.5" fill="none" stroke-linecap="round"/>
<polygon points="425.8,421.1 436.3,426.7 428.1,432.3" fill="#f7f51b" stroke="#f7f51b" stroke-width="0.4"/><polygon points="425.8,421.1 428.1,432.3 417.6,424.0" fill="#f7f51b" stroke="#f7f51b" stroke-width="0.4"/><path d="M425.8 421.1L436.3 426.7 M436.3 426.7L428.1 432.3 M428.1 432.3L417.6 424.0 M417.6 424.0L425.8 421.1" stroke="#000" stroke-opacity="0.75" stroke-width="0.5" fill="none" stroke-linecap="round"/>
<polygon points="444.5,427.9 455.0,423.0 446.8,434.3" fill="#fec338" stroke="#fec338" stroke-width="0.4"/><polygon points="444.5,427.9 446.8,434.3 436.3,426.7" fill="#fec338" stroke="#fec338" stroke-width="0.4"/><path d="M444.5 427.9L455.0 423.0 M455.0 423.0L446.8 434.3 M446.8 434.3L436.3 426.7 M436.3 426.7L444.5 427.9" stroke="#000" stroke-opacity="0.75" stroke-width="0.5" fill="none" stroke-linecap="round"/>
<polygon points="434.0,429.6 444.5,427.9 425.8,421.1" fill="#fec934" stroke="#fec934" stroke-width="0.4"/><polygon points="444.5,427.9 436.3,426.7 425.8,421.1" fill="#fec934" stroke="#fec934" stroke-width="0.4"/><path d="M434.0 429.6L444.5 427.9 M444.5 427.9L436.3 426.7 M436.3 426.7L425.8 421.1 M425.8 421.1L434.0 429.6" stroke="#000" stroke-opacity="0.75" stroke-width="0.5" fill="none" stroke-linecap="round"/>
<path d="M349.8 458.5L349.8 390.0 M349.8 458.5L431.7 490.8 M431.7 490.8L536.8 466.7 M349.8 458.5L352.0 458.0 M349.8 435.7L352.0 435.2 M349.8 412.8L352.0 412.3 M349.8 390.0L352.0 389.5 M423.5 487.6L425.5 487.1 M415.3 484.3L417.3 483.8 M407.1 481.1L409.1 480.6 M398.9 477.9L400.9 477.4 M390.8 474.6L392.8 474.1 M382.6 471.4L384.6 470.9 M374.4 468.2L376.4 467.7 M366.2 465.0L368.2 464.5 M358.0 461.7L360.0 461.2 M431.7 490.8L430.1 490.1 M452.7 486.0L451.1 485.3 M473.7 481.2L472.1 480.5 M494.8 476.3L493.2 475.6 M515.8 471.5L514.2 470.8 M536.8 466.7L535.2 466.0" stroke="#4a4a4a" stroke-width="0.7" fill="none"/>
<g font-family="Liberation Sans, Arial, sans-serif" font-weight="bold" font-size="9.6" fill="#262626"><text x="344.8" y="461.0" text-anchor="end">0.4</text><text x="344.8" y="438.1" text-anchor="end">0.6</text><text x="344.8" y="415.3" text-anchor="end">0.8</text><text x="344.8" y="392.5" text-anchor="end">1</text><text x="417.3" y="498.0" text-anchor="end">1</text><text x="409.3" y="494.7" text-anchor="end">3</text><text x="401.2" y="491.3" text-anchor="end">5</text><text x="393.2" y="488.0" text-anchor="end">7</text><text x="385.2" y="484.6" text-anchor="end">9</text><text x="377.1" y="481.3" text-anchor="end">11</text><text x="369.1" y="477.9" text-anchor="end">13</text><text x="361.0" y="474.5" text-anchor="end">15</text><text x="353.0" y="471.2" text-anchor="end">17</text><text x="435.5" y="502.0" text-anchor="start">0</text><text x="456.5" y="497.1" text-anchor="start">0.2</text><text x="477.5" y="492.3" text-anchor="start">0.4</text><text x="498.6" y="487.5" text-anchor="start">0.6</text><text x="519.6" y="482.7" text-anchor="start">0.8</text><text x="540.6" y="477.9" text-anchor="start">1</text><text x="371.2" y="504.3" text-anchor="middle">degree</text><text x="495.9" y="505.2" text-anchor="middle">sigma</text><text x="0.0" y="0.0" text-anchor="middle" transform="translate(328.4 425.4) rotate(-90)">fscore</text></g>
<text x="439.0" y="531.3" text-anchor="middle" font-family="Liberation Serif, serif" font-size="13.5" fill="#111">(<tspan font-weight="normal">f</tspan>)</text></g>
</svg></body></html>
